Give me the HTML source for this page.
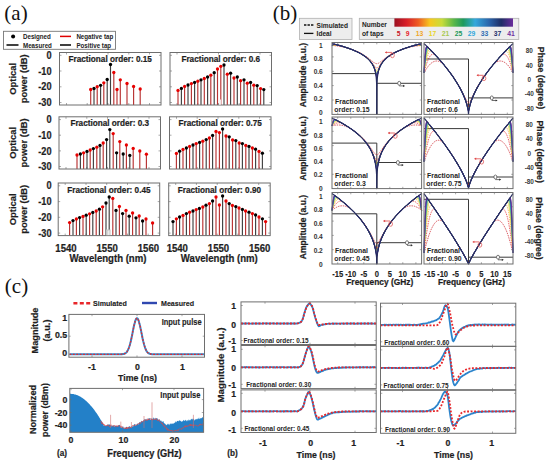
<!DOCTYPE html>
<html><head><meta charset="utf-8"><style>
html,body{margin:0;padding:0;background:#fff;width:550px;height:464px;overflow:hidden}
svg{display:block;font-family:"Liberation Sans",sans-serif}
</style></head><body>
<svg width="550" height="464" viewBox="0 0 550 464"><text x="16" y="19.9" font-size="21" text-anchor="middle" font-weight="normal" fill="#111" font-family="Liberation Serif">(a)</text>
<text x="285" y="20.4" font-size="21" text-anchor="middle" font-weight="normal" fill="#111" font-family="Liberation Serif">(b)</text>
<text x="16.5" y="292.6" font-size="21" text-anchor="middle" font-weight="normal" fill="#111" font-family="Liberation Serif">(c)</text>
<rect x="3.5" y="31.3" width="112" height="18" fill="none" stroke="#777" stroke-width="0.9"/>
<circle cx="13.1" cy="36.4" r="2" fill="#000"/>
<line x1="6.5" y1="45" x2="18.5" y2="45" stroke="#000" stroke-width="1.5"/>
<text x="23" y="38.7" font-size="6.2" text-anchor="start" font-weight="bold" fill="#222" font-family="Liberation Sans" transform="matrix(1 0 0 1.1 0 -3.7)">Designed</text>
<text x="23" y="47.4" font-size="6.2" text-anchor="start" font-weight="bold" fill="#222" font-family="Liberation Sans" transform="matrix(1 0 0 1.1 0 -4.5)">Measured</text>
<line x1="60" y1="36.4" x2="71" y2="36.4" stroke="#e00000" stroke-width="1.5"/>
<line x1="60" y1="45" x2="71" y2="45" stroke="#000" stroke-width="1.5"/>
<text x="76.4" y="38.7" font-size="6.2" text-anchor="start" font-weight="bold" fill="#222" font-family="Liberation Sans" transform="matrix(1 0 0 1.1 0 -3.7)">Negative tap</text>
<text x="76.4" y="47.4" font-size="6.2" text-anchor="start" font-weight="bold" fill="#222" font-family="Liberation Sans" transform="matrix(1 0 0 1.1 0 -4.5)">Positive tap</text>
<text x="51.6" y="58.6" font-size="9.2" text-anchor="end" font-weight="bold" fill="#1e1e1e" font-family="Liberation Sans" transform="matrix(1 0 0 1.1 0 -5.5)" stroke="#1e1e1e" stroke-width="0.2">0</text>
<text x="51.6" y="74.3" font-size="9.2" text-anchor="end" font-weight="bold" fill="#1e1e1e" font-family="Liberation Sans" transform="matrix(1 0 0 1.1 0 -7.1)" stroke="#1e1e1e" stroke-width="0.2">-10</text>
<text x="51.6" y="90.1" font-size="9.2" text-anchor="end" font-weight="bold" fill="#1e1e1e" font-family="Liberation Sans" transform="matrix(1 0 0 1.1 0 -8.7)" stroke="#1e1e1e" stroke-width="0.2">-20</text>
<text x="51.6" y="105.8" font-size="9.2" text-anchor="end" font-weight="bold" fill="#1e1e1e" font-family="Liberation Sans" transform="matrix(1 0 0 1.1 0 -10.3)" stroke="#1e1e1e" stroke-width="0.2">-30</text>
<text x="12.5" y="82.1" font-size="9.4" text-anchor="middle" font-weight="bold" fill="#1e1e1e" font-family="Liberation Sans" transform="rotate(-90 12.5 78.8)" stroke="#1e1e1e" stroke-width="0.2">Optical</text>
<text x="24" y="82.1" font-size="9.4" text-anchor="middle" font-weight="bold" fill="#1e1e1e" font-family="Liberation Sans" transform="rotate(-90 24 78.8)" stroke="#1e1e1e" stroke-width="0.2">power (dB)</text>
<line x1="66.5" y1="105" x2="66.5" y2="103" stroke="#6e6e6e" stroke-width="0.6"/>
<line x1="66.5" y1="52.5" x2="66.5" y2="54.5" stroke="#6e6e6e" stroke-width="0.6"/>
<line x1="87.2" y1="105" x2="87.2" y2="103" stroke="#6e6e6e" stroke-width="0.6"/>
<line x1="87.2" y1="52.5" x2="87.2" y2="54.5" stroke="#6e6e6e" stroke-width="0.6"/>
<line x1="108" y1="105" x2="108" y2="103" stroke="#6e6e6e" stroke-width="0.6"/>
<line x1="108" y1="52.5" x2="108" y2="54.5" stroke="#6e6e6e" stroke-width="0.6"/>
<line x1="128.8" y1="105" x2="128.8" y2="103" stroke="#6e6e6e" stroke-width="0.6"/>
<line x1="128.8" y1="52.5" x2="128.8" y2="54.5" stroke="#6e6e6e" stroke-width="0.6"/>
<line x1="149.5" y1="105" x2="149.5" y2="103" stroke="#6e6e6e" stroke-width="0.6"/>
<line x1="149.5" y1="52.5" x2="149.5" y2="54.5" stroke="#6e6e6e" stroke-width="0.6"/>
<line x1="59.5" y1="55.3" x2="61.5" y2="55.3" stroke="#6e6e6e" stroke-width="0.6"/>
<line x1="161" y1="55.3" x2="159" y2="55.3" stroke="#6e6e6e" stroke-width="0.6"/>
<line x1="59.5" y1="71" x2="61.5" y2="71" stroke="#6e6e6e" stroke-width="0.6"/>
<line x1="161" y1="71" x2="159" y2="71" stroke="#6e6e6e" stroke-width="0.6"/>
<line x1="59.5" y1="86.8" x2="61.5" y2="86.8" stroke="#6e6e6e" stroke-width="0.6"/>
<line x1="161" y1="86.8" x2="159" y2="86.8" stroke="#6e6e6e" stroke-width="0.6"/>
<line x1="59.5" y1="102.5" x2="61.5" y2="102.5" stroke="#6e6e6e" stroke-width="0.6"/>
<line x1="161" y1="102.5" x2="159" y2="102.5" stroke="#6e6e6e" stroke-width="0.6"/>
<line x1="90.7" y1="105" x2="90.7" y2="89.5" stroke="#b83232" stroke-width="1.15"/>
<line x1="94" y1="105" x2="94" y2="88.5" stroke="#404040" stroke-width="1.15"/>
<line x1="97.2" y1="105" x2="97.2" y2="86.7" stroke="#b83232" stroke-width="1.15"/>
<line x1="100.6" y1="105" x2="100.6" y2="85.3" stroke="#404040" stroke-width="1.15"/>
<line x1="103.8" y1="105" x2="103.8" y2="82.8" stroke="#b83232" stroke-width="1.15"/>
<line x1="107.2" y1="105" x2="107.2" y2="79.5" stroke="#404040" stroke-width="1.15"/>
<line x1="110.5" y1="105" x2="110.5" y2="64.5" stroke="#404040" stroke-width="1.15"/>
<line x1="113.8" y1="105" x2="113.8" y2="72.5" stroke="#b83232" stroke-width="1.15"/>
<line x1="117" y1="105" x2="117" y2="89.5" stroke="#b83232" stroke-width="1.15"/>
<line x1="120.3" y1="105" x2="120.3" y2="79.8" stroke="#b83232" stroke-width="1.15"/>
<line x1="127" y1="105" x2="127" y2="83.5" stroke="#b83232" stroke-width="1.15"/>
<line x1="133.6" y1="105" x2="133.6" y2="86.5" stroke="#b83232" stroke-width="1.15"/>
<line x1="140.2" y1="105" x2="140.2" y2="89" stroke="#b83232" stroke-width="1.15"/>
<circle cx="90.7" cy="89.5" r="1.65" fill="#e80000"/>
<circle cx="94" cy="88.5" r="1.65" fill="#000"/>
<circle cx="97.2" cy="86.7" r="1.65" fill="#e80000"/>
<circle cx="100.6" cy="85.3" r="1.65" fill="#000"/>
<circle cx="103.8" cy="82.8" r="1.65" fill="#e80000"/>
<circle cx="107.2" cy="79.5" r="1.65" fill="#000"/>
<circle cx="110.5" cy="64.5" r="1.65" fill="#000"/>
<circle cx="113.8" cy="72.5" r="1.65" fill="#e80000"/>
<circle cx="117" cy="89.5" r="1.65" fill="#e80000"/>
<circle cx="120.3" cy="79.8" r="1.65" fill="#e80000"/>
<circle cx="127" cy="83.5" r="1.65" fill="#e80000"/>
<circle cx="133.6" cy="86.5" r="1.65" fill="#e80000"/>
<circle cx="140.2" cy="89" r="1.65" fill="#e80000"/>
<rect x="59.5" y="52.5" width="101.5" height="52.5" fill="none" stroke="#6e6e6e" stroke-width="1"/>
<text x="110.2" y="61.7" font-size="8.2" text-anchor="middle" font-weight="bold" fill="#1e1e1e" font-family="Liberation Sans" transform="matrix(1 0 0 1.1 0 -5.9)" stroke="#1e1e1e" stroke-width="0.2">Fractional order: 0.15</text>
<line x1="177" y1="105" x2="177" y2="103" stroke="#6e6e6e" stroke-width="0.6"/>
<line x1="177" y1="52.5" x2="177" y2="54.5" stroke="#6e6e6e" stroke-width="0.6"/>
<line x1="197.8" y1="105" x2="197.8" y2="103" stroke="#6e6e6e" stroke-width="0.6"/>
<line x1="197.8" y1="52.5" x2="197.8" y2="54.5" stroke="#6e6e6e" stroke-width="0.6"/>
<line x1="218.5" y1="105" x2="218.5" y2="103" stroke="#6e6e6e" stroke-width="0.6"/>
<line x1="218.5" y1="52.5" x2="218.5" y2="54.5" stroke="#6e6e6e" stroke-width="0.6"/>
<line x1="239.2" y1="105" x2="239.2" y2="103" stroke="#6e6e6e" stroke-width="0.6"/>
<line x1="239.2" y1="52.5" x2="239.2" y2="54.5" stroke="#6e6e6e" stroke-width="0.6"/>
<line x1="260" y1="105" x2="260" y2="103" stroke="#6e6e6e" stroke-width="0.6"/>
<line x1="260" y1="52.5" x2="260" y2="54.5" stroke="#6e6e6e" stroke-width="0.6"/>
<line x1="170" y1="55.3" x2="172" y2="55.3" stroke="#6e6e6e" stroke-width="0.6"/>
<line x1="271.5" y1="55.3" x2="269.5" y2="55.3" stroke="#6e6e6e" stroke-width="0.6"/>
<line x1="170" y1="71" x2="172" y2="71" stroke="#6e6e6e" stroke-width="0.6"/>
<line x1="271.5" y1="71" x2="269.5" y2="71" stroke="#6e6e6e" stroke-width="0.6"/>
<line x1="170" y1="86.8" x2="172" y2="86.8" stroke="#6e6e6e" stroke-width="0.6"/>
<line x1="271.5" y1="86.8" x2="269.5" y2="86.8" stroke="#6e6e6e" stroke-width="0.6"/>
<line x1="170" y1="102.5" x2="172" y2="102.5" stroke="#6e6e6e" stroke-width="0.6"/>
<line x1="271.5" y1="102.5" x2="269.5" y2="102.5" stroke="#6e6e6e" stroke-width="0.6"/>
<line x1="178" y1="105" x2="178" y2="90.4" stroke="#b83232" stroke-width="1.15"/>
<line x1="181.4" y1="105" x2="181.4" y2="88.4" stroke="#404040" stroke-width="1.15"/>
<line x1="184.6" y1="105" x2="184.6" y2="86.4" stroke="#b83232" stroke-width="1.15"/>
<line x1="188" y1="105" x2="188" y2="85" stroke="#404040" stroke-width="1.15"/>
<line x1="191.4" y1="105" x2="191.4" y2="83.6" stroke="#b83232" stroke-width="1.15"/>
<line x1="194.6" y1="105" x2="194.6" y2="82.4" stroke="#404040" stroke-width="1.15"/>
<line x1="197.8" y1="105" x2="197.8" y2="81.2" stroke="#b83232" stroke-width="1.15"/>
<line x1="201" y1="105" x2="201" y2="79.8" stroke="#404040" stroke-width="1.15"/>
<line x1="204.3" y1="105" x2="204.3" y2="78.5" stroke="#b83232" stroke-width="1.15"/>
<line x1="207.6" y1="105" x2="207.6" y2="77" stroke="#404040" stroke-width="1.15"/>
<line x1="210.8" y1="105" x2="210.8" y2="75.2" stroke="#b83232" stroke-width="1.15"/>
<line x1="214.2" y1="105" x2="214.2" y2="72.7" stroke="#404040" stroke-width="1.15"/>
<line x1="217.5" y1="105" x2="217.5" y2="69" stroke="#b83232" stroke-width="1.15"/>
<line x1="220.8" y1="105" x2="220.8" y2="66.3" stroke="#b83232" stroke-width="1.15"/>
<line x1="224" y1="105" x2="224" y2="65" stroke="#404040" stroke-width="1.15"/>
<line x1="227.3" y1="105" x2="227.3" y2="74.2" stroke="#b83232" stroke-width="1.15"/>
<line x1="230.6" y1="105" x2="230.6" y2="73.2" stroke="#404040" stroke-width="1.15"/>
<line x1="234" y1="105" x2="234" y2="78" stroke="#b83232" stroke-width="1.15"/>
<line x1="237.3" y1="105" x2="237.3" y2="77" stroke="#404040" stroke-width="1.15"/>
<line x1="240.6" y1="105" x2="240.6" y2="80.7" stroke="#b83232" stroke-width="1.15"/>
<line x1="244" y1="105" x2="244" y2="79.8" stroke="#404040" stroke-width="1.15"/>
<line x1="247.3" y1="105" x2="247.3" y2="83.2" stroke="#b83232" stroke-width="1.15"/>
<line x1="250.6" y1="105" x2="250.6" y2="82.4" stroke="#404040" stroke-width="1.15"/>
<line x1="253.8" y1="105" x2="253.8" y2="85.2" stroke="#b83232" stroke-width="1.15"/>
<line x1="257.2" y1="105" x2="257.2" y2="85.6" stroke="#404040" stroke-width="1.15"/>
<line x1="260.6" y1="105" x2="260.6" y2="88.6" stroke="#b83232" stroke-width="1.15"/>
<line x1="263.8" y1="105" x2="263.8" y2="89.6" stroke="#404040" stroke-width="1.15"/>
<circle cx="178" cy="90.4" r="1.65" fill="#e80000"/>
<circle cx="181.4" cy="88.4" r="1.65" fill="#000"/>
<circle cx="184.6" cy="86.4" r="1.65" fill="#e80000"/>
<circle cx="188" cy="85" r="1.65" fill="#000"/>
<circle cx="191.4" cy="83.6" r="1.65" fill="#e80000"/>
<circle cx="194.6" cy="82.4" r="1.65" fill="#000"/>
<circle cx="197.8" cy="81.2" r="1.65" fill="#e80000"/>
<circle cx="201" cy="79.8" r="1.65" fill="#000"/>
<circle cx="204.3" cy="78.5" r="1.65" fill="#e80000"/>
<circle cx="207.6" cy="77" r="1.65" fill="#000"/>
<circle cx="210.8" cy="75.2" r="1.65" fill="#e80000"/>
<circle cx="214.2" cy="72.7" r="1.65" fill="#000"/>
<circle cx="217.5" cy="69" r="1.65" fill="#e80000"/>
<circle cx="220.8" cy="66.3" r="1.65" fill="#e80000"/>
<circle cx="224" cy="65" r="1.65" fill="#000"/>
<circle cx="227.3" cy="74.2" r="1.65" fill="#e80000"/>
<circle cx="230.6" cy="73.2" r="1.65" fill="#000"/>
<circle cx="234" cy="78" r="1.65" fill="#e80000"/>
<circle cx="237.3" cy="77" r="1.65" fill="#000"/>
<circle cx="240.6" cy="80.7" r="1.65" fill="#e80000"/>
<circle cx="244" cy="79.8" r="1.65" fill="#000"/>
<circle cx="247.3" cy="83.2" r="1.65" fill="#e80000"/>
<circle cx="250.6" cy="82.4" r="1.65" fill="#000"/>
<circle cx="253.8" cy="85.2" r="1.65" fill="#e80000"/>
<circle cx="257.2" cy="85.6" r="1.65" fill="#000"/>
<circle cx="260.6" cy="88.6" r="1.65" fill="#e80000"/>
<circle cx="263.8" cy="89.6" r="1.65" fill="#000"/>
<rect x="170" y="52.5" width="101.5" height="52.5" fill="none" stroke="#6e6e6e" stroke-width="1"/>
<text x="220.8" y="61.7" font-size="8.2" text-anchor="middle" font-weight="bold" fill="#1e1e1e" font-family="Liberation Sans" transform="matrix(1 0 0 1.1 0 -5.9)" stroke="#1e1e1e" stroke-width="0.2">Fractional order: 0.6</text>
<text x="51.6" y="122.9" font-size="9.2" text-anchor="end" font-weight="bold" fill="#1e1e1e" font-family="Liberation Sans" transform="matrix(1 0 0 1.1 0 -12)" stroke="#1e1e1e" stroke-width="0.2">0</text>
<text x="51.6" y="138.5" font-size="9.2" text-anchor="end" font-weight="bold" fill="#1e1e1e" font-family="Liberation Sans" transform="matrix(1 0 0 1.1 0 -13.5)" stroke="#1e1e1e" stroke-width="0.2">-10</text>
<text x="51.6" y="154.2" font-size="9.2" text-anchor="end" font-weight="bold" fill="#1e1e1e" font-family="Liberation Sans" transform="matrix(1 0 0 1.1 0 -15.1)" stroke="#1e1e1e" stroke-width="0.2">-20</text>
<text x="51.6" y="169.8" font-size="9.2" text-anchor="end" font-weight="bold" fill="#1e1e1e" font-family="Liberation Sans" transform="matrix(1 0 0 1.1 0 -16.7)" stroke="#1e1e1e" stroke-width="0.2">-30</text>
<text x="12.5" y="146.3" font-size="9.4" text-anchor="middle" font-weight="bold" fill="#1e1e1e" font-family="Liberation Sans" transform="rotate(-90 12.5 142.9)" stroke="#1e1e1e" stroke-width="0.2">Optical</text>
<text x="24" y="146.3" font-size="9.4" text-anchor="middle" font-weight="bold" fill="#1e1e1e" font-family="Liberation Sans" transform="rotate(-90 24 142.9)" stroke="#1e1e1e" stroke-width="0.2">power (dB)</text>
<line x1="66" y1="169" x2="66" y2="167" stroke="#6e6e6e" stroke-width="0.6"/>
<line x1="66" y1="116.8" x2="66" y2="118.8" stroke="#6e6e6e" stroke-width="0.6"/>
<line x1="86.8" y1="169" x2="86.8" y2="167" stroke="#6e6e6e" stroke-width="0.6"/>
<line x1="86.8" y1="116.8" x2="86.8" y2="118.8" stroke="#6e6e6e" stroke-width="0.6"/>
<line x1="107.5" y1="169" x2="107.5" y2="167" stroke="#6e6e6e" stroke-width="0.6"/>
<line x1="107.5" y1="116.8" x2="107.5" y2="118.8" stroke="#6e6e6e" stroke-width="0.6"/>
<line x1="128.2" y1="169" x2="128.2" y2="167" stroke="#6e6e6e" stroke-width="0.6"/>
<line x1="128.2" y1="116.8" x2="128.2" y2="118.8" stroke="#6e6e6e" stroke-width="0.6"/>
<line x1="149" y1="169" x2="149" y2="167" stroke="#6e6e6e" stroke-width="0.6"/>
<line x1="149" y1="116.8" x2="149" y2="118.8" stroke="#6e6e6e" stroke-width="0.6"/>
<line x1="59" y1="119.6" x2="61" y2="119.6" stroke="#6e6e6e" stroke-width="0.6"/>
<line x1="160.5" y1="119.6" x2="158.5" y2="119.6" stroke="#6e6e6e" stroke-width="0.6"/>
<line x1="59" y1="135.2" x2="61" y2="135.2" stroke="#6e6e6e" stroke-width="0.6"/>
<line x1="160.5" y1="135.2" x2="158.5" y2="135.2" stroke="#6e6e6e" stroke-width="0.6"/>
<line x1="59" y1="150.9" x2="61" y2="150.9" stroke="#6e6e6e" stroke-width="0.6"/>
<line x1="160.5" y1="150.9" x2="158.5" y2="150.9" stroke="#6e6e6e" stroke-width="0.6"/>
<line x1="59" y1="166.5" x2="61" y2="166.5" stroke="#6e6e6e" stroke-width="0.6"/>
<line x1="160.5" y1="166.5" x2="158.5" y2="166.5" stroke="#6e6e6e" stroke-width="0.6"/>
<line x1="77" y1="169" x2="77" y2="155" stroke="#b83232" stroke-width="1.15"/>
<line x1="80.4" y1="169" x2="80.4" y2="154" stroke="#404040" stroke-width="1.15"/>
<line x1="83.6" y1="169" x2="83.6" y2="152.8" stroke="#b83232" stroke-width="1.15"/>
<line x1="87" y1="169" x2="87" y2="151.4" stroke="#404040" stroke-width="1.15"/>
<line x1="90.2" y1="169" x2="90.2" y2="150" stroke="#b83232" stroke-width="1.15"/>
<line x1="93.4" y1="169" x2="93.4" y2="148.6" stroke="#404040" stroke-width="1.15"/>
<line x1="96.8" y1="169" x2="96.8" y2="147.2" stroke="#b83232" stroke-width="1.15"/>
<line x1="100" y1="169" x2="100" y2="145.4" stroke="#404040" stroke-width="1.15"/>
<line x1="103.2" y1="169" x2="103.2" y2="143" stroke="#b83232" stroke-width="1.15"/>
<line x1="106.6" y1="169" x2="106.6" y2="139.6" stroke="#404040" stroke-width="1.15"/>
<line x1="109.8" y1="169" x2="109.8" y2="129.6" stroke="#404040" stroke-width="1.15"/>
<line x1="113.2" y1="169" x2="113.2" y2="133.6" stroke="#b83232" stroke-width="1.15"/>
<line x1="116.6" y1="169" x2="116.6" y2="152.8" stroke="#404040" stroke-width="1.15"/>
<line x1="119.8" y1="169" x2="119.8" y2="141.6" stroke="#b83232" stroke-width="1.15"/>
<line x1="123.2" y1="169" x2="123.2" y2="154" stroke="#404040" stroke-width="1.15"/>
<line x1="126.4" y1="169" x2="126.4" y2="145" stroke="#b83232" stroke-width="1.15"/>
<line x1="129.8" y1="169" x2="129.8" y2="155.4" stroke="#404040" stroke-width="1.15"/>
<line x1="133.2" y1="169" x2="133.2" y2="148.4" stroke="#b83232" stroke-width="1.15"/>
<line x1="139.8" y1="169" x2="139.8" y2="151" stroke="#b83232" stroke-width="1.15"/>
<line x1="146.4" y1="169" x2="146.4" y2="154.2" stroke="#b83232" stroke-width="1.15"/>
<circle cx="77" cy="155" r="1.65" fill="#e80000"/>
<circle cx="80.4" cy="154" r="1.65" fill="#000"/>
<circle cx="83.6" cy="152.8" r="1.65" fill="#e80000"/>
<circle cx="87" cy="151.4" r="1.65" fill="#000"/>
<circle cx="90.2" cy="150" r="1.65" fill="#e80000"/>
<circle cx="93.4" cy="148.6" r="1.65" fill="#000"/>
<circle cx="96.8" cy="147.2" r="1.65" fill="#e80000"/>
<circle cx="100" cy="145.4" r="1.65" fill="#000"/>
<circle cx="103.2" cy="143" r="1.65" fill="#e80000"/>
<circle cx="106.6" cy="139.6" r="1.65" fill="#000"/>
<circle cx="109.8" cy="129.6" r="1.65" fill="#000"/>
<circle cx="113.2" cy="133.6" r="1.65" fill="#e80000"/>
<circle cx="116.6" cy="152.8" r="1.65" fill="#000"/>
<circle cx="119.8" cy="141.6" r="1.65" fill="#e80000"/>
<circle cx="123.2" cy="154" r="1.65" fill="#000"/>
<circle cx="126.4" cy="145" r="1.65" fill="#e80000"/>
<circle cx="129.8" cy="155.4" r="1.65" fill="#000"/>
<circle cx="133.2" cy="148.4" r="1.65" fill="#e80000"/>
<circle cx="139.8" cy="151" r="1.65" fill="#e80000"/>
<circle cx="146.4" cy="154.2" r="1.65" fill="#e80000"/>
<rect x="59" y="116.8" width="101.5" height="52.2" fill="none" stroke="#6e6e6e" stroke-width="1"/>
<text x="109.8" y="126" font-size="8.2" text-anchor="middle" font-weight="bold" fill="#1e1e1e" font-family="Liberation Sans" transform="matrix(1 0 0 1.1 0 -12.3)" stroke="#1e1e1e" stroke-width="0.2">Fractional order: 0.3</text>
<line x1="176.5" y1="169" x2="176.5" y2="167" stroke="#6e6e6e" stroke-width="0.6"/>
<line x1="176.5" y1="116.8" x2="176.5" y2="118.8" stroke="#6e6e6e" stroke-width="0.6"/>
<line x1="197.2" y1="169" x2="197.2" y2="167" stroke="#6e6e6e" stroke-width="0.6"/>
<line x1="197.2" y1="116.8" x2="197.2" y2="118.8" stroke="#6e6e6e" stroke-width="0.6"/>
<line x1="218" y1="169" x2="218" y2="167" stroke="#6e6e6e" stroke-width="0.6"/>
<line x1="218" y1="116.8" x2="218" y2="118.8" stroke="#6e6e6e" stroke-width="0.6"/>
<line x1="238.8" y1="169" x2="238.8" y2="167" stroke="#6e6e6e" stroke-width="0.6"/>
<line x1="238.8" y1="116.8" x2="238.8" y2="118.8" stroke="#6e6e6e" stroke-width="0.6"/>
<line x1="259.5" y1="169" x2="259.5" y2="167" stroke="#6e6e6e" stroke-width="0.6"/>
<line x1="259.5" y1="116.8" x2="259.5" y2="118.8" stroke="#6e6e6e" stroke-width="0.6"/>
<line x1="169.5" y1="119.6" x2="171.5" y2="119.6" stroke="#6e6e6e" stroke-width="0.6"/>
<line x1="271" y1="119.6" x2="269" y2="119.6" stroke="#6e6e6e" stroke-width="0.6"/>
<line x1="169.5" y1="135.2" x2="171.5" y2="135.2" stroke="#6e6e6e" stroke-width="0.6"/>
<line x1="271" y1="135.2" x2="269" y2="135.2" stroke="#6e6e6e" stroke-width="0.6"/>
<line x1="169.5" y1="150.9" x2="171.5" y2="150.9" stroke="#6e6e6e" stroke-width="0.6"/>
<line x1="271" y1="150.9" x2="269" y2="150.9" stroke="#6e6e6e" stroke-width="0.6"/>
<line x1="169.5" y1="166.5" x2="171.5" y2="166.5" stroke="#6e6e6e" stroke-width="0.6"/>
<line x1="271" y1="166.5" x2="269" y2="166.5" stroke="#6e6e6e" stroke-width="0.6"/>
<line x1="176.4" y1="169" x2="176.4" y2="153.4" stroke="#b83232" stroke-width="1.15"/>
<line x1="179.6" y1="169" x2="179.6" y2="151.2" stroke="#404040" stroke-width="1.15"/>
<line x1="183" y1="169" x2="183" y2="149.4" stroke="#b83232" stroke-width="1.15"/>
<line x1="186.4" y1="169" x2="186.4" y2="148" stroke="#404040" stroke-width="1.15"/>
<line x1="189.6" y1="169" x2="189.6" y2="146.4" stroke="#b83232" stroke-width="1.15"/>
<line x1="193" y1="169" x2="193" y2="145" stroke="#404040" stroke-width="1.15"/>
<line x1="196.2" y1="169" x2="196.2" y2="143.6" stroke="#b83232" stroke-width="1.15"/>
<line x1="199.6" y1="169" x2="199.6" y2="142.4" stroke="#404040" stroke-width="1.15"/>
<line x1="202.8" y1="169" x2="202.8" y2="141.2" stroke="#b83232" stroke-width="1.15"/>
<line x1="206.2" y1="169" x2="206.2" y2="139.6" stroke="#404040" stroke-width="1.15"/>
<line x1="209.4" y1="169" x2="209.4" y2="138" stroke="#b83232" stroke-width="1.15"/>
<line x1="212.6" y1="169" x2="212.6" y2="135.4" stroke="#404040" stroke-width="1.15"/>
<line x1="216" y1="169" x2="216" y2="131.4" stroke="#b83232" stroke-width="1.15"/>
<line x1="219.4" y1="169" x2="219.4" y2="132.6" stroke="#b83232" stroke-width="1.15"/>
<line x1="222.6" y1="169" x2="222.6" y2="129" stroke="#404040" stroke-width="1.15"/>
<line x1="226" y1="169" x2="226" y2="136" stroke="#b83232" stroke-width="1.15"/>
<line x1="229.2" y1="169" x2="229.2" y2="136.8" stroke="#404040" stroke-width="1.15"/>
<line x1="232.6" y1="169" x2="232.6" y2="140" stroke="#b83232" stroke-width="1.15"/>
<line x1="235.8" y1="169" x2="235.8" y2="140.6" stroke="#404040" stroke-width="1.15"/>
<line x1="239.2" y1="169" x2="239.2" y2="143" stroke="#b83232" stroke-width="1.15"/>
<line x1="242.4" y1="169" x2="242.4" y2="143.6" stroke="#404040" stroke-width="1.15"/>
<line x1="245.8" y1="169" x2="245.8" y2="145.4" stroke="#b83232" stroke-width="1.15"/>
<line x1="249" y1="169" x2="249" y2="146.4" stroke="#404040" stroke-width="1.15"/>
<line x1="252.4" y1="169" x2="252.4" y2="148" stroke="#b83232" stroke-width="1.15"/>
<line x1="255.6" y1="169" x2="255.6" y2="149.2" stroke="#404040" stroke-width="1.15"/>
<line x1="259" y1="169" x2="259" y2="151.4" stroke="#b83232" stroke-width="1.15"/>
<line x1="262.4" y1="169" x2="262.4" y2="153.2" stroke="#404040" stroke-width="1.15"/>
<circle cx="176.4" cy="153.4" r="1.65" fill="#e80000"/>
<circle cx="179.6" cy="151.2" r="1.65" fill="#000"/>
<circle cx="183" cy="149.4" r="1.65" fill="#e80000"/>
<circle cx="186.4" cy="148" r="1.65" fill="#000"/>
<circle cx="189.6" cy="146.4" r="1.65" fill="#e80000"/>
<circle cx="193" cy="145" r="1.65" fill="#000"/>
<circle cx="196.2" cy="143.6" r="1.65" fill="#e80000"/>
<circle cx="199.6" cy="142.4" r="1.65" fill="#000"/>
<circle cx="202.8" cy="141.2" r="1.65" fill="#e80000"/>
<circle cx="206.2" cy="139.6" r="1.65" fill="#000"/>
<circle cx="209.4" cy="138" r="1.65" fill="#e80000"/>
<circle cx="212.6" cy="135.4" r="1.65" fill="#000"/>
<circle cx="216" cy="131.4" r="1.65" fill="#e80000"/>
<circle cx="219.4" cy="132.6" r="1.65" fill="#e80000"/>
<circle cx="222.6" cy="129" r="1.65" fill="#000"/>
<circle cx="226" cy="136" r="1.65" fill="#e80000"/>
<circle cx="229.2" cy="136.8" r="1.65" fill="#000"/>
<circle cx="232.6" cy="140" r="1.65" fill="#e80000"/>
<circle cx="235.8" cy="140.6" r="1.65" fill="#000"/>
<circle cx="239.2" cy="143" r="1.65" fill="#e80000"/>
<circle cx="242.4" cy="143.6" r="1.65" fill="#000"/>
<circle cx="245.8" cy="145.4" r="1.65" fill="#e80000"/>
<circle cx="249" cy="146.4" r="1.65" fill="#000"/>
<circle cx="252.4" cy="148" r="1.65" fill="#e80000"/>
<circle cx="255.6" cy="149.2" r="1.65" fill="#000"/>
<circle cx="259" cy="151.4" r="1.65" fill="#e80000"/>
<circle cx="262.4" cy="153.2" r="1.65" fill="#000"/>
<rect x="169.5" y="116.8" width="101.5" height="52.2" fill="none" stroke="#6e6e6e" stroke-width="1"/>
<text x="220.2" y="126" font-size="8.2" text-anchor="middle" font-weight="bold" fill="#1e1e1e" font-family="Liberation Sans" transform="matrix(1 0 0 1.1 0 -12.3)" stroke="#1e1e1e" stroke-width="0.2">Fractional order: 0.75</text>
<text x="51.6" y="189.1" font-size="9.2" text-anchor="end" font-weight="bold" fill="#1e1e1e" font-family="Liberation Sans" transform="matrix(1 0 0 1.1 0 -18.6)" stroke="#1e1e1e" stroke-width="0.2">0</text>
<text x="51.6" y="204.9" font-size="9.2" text-anchor="end" font-weight="bold" fill="#1e1e1e" font-family="Liberation Sans" transform="matrix(1 0 0 1.1 0 -20.2)" stroke="#1e1e1e" stroke-width="0.2">-10</text>
<text x="51.6" y="220.6" font-size="9.2" text-anchor="end" font-weight="bold" fill="#1e1e1e" font-family="Liberation Sans" transform="matrix(1 0 0 1.1 0 -21.7)" stroke="#1e1e1e" stroke-width="0.2">-20</text>
<text x="51.6" y="236.4" font-size="9.2" text-anchor="end" font-weight="bold" fill="#1e1e1e" font-family="Liberation Sans" transform="matrix(1 0 0 1.1 0 -23.3)" stroke="#1e1e1e" stroke-width="0.2">-30</text>
<text x="12.5" y="212.7" font-size="9.4" text-anchor="middle" font-weight="bold" fill="#1e1e1e" font-family="Liberation Sans" transform="rotate(-90 12.5 209.3)" stroke="#1e1e1e" stroke-width="0.2">Optical</text>
<text x="24" y="212.7" font-size="9.4" text-anchor="middle" font-weight="bold" fill="#1e1e1e" font-family="Liberation Sans" transform="rotate(-90 24 209.3)" stroke="#1e1e1e" stroke-width="0.2">power (dB)</text>
<line x1="65.2" y1="235.6" x2="65.2" y2="233.6" stroke="#6e6e6e" stroke-width="0.6"/>
<line x1="65.2" y1="183" x2="65.2" y2="185" stroke="#6e6e6e" stroke-width="0.6"/>
<line x1="86" y1="235.6" x2="86" y2="233.6" stroke="#6e6e6e" stroke-width="0.6"/>
<line x1="86" y1="183" x2="86" y2="185" stroke="#6e6e6e" stroke-width="0.6"/>
<line x1="106.7" y1="235.6" x2="106.7" y2="233.6" stroke="#6e6e6e" stroke-width="0.6"/>
<line x1="106.7" y1="183" x2="106.7" y2="185" stroke="#6e6e6e" stroke-width="0.6"/>
<line x1="127.5" y1="235.6" x2="127.5" y2="233.6" stroke="#6e6e6e" stroke-width="0.6"/>
<line x1="127.5" y1="183" x2="127.5" y2="185" stroke="#6e6e6e" stroke-width="0.6"/>
<line x1="148.2" y1="235.6" x2="148.2" y2="233.6" stroke="#6e6e6e" stroke-width="0.6"/>
<line x1="148.2" y1="183" x2="148.2" y2="185" stroke="#6e6e6e" stroke-width="0.6"/>
<line x1="58.2" y1="185.8" x2="60.2" y2="185.8" stroke="#6e6e6e" stroke-width="0.6"/>
<line x1="159.7" y1="185.8" x2="157.7" y2="185.8" stroke="#6e6e6e" stroke-width="0.6"/>
<line x1="58.2" y1="201.6" x2="60.2" y2="201.6" stroke="#6e6e6e" stroke-width="0.6"/>
<line x1="159.7" y1="201.6" x2="157.7" y2="201.6" stroke="#6e6e6e" stroke-width="0.6"/>
<line x1="58.2" y1="217.3" x2="60.2" y2="217.3" stroke="#6e6e6e" stroke-width="0.6"/>
<line x1="159.7" y1="217.3" x2="157.7" y2="217.3" stroke="#6e6e6e" stroke-width="0.6"/>
<line x1="58.2" y1="233.1" x2="60.2" y2="233.1" stroke="#6e6e6e" stroke-width="0.6"/>
<line x1="159.7" y1="233.1" x2="157.7" y2="233.1" stroke="#6e6e6e" stroke-width="0.6"/>
<line x1="69.6" y1="235.6" x2="69.6" y2="222.6" stroke="#b83232" stroke-width="1.15"/>
<line x1="73" y1="235.6" x2="73" y2="220.6" stroke="#404040" stroke-width="1.15"/>
<line x1="76.4" y1="235.6" x2="76.4" y2="219" stroke="#b83232" stroke-width="1.15"/>
<line x1="79.6" y1="235.6" x2="79.6" y2="217.6" stroke="#404040" stroke-width="1.15"/>
<line x1="83" y1="235.6" x2="83" y2="216.4" stroke="#b83232" stroke-width="1.15"/>
<line x1="86.2" y1="235.6" x2="86.2" y2="215.2" stroke="#404040" stroke-width="1.15"/>
<line x1="89.6" y1="235.6" x2="89.6" y2="213.8" stroke="#b83232" stroke-width="1.15"/>
<line x1="92.8" y1="235.6" x2="92.8" y2="212.4" stroke="#404040" stroke-width="1.15"/>
<line x1="96.2" y1="235.6" x2="96.2" y2="211" stroke="#b83232" stroke-width="1.15"/>
<line x1="99.4" y1="235.6" x2="99.4" y2="209.2" stroke="#404040" stroke-width="1.15"/>
<line x1="102.6" y1="235.6" x2="102.6" y2="206.8" stroke="#b83232" stroke-width="1.15"/>
<line x1="106" y1="235.6" x2="106" y2="203" stroke="#404040" stroke-width="1.15"/>
<line x1="109.2" y1="235.6" x2="109.2" y2="197" stroke="#404040" stroke-width="1.15"/>
<line x1="112.8" y1="235.6" x2="112.8" y2="198.4" stroke="#b83232" stroke-width="1.15"/>
<line x1="116" y1="235.6" x2="116" y2="210.4" stroke="#404040" stroke-width="1.15"/>
<line x1="119.4" y1="235.6" x2="119.4" y2="206.4" stroke="#b83232" stroke-width="1.15"/>
<line x1="122.6" y1="235.6" x2="122.6" y2="213.6" stroke="#404040" stroke-width="1.15"/>
<line x1="126" y1="235.6" x2="126" y2="210.4" stroke="#b83232" stroke-width="1.15"/>
<line x1="129.2" y1="235.6" x2="129.2" y2="216.2" stroke="#404040" stroke-width="1.15"/>
<line x1="132.6" y1="235.6" x2="132.6" y2="213" stroke="#b83232" stroke-width="1.15"/>
<line x1="136" y1="235.6" x2="136" y2="217.8" stroke="#404040" stroke-width="1.15"/>
<line x1="139.2" y1="235.6" x2="139.2" y2="216" stroke="#b83232" stroke-width="1.15"/>
<line x1="142.6" y1="235.6" x2="142.6" y2="221" stroke="#404040" stroke-width="1.15"/>
<line x1="146" y1="235.6" x2="146" y2="219" stroke="#b83232" stroke-width="1.15"/>
<line x1="152.6" y1="235.6" x2="152.6" y2="223" stroke="#b83232" stroke-width="1.15"/>
<circle cx="69.6" cy="222.6" r="1.65" fill="#e80000"/>
<circle cx="73" cy="220.6" r="1.65" fill="#000"/>
<circle cx="76.4" cy="219" r="1.65" fill="#e80000"/>
<circle cx="79.6" cy="217.6" r="1.65" fill="#000"/>
<circle cx="83" cy="216.4" r="1.65" fill="#e80000"/>
<circle cx="86.2" cy="215.2" r="1.65" fill="#000"/>
<circle cx="89.6" cy="213.8" r="1.65" fill="#e80000"/>
<circle cx="92.8" cy="212.4" r="1.65" fill="#000"/>
<circle cx="96.2" cy="211" r="1.65" fill="#e80000"/>
<circle cx="99.4" cy="209.2" r="1.65" fill="#000"/>
<circle cx="102.6" cy="206.8" r="1.65" fill="#e80000"/>
<circle cx="106" cy="203" r="1.65" fill="#000"/>
<circle cx="109.2" cy="197" r="1.65" fill="#000"/>
<circle cx="112.8" cy="198.4" r="1.65" fill="#e80000"/>
<circle cx="116" cy="210.4" r="1.65" fill="#000"/>
<circle cx="119.4" cy="206.4" r="1.65" fill="#e80000"/>
<circle cx="122.6" cy="213.6" r="1.65" fill="#000"/>
<circle cx="126" cy="210.4" r="1.65" fill="#e80000"/>
<circle cx="129.2" cy="216.2" r="1.65" fill="#000"/>
<circle cx="132.6" cy="213" r="1.65" fill="#e80000"/>
<circle cx="136" cy="217.8" r="1.65" fill="#000"/>
<circle cx="139.2" cy="216" r="1.65" fill="#e80000"/>
<circle cx="142.6" cy="221" r="1.65" fill="#000"/>
<circle cx="146" cy="219" r="1.65" fill="#e80000"/>
<circle cx="152.6" cy="223" r="1.65" fill="#e80000"/>
<rect x="58.2" y="183" width="101.5" height="52.6" fill="none" stroke="#6e6e6e" stroke-width="1"/>
<text x="108.9" y="192.2" font-size="8.2" text-anchor="middle" font-weight="bold" fill="#1e1e1e" font-family="Liberation Sans" transform="matrix(1 0 0 1.1 0 -18.9)" stroke="#1e1e1e" stroke-width="0.2">Fractional order: 0.45</text>
<line x1="175.7" y1="235.6" x2="175.7" y2="233.6" stroke="#6e6e6e" stroke-width="0.6"/>
<line x1="175.7" y1="183" x2="175.7" y2="185" stroke="#6e6e6e" stroke-width="0.6"/>
<line x1="196.4" y1="235.6" x2="196.4" y2="233.6" stroke="#6e6e6e" stroke-width="0.6"/>
<line x1="196.4" y1="183" x2="196.4" y2="185" stroke="#6e6e6e" stroke-width="0.6"/>
<line x1="217.2" y1="235.6" x2="217.2" y2="233.6" stroke="#6e6e6e" stroke-width="0.6"/>
<line x1="217.2" y1="183" x2="217.2" y2="185" stroke="#6e6e6e" stroke-width="0.6"/>
<line x1="237.9" y1="235.6" x2="237.9" y2="233.6" stroke="#6e6e6e" stroke-width="0.6"/>
<line x1="237.9" y1="183" x2="237.9" y2="185" stroke="#6e6e6e" stroke-width="0.6"/>
<line x1="258.7" y1="235.6" x2="258.7" y2="233.6" stroke="#6e6e6e" stroke-width="0.6"/>
<line x1="258.7" y1="183" x2="258.7" y2="185" stroke="#6e6e6e" stroke-width="0.6"/>
<line x1="168.7" y1="185.8" x2="170.7" y2="185.8" stroke="#6e6e6e" stroke-width="0.6"/>
<line x1="270.2" y1="185.8" x2="268.2" y2="185.8" stroke="#6e6e6e" stroke-width="0.6"/>
<line x1="168.7" y1="201.6" x2="170.7" y2="201.6" stroke="#6e6e6e" stroke-width="0.6"/>
<line x1="270.2" y1="201.6" x2="268.2" y2="201.6" stroke="#6e6e6e" stroke-width="0.6"/>
<line x1="168.7" y1="217.3" x2="170.7" y2="217.3" stroke="#6e6e6e" stroke-width="0.6"/>
<line x1="270.2" y1="217.3" x2="268.2" y2="217.3" stroke="#6e6e6e" stroke-width="0.6"/>
<line x1="168.7" y1="233.1" x2="170.7" y2="233.1" stroke="#6e6e6e" stroke-width="0.6"/>
<line x1="270.2" y1="233.1" x2="268.2" y2="233.1" stroke="#6e6e6e" stroke-width="0.6"/>
<line x1="173" y1="235.6" x2="173" y2="221.6" stroke="#404040" stroke-width="1.15"/>
<line x1="176.4" y1="235.6" x2="176.4" y2="218.8" stroke="#b83232" stroke-width="1.15"/>
<line x1="179.6" y1="235.6" x2="179.6" y2="217" stroke="#404040" stroke-width="1.15"/>
<line x1="183" y1="235.6" x2="183" y2="215.4" stroke="#b83232" stroke-width="1.15"/>
<line x1="186.4" y1="235.6" x2="186.4" y2="213.6" stroke="#404040" stroke-width="1.15"/>
<line x1="189.6" y1="235.6" x2="189.6" y2="212.2" stroke="#b83232" stroke-width="1.15"/>
<line x1="193" y1="235.6" x2="193" y2="211" stroke="#404040" stroke-width="1.15"/>
<line x1="196.2" y1="235.6" x2="196.2" y2="209.6" stroke="#b83232" stroke-width="1.15"/>
<line x1="199.4" y1="235.6" x2="199.4" y2="208.4" stroke="#404040" stroke-width="1.15"/>
<line x1="202.8" y1="235.6" x2="202.8" y2="207" stroke="#b83232" stroke-width="1.15"/>
<line x1="206" y1="235.6" x2="206" y2="205.2" stroke="#404040" stroke-width="1.15"/>
<line x1="209.4" y1="235.6" x2="209.4" y2="203.6" stroke="#b83232" stroke-width="1.15"/>
<line x1="212.6" y1="235.6" x2="212.6" y2="201" stroke="#404040" stroke-width="1.15"/>
<line x1="216" y1="235.6" x2="216" y2="197" stroke="#b83232" stroke-width="1.15"/>
<line x1="219.4" y1="235.6" x2="219.4" y2="205" stroke="#b83232" stroke-width="1.15"/>
<line x1="222.6" y1="235.6" x2="222.6" y2="196" stroke="#404040" stroke-width="1.15"/>
<line x1="226" y1="235.6" x2="226" y2="201" stroke="#b83232" stroke-width="1.15"/>
<line x1="229.2" y1="235.6" x2="229.2" y2="203.6" stroke="#404040" stroke-width="1.15"/>
<line x1="232.4" y1="235.6" x2="232.4" y2="205.4" stroke="#b83232" stroke-width="1.15"/>
<line x1="235.8" y1="235.6" x2="235.8" y2="206.6" stroke="#404040" stroke-width="1.15"/>
<line x1="239" y1="235.6" x2="239" y2="208" stroke="#b83232" stroke-width="1.15"/>
<line x1="242.4" y1="235.6" x2="242.4" y2="209.4" stroke="#404040" stroke-width="1.15"/>
<line x1="245.6" y1="235.6" x2="245.6" y2="211" stroke="#b83232" stroke-width="1.15"/>
<line x1="249" y1="235.6" x2="249" y2="212.2" stroke="#404040" stroke-width="1.15"/>
<line x1="252.4" y1="235.6" x2="252.4" y2="213.6" stroke="#b83232" stroke-width="1.15"/>
<line x1="255.6" y1="235.6" x2="255.6" y2="215" stroke="#404040" stroke-width="1.15"/>
<line x1="259" y1="235.6" x2="259" y2="217" stroke="#b83232" stroke-width="1.15"/>
<line x1="262.4" y1="235.6" x2="262.4" y2="218.8" stroke="#404040" stroke-width="1.15"/>
<line x1="265.6" y1="235.6" x2="265.6" y2="221.6" stroke="#b83232" stroke-width="1.15"/>
<circle cx="173" cy="221.6" r="1.65" fill="#000"/>
<circle cx="176.4" cy="218.8" r="1.65" fill="#e80000"/>
<circle cx="179.6" cy="217" r="1.65" fill="#000"/>
<circle cx="183" cy="215.4" r="1.65" fill="#e80000"/>
<circle cx="186.4" cy="213.6" r="1.65" fill="#000"/>
<circle cx="189.6" cy="212.2" r="1.65" fill="#e80000"/>
<circle cx="193" cy="211" r="1.65" fill="#000"/>
<circle cx="196.2" cy="209.6" r="1.65" fill="#e80000"/>
<circle cx="199.4" cy="208.4" r="1.65" fill="#000"/>
<circle cx="202.8" cy="207" r="1.65" fill="#e80000"/>
<circle cx="206" cy="205.2" r="1.65" fill="#000"/>
<circle cx="209.4" cy="203.6" r="1.65" fill="#e80000"/>
<circle cx="212.6" cy="201" r="1.65" fill="#000"/>
<circle cx="216" cy="197" r="1.65" fill="#e80000"/>
<circle cx="219.4" cy="205" r="1.65" fill="#e80000"/>
<circle cx="222.6" cy="196" r="1.65" fill="#000"/>
<circle cx="226" cy="201" r="1.65" fill="#e80000"/>
<circle cx="229.2" cy="203.6" r="1.65" fill="#000"/>
<circle cx="232.4" cy="205.4" r="1.65" fill="#e80000"/>
<circle cx="235.8" cy="206.6" r="1.65" fill="#000"/>
<circle cx="239" cy="208" r="1.65" fill="#e80000"/>
<circle cx="242.4" cy="209.4" r="1.65" fill="#000"/>
<circle cx="245.6" cy="211" r="1.65" fill="#e80000"/>
<circle cx="249" cy="212.2" r="1.65" fill="#000"/>
<circle cx="252.4" cy="213.6" r="1.65" fill="#e80000"/>
<circle cx="255.6" cy="215" r="1.65" fill="#000"/>
<circle cx="259" cy="217" r="1.65" fill="#e80000"/>
<circle cx="262.4" cy="218.8" r="1.65" fill="#000"/>
<circle cx="265.6" cy="221.6" r="1.65" fill="#e80000"/>
<rect x="168.7" y="183" width="101.5" height="52.6" fill="none" stroke="#6e6e6e" stroke-width="1"/>
<text x="219.4" y="192.2" font-size="8.2" text-anchor="middle" font-weight="bold" fill="#1e1e1e" font-family="Liberation Sans" transform="matrix(1 0 0 1.1 0 -18.9)" stroke="#1e1e1e" stroke-width="0.2">Fractional order: 0.90</text>
<rect x="106" y="229.5" width="4.5" height="5.8" fill="#c4c4c4"/>
<rect x="107.5" y="230.5" width="2" height="4.5" fill="#ececec"/>
<rect x="219.3" y="99.5" width="1.6" height="5.3" fill="#f4f4f4"/>
<text x="66" y="251.2" font-size="9.6" text-anchor="middle" font-weight="bold" fill="#1e1e1e" font-family="Liberation Sans" transform="matrix(1 0 0 1.1 0 -24.8)" stroke="#1e1e1e" stroke-width="0.2">1540</text>
<text x="107.2" y="251.2" font-size="9.6" text-anchor="middle" font-weight="bold" fill="#1e1e1e" font-family="Liberation Sans" transform="matrix(1 0 0 1.1 0 -24.8)" stroke="#1e1e1e" stroke-width="0.2">1550</text>
<text x="148.4" y="251.2" font-size="9.6" text-anchor="middle" font-weight="bold" fill="#1e1e1e" font-family="Liberation Sans" transform="matrix(1 0 0 1.1 0 -24.8)" stroke="#1e1e1e" stroke-width="0.2">1560</text>
<text x="108" y="261.8" font-size="9.6" text-anchor="middle" font-weight="bold" fill="#1e1e1e" font-family="Liberation Sans" transform="matrix(1 0 0 1.1 0 -25.8)" stroke="#1e1e1e" stroke-width="0.2">Wavelength (nm)</text>
<text x="177.3" y="251.2" font-size="9.6" text-anchor="middle" font-weight="bold" fill="#1e1e1e" font-family="Liberation Sans" transform="matrix(1 0 0 1.1 0 -24.8)" stroke="#1e1e1e" stroke-width="0.2">1540</text>
<text x="218.5" y="251.2" font-size="9.6" text-anchor="middle" font-weight="bold" fill="#1e1e1e" font-family="Liberation Sans" transform="matrix(1 0 0 1.1 0 -24.8)" stroke="#1e1e1e" stroke-width="0.2">1550</text>
<text x="259.7" y="251.2" font-size="9.6" text-anchor="middle" font-weight="bold" fill="#1e1e1e" font-family="Liberation Sans" transform="matrix(1 0 0 1.1 0 -24.8)" stroke="#1e1e1e" stroke-width="0.2">1560</text>
<text x="219.3" y="261.8" font-size="9.6" text-anchor="middle" font-weight="bold" fill="#1e1e1e" font-family="Liberation Sans" transform="matrix(1 0 0 1.1 0 -25.8)" stroke="#1e1e1e" stroke-width="0.2">Wavelength (nm)</text>
<rect x="299.5" y="18.3" width="52.5" height="21.1" fill="#ededed" stroke="#b0b0b0" stroke-width="0.8"/>
<line x1="304" y1="25" x2="313.4" y2="25" stroke="#111" stroke-width="1.3" stroke-dasharray="2.4 1.1"/>
<line x1="304" y1="33.4" x2="313.4" y2="33.4" stroke="#111" stroke-width="1.3"/>
<text x="316.6" y="27.4" font-size="6.6" text-anchor="start" font-weight="bold" fill="#222" font-family="Liberation Sans" transform="matrix(1 0 0 1.1 0 -2.5)">Simulated</text>
<text x="316.6" y="35.8" font-size="6.6" text-anchor="start" font-weight="bold" fill="#222" font-family="Liberation Sans" transform="matrix(1 0 0 1.1 0 -3.3)">Ideal</text>
<rect x="359.3" y="18.3" width="159.5" height="21.1" fill="#ededed" stroke="#b0b0b0" stroke-width="0.8"/>
<text x="362" y="27.2" font-size="6.6" text-anchor="start" font-weight="bold" fill="#222" font-family="Liberation Sans" transform="matrix(1 0 0 1.1 0 -2.48)">Number</text>
<text x="362" y="35.6" font-size="6.6" text-anchor="start" font-weight="bold" fill="#222" font-family="Liberation Sans" transform="matrix(1 0 0 1.1 0 -3.3)">of taps</text>
<defs><linearGradient id="cb" x1="0" x2="1" y1="0" y2="0">
<stop offset="0" stop-color="#9a1020"/><stop offset="0.1" stop-color="#d81e28"/><stop offset="0.2" stop-color="#ee5a22"/>
<stop offset="0.3" stop-color="#f6c81e"/><stop offset="0.4" stop-color="#c8dc3a"/><stop offset="0.5" stop-color="#5cb848"/>
<stop offset="0.58" stop-color="#1e9a5c"/><stop offset="0.68" stop-color="#34a8dc"/><stop offset="0.8" stop-color="#2a64aa"/>
<stop offset="0.9" stop-color="#1e2e66"/><stop offset="1" stop-color="#6a2c9c"/></linearGradient></defs>
<rect x="394.4" y="18.4" width="118.6" height="8.3" fill="url(#cb)"/>
<text x="398.7" y="36" font-size="6.8" text-anchor="middle" font-weight="bold" fill="#c8141e" font-family="Liberation Sans" transform="matrix(1 0 0 1.1 0 -3.4)">5</text>
<text x="407.7" y="36" font-size="6.8" text-anchor="middle" font-weight="bold" fill="#e8242a" font-family="Liberation Sans" transform="matrix(1 0 0 1.1 0 -3.4)">9</text>
<text x="419.5" y="36" font-size="6.8" text-anchor="middle" font-weight="bold" fill="#f0a628" font-family="Liberation Sans" transform="matrix(1 0 0 1.1 0 -3.4)">13</text>
<text x="432.5" y="36" font-size="6.8" text-anchor="middle" font-weight="bold" fill="#e8d428" font-family="Liberation Sans" transform="matrix(1 0 0 1.1 0 -3.4)">17</text>
<text x="445.5" y="36" font-size="6.8" text-anchor="middle" font-weight="bold" fill="#a8c850" font-family="Liberation Sans" transform="matrix(1 0 0 1.1 0 -3.4)">21</text>
<text x="458.6" y="36" font-size="6.8" text-anchor="middle" font-weight="bold" fill="#22985a" font-family="Liberation Sans" transform="matrix(1 0 0 1.1 0 -3.4)">25</text>
<text x="471.6" y="36" font-size="6.8" text-anchor="middle" font-weight="bold" fill="#30a8dc" font-family="Liberation Sans" transform="matrix(1 0 0 1.1 0 -3.4)">29</text>
<text x="484.6" y="36" font-size="6.8" text-anchor="middle" font-weight="bold" fill="#2e6eb4" font-family="Liberation Sans" transform="matrix(1 0 0 1.1 0 -3.4)">33</text>
<text x="497.6" y="36" font-size="6.8" text-anchor="middle" font-weight="bold" fill="#22306a" font-family="Liberation Sans" transform="matrix(1 0 0 1.1 0 -3.4)">37</text>
<text x="511" y="36" font-size="6.8" text-anchor="middle" font-weight="bold" fill="#7030a0" font-family="Liberation Sans" transform="matrix(1 0 0 1.1 0 -3.4)">41</text>
<text x="322.8" y="47.4" font-size="6.6" text-anchor="end" font-weight="bold" fill="#333" font-family="Liberation Sans" transform="matrix(1 0 0 1.1 0 -4.5)">1</text>
<text x="322.8" y="60.8" font-size="6.6" text-anchor="end" font-weight="bold" fill="#333" font-family="Liberation Sans" transform="matrix(1 0 0 1.1 0 -5.8)">0.8</text>
<text x="322.8" y="74.2" font-size="6.6" text-anchor="end" font-weight="bold" fill="#333" font-family="Liberation Sans" transform="matrix(1 0 0 1.1 0 -7.2)">0.6</text>
<text x="322.8" y="87.6" font-size="6.6" text-anchor="end" font-weight="bold" fill="#333" font-family="Liberation Sans" transform="matrix(1 0 0 1.1 0 -8.5)">0.4</text>
<text x="322.8" y="101" font-size="6.6" text-anchor="end" font-weight="bold" fill="#333" font-family="Liberation Sans" transform="matrix(1 0 0 1.1 0 -9.9)">0.2</text>
<text x="322.8" y="114.4" font-size="6.6" text-anchor="end" font-weight="bold" fill="#333" font-family="Liberation Sans" transform="matrix(1 0 0 1.1 0 -11.2)">0</text>
<text x="303" y="78.1" font-size="8.5" text-anchor="middle" font-weight="bold" fill="#1e1e1e" font-family="Liberation Sans" transform="rotate(-90 303 75)" stroke="#1e1e1e" stroke-width="0.2">Amplitude (a.u.)</text>
<text x="529.3" y="53" font-size="6.4" text-anchor="middle" font-weight="bold" fill="#3a3a3a" font-family="Liberation Sans" transform="matrix(1 0 0 1.1 0 -5.1)">80</text>
<text x="529.3" y="67.4" font-size="6.4" text-anchor="middle" font-weight="bold" fill="#3a3a3a" font-family="Liberation Sans" transform="matrix(1 0 0 1.1 0 -6.5)">40</text>
<text x="529.3" y="81.7" font-size="6.4" text-anchor="middle" font-weight="bold" fill="#3a3a3a" font-family="Liberation Sans" transform="matrix(1 0 0 1.1 0 -7.9)">0</text>
<text x="529.3" y="96.1" font-size="6.4" text-anchor="middle" font-weight="bold" fill="#3a3a3a" font-family="Liberation Sans" transform="matrix(1 0 0 1.1 0 -9.4)">-40</text>
<text x="529.3" y="110.4" font-size="6.4" text-anchor="middle" font-weight="bold" fill="#3a3a3a" font-family="Liberation Sans" transform="matrix(1 0 0 1.1 0 -10.8)">-80</text>
<text x="541.2" y="81.1" font-size="8.7" text-anchor="middle" font-weight="bold" fill="#1e1e1e" font-family="Liberation Sans" transform="rotate(90 541.2 78)" stroke="#1e1e1e" stroke-width="0.2">Phase (degree)</text>
<line x1="337.7" y1="114.4" x2="337.7" y2="112.6" stroke="#6e6e6e" stroke-width="0.6"/>
<line x1="337.7" y1="42.5" x2="337.7" y2="44.3" stroke="#6e6e6e" stroke-width="0.6"/>
<line x1="350.8" y1="114.4" x2="350.8" y2="112.6" stroke="#6e6e6e" stroke-width="0.6"/>
<line x1="350.8" y1="42.5" x2="350.8" y2="44.3" stroke="#6e6e6e" stroke-width="0.6"/>
<line x1="363.8" y1="114.4" x2="363.8" y2="112.6" stroke="#6e6e6e" stroke-width="0.6"/>
<line x1="363.8" y1="42.5" x2="363.8" y2="44.3" stroke="#6e6e6e" stroke-width="0.6"/>
<line x1="376.8" y1="114.4" x2="376.8" y2="112.6" stroke="#6e6e6e" stroke-width="0.6"/>
<line x1="376.8" y1="42.5" x2="376.8" y2="44.3" stroke="#6e6e6e" stroke-width="0.6"/>
<line x1="389.8" y1="114.4" x2="389.8" y2="112.6" stroke="#6e6e6e" stroke-width="0.6"/>
<line x1="389.8" y1="42.5" x2="389.8" y2="44.3" stroke="#6e6e6e" stroke-width="0.6"/>
<line x1="402.8" y1="114.4" x2="402.8" y2="112.6" stroke="#6e6e6e" stroke-width="0.6"/>
<line x1="402.8" y1="42.5" x2="402.8" y2="44.3" stroke="#6e6e6e" stroke-width="0.6"/>
<line x1="415.9" y1="114.4" x2="415.9" y2="112.6" stroke="#6e6e6e" stroke-width="0.6"/>
<line x1="415.9" y1="42.5" x2="415.9" y2="44.3" stroke="#6e6e6e" stroke-width="0.6"/>
<line x1="332" y1="56.9" x2="333.8" y2="56.9" stroke="#6e6e6e" stroke-width="0.6"/>
<line x1="421.6" y1="56.9" x2="419.8" y2="56.9" stroke="#6e6e6e" stroke-width="0.6"/>
<line x1="332" y1="71.3" x2="333.8" y2="71.3" stroke="#6e6e6e" stroke-width="0.6"/>
<line x1="421.6" y1="71.3" x2="419.8" y2="71.3" stroke="#6e6e6e" stroke-width="0.6"/>
<line x1="332" y1="85.6" x2="333.8" y2="85.6" stroke="#6e6e6e" stroke-width="0.6"/>
<line x1="421.6" y1="85.6" x2="419.8" y2="85.6" stroke="#6e6e6e" stroke-width="0.6"/>
<line x1="332" y1="100" x2="333.8" y2="100" stroke="#6e6e6e" stroke-width="0.6"/>
<line x1="421.6" y1="100" x2="419.8" y2="100" stroke="#6e6e6e" stroke-width="0.6"/>
<polyline points="332,73.6 376.8,73.6 376.8,114.4" fill="none" stroke="#3a3a3a" stroke-width="1" stroke-linejoin="round"/>
<polyline points="376.8,114.4 376.8,83.3 421.6,83.3" fill="none" stroke="#3a3a3a" stroke-width="1" stroke-linejoin="round"/>
<polyline points="332,45.5 332.9,45.6 333.8,45.6 334.7,45.7 335.6,45.8 336.5,45.9 337.4,46 338.3,46.1 339.2,46.3 340.1,46.4 341,46.6 341.9,46.7 342.8,46.9 343.6,47.1 344.5,47.3 345.4,47.5 346.3,47.8 347.2,48 348.1,48.3 349,48.6 349.9,48.8 350.8,49.2 351.7,49.5 352.6,49.8 353.5,50.2 354.4,50.6 355.3,50.7 356.2,51.1 357.1,51.5 358,51.9 358.9,52.3 359.8,52.8 360.7,53.2 361.6,53.7 362.5,54.2 363.4,54.7 364.3,55.3 365.2,55.8 366,56.4 366.9,57 367.8,57.7 368.7,58.4 369.6,59.1 370.5,59.8 371.4,60.5 371.7,60.8 372,61 372.2,61.2 372.5,61.4 372.8,61.6 373,61.8 373.3,62.1 373.6,62.3 373.8,62.5 374.1,62.6 374.4,62.8 374.6,63 374.9,63.1 375.2,63.3 375.5,63.4 375.7,63.5 376,63.6 376.3,63.6 376.5,63.7 376.8,63.7 377.1,63.7 377.3,63.6 377.6,63.6 377.9,63.5 378.1,63.4 378.4,63.3 378.7,63.1 379,63 379.2,62.8 379.5,62.6 379.8,62.5 380,62.3 380.3,62.1 380.6,61.8 380.8,61.6 381.1,61.4 381.4,61.2 381.6,61 381.9,60.8 382.2,60.5 383.1,59.8 384,59.1 384.9,58.4 385.8,57.7 386.7,57 387.6,56.4 388.4,55.8 389.3,55.3 390.2,54.7 391.1,54.2 392,53.7 392.9,53.2 393.8,52.8 394.7,52.3 395.6,51.9 396.5,51.5 397.4,51.1 398.3,50.7 399.2,50.6 400.1,50.2 401,49.8 401.9,49.5 402.8,49.2 403.7,48.8 404.6,48.6 405.5,48.3 406.4,48 407.3,47.8 408.2,47.5 409.1,47.3 410,47.1 410.8,46.9 411.7,46.7 412.6,46.6 413.5,46.4 414.4,46.3 415.3,46.1 416.2,46 417.1,45.9 418,45.8 418.9,45.7 419.8,45.6 420.7,45.6 421.6,45.5" fill="none" stroke="#c8141e" stroke-width="0.7" stroke-linejoin="round" stroke-dasharray="1.5 0.9"/>
<polyline points="332,45.5 332.9,45.5 333.8,45.4 334.7,45.4 335.6,45.4 336.5,45.4 337.4,45.5 338.3,45.6 339.2,45.7 340.1,45.8 341,46 341.9,46.2 342.8,46.4 343.6,46.7 344.5,47 345.4,47.3 346.3,47.6 347.2,47.9 348.1,48.2 349,48.5 349.9,48.8 350.8,49.1 351.7,49.5 352.6,49.8 353.5,50.2 354.4,50.6 355.3,50.9 356.2,51.3 357.1,51.7 358,52.1 358.9,52.6 359.8,53 360.7,53.5 361.6,54 362.5,54.6 363.4,55.1 364.3,55.7 365.2,56.3 366,57 366.9,57.7 367.8,58.4 368.7,59.2 369.6,60.1 370.5,61 371.4,62 371.7,62.3 372,62.6 372.2,63 372.5,63.3 372.8,63.7 373,64 373.3,64.4 373.6,64.7 373.8,65.1 374.1,65.5 374.4,65.8 374.6,66.2 374.9,66.6 375.2,66.9 375.5,67.2 375.7,67.4 376,67.7 376.3,67.8 376.5,67.9 376.8,68 377.1,67.9 377.3,67.8 377.6,67.7 377.9,67.4 378.1,67.2 378.4,66.9 378.7,66.6 379,66.2 379.2,65.8 379.5,65.5 379.8,65.1 380,64.7 380.3,64.4 380.6,64 380.8,63.7 381.1,63.3 381.4,63 381.6,62.6 381.9,62.3 382.2,62 383.1,61 384,60.1 384.9,59.2 385.8,58.4 386.7,57.7 387.6,57 388.4,56.3 389.3,55.7 390.2,55.1 391.1,54.6 392,54 392.9,53.5 393.8,53 394.7,52.6 395.6,52.1 396.5,51.7 397.4,51.3 398.3,50.9 399.2,50.6 400.1,50.2 401,49.8 401.9,49.5 402.8,49.1 403.7,48.8 404.6,48.5 405.5,48.2 406.4,47.9 407.3,47.6 408.2,47.3 409.1,47 410,46.7 410.8,46.4 411.7,46.2 412.6,46 413.5,45.8 414.4,45.7 415.3,45.6 416.2,45.5 417.1,45.4 418,45.4 418.9,45.4 419.8,45.4 420.7,45.5 421.6,45.5" fill="none" stroke="#e8242a" stroke-width="0.7" stroke-linejoin="round" stroke-dasharray="1.5 0.9"/>
<polyline points="332,45.5 332.9,45.3 333.8,45.2 334.7,45.1 335.6,45.1 336.5,45.1 337.4,45.1 338.3,45.3 339.2,45.4 340.1,45.7 341,45.9 341.9,46.2 342.8,46.4 343.6,46.7 344.5,47 345.4,47.3 346.3,47.6 347.2,47.9 348.1,48.2 349,48.5 349.9,48.8 350.8,49.1 351.7,49.5 352.6,49.8 353.5,50.2 354.4,50.6 355.3,50.9 356.2,51.3 357.1,51.7 358,52.2 358.9,52.6 359.8,53.1 360.7,53.6 361.6,54.1 362.5,54.6 363.4,55.2 364.3,55.8 365.2,56.4 366,57.1 366.9,57.8 367.8,58.6 368.7,59.4 369.6,60.3 370.5,61.3 371.4,62.4 371.7,62.8 372,63.2 372.2,63.5 372.5,63.9 372.8,64.3 373,64.7 373.3,65.2 373.6,65.6 373.8,66.1 374.1,66.6 374.4,67.1 374.6,67.6 374.9,68.1 375.2,68.6 375.5,69 375.7,69.5 376,69.9 376.3,70.2 376.5,70.4 376.8,70.5 377.1,70.4 377.3,70.2 377.6,69.9 377.9,69.5 378.1,69 378.4,68.6 378.7,68.1 379,67.6 379.2,67.1 379.5,66.6 379.8,66.1 380,65.6 380.3,65.2 380.6,64.7 380.8,64.3 381.1,63.9 381.4,63.5 381.6,63.2 381.9,62.8 382.2,62.4 383.1,61.3 384,60.3 384.9,59.4 385.8,58.6 386.7,57.8 387.6,57.1 388.4,56.4 389.3,55.8 390.2,55.2 391.1,54.6 392,54.1 392.9,53.6 393.8,53.1 394.7,52.6 395.6,52.2 396.5,51.7 397.4,51.3 398.3,50.9 399.2,50.6 400.1,50.2 401,49.8 401.9,49.5 402.8,49.1 403.7,48.8 404.6,48.5 405.5,48.2 406.4,47.9 407.3,47.6 408.2,47.3 409.1,47 410,46.7 410.8,46.4 411.7,46.2 412.6,45.9 413.5,45.7 414.4,45.4 415.3,45.3 416.2,45.1 417.1,45.1 418,45.1 418.9,45.1 419.8,45.2 420.7,45.3 421.6,45.5" fill="none" stroke="#f0a628" stroke-width="0.7" stroke-linejoin="round" stroke-dasharray="1.5 0.9"/>
<polyline points="332,45.5 332.9,45.2 333.8,45 334.7,44.9 335.6,44.8 336.5,44.8 337.4,45 338.3,45.2 339.2,45.4 340.1,45.7 341,45.9 341.9,46.2 342.8,46.4 343.6,46.7 344.5,47 345.4,47.3 346.3,47.6 347.2,47.9 348.1,48.2 349,48.5 349.9,48.8 350.8,49.1 351.7,49.5 352.6,49.8 353.5,50.2 354.4,50.6 355.3,50.9 356.2,51.3 357.1,51.8 358,52.2 358.9,52.6 359.8,53.1 360.7,53.6 361.6,54.1 362.5,54.7 363.4,55.2 364.3,55.8 365.2,56.5 366,57.2 366.9,57.9 367.8,58.7 368.7,59.5 369.6,60.4 370.5,61.5 371.4,62.6 371.7,63 372,63.4 372.2,63.8 372.5,64.2 372.8,64.6 373,65.1 373.3,65.5 373.6,66 373.8,66.5 374.1,67.1 374.4,67.7 374.6,68.2 374.9,68.9 375.2,69.5 375.5,70.1 375.7,70.7 376,71.3 376.3,71.8 376.5,72.1 376.8,72.2 377.1,72.1 377.3,71.8 377.6,71.3 377.9,70.7 378.1,70.1 378.4,69.5 378.7,68.9 379,68.2 379.2,67.7 379.5,67.1 379.8,66.5 380,66 380.3,65.5 380.6,65.1 380.8,64.6 381.1,64.2 381.4,63.8 381.6,63.4 381.9,63 382.2,62.6 383.1,61.5 384,60.4 384.9,59.5 385.8,58.7 386.7,57.9 387.6,57.2 388.4,56.5 389.3,55.8 390.2,55.2 391.1,54.7 392,54.1 392.9,53.6 393.8,53.1 394.7,52.6 395.6,52.2 396.5,51.8 397.4,51.3 398.3,50.9 399.2,50.6 400.1,50.2 401,49.8 401.9,49.5 402.8,49.1 403.7,48.8 404.6,48.5 405.5,48.2 406.4,47.9 407.3,47.6 408.2,47.3 409.1,47 410,46.7 410.8,46.4 411.7,46.2 412.6,45.9 413.5,45.7 414.4,45.4 415.3,45.2 416.2,45 417.1,44.8 418,44.8 418.9,44.9 419.8,45 420.7,45.2 421.6,45.5" fill="none" stroke="#e8d428" stroke-width="0.7" stroke-linejoin="round"/>
<polyline points="332,45.5 332.9,45.1 333.8,44.8 334.7,44.7 335.6,44.6 336.5,44.7 337.4,44.9 338.3,45.2 339.2,45.4 340.1,45.7 341,45.9 341.9,46.2 342.8,46.4 343.6,46.7 344.5,47 345.4,47.3 346.3,47.6 347.2,47.9 348.1,48.2 349,48.5 349.9,48.8 350.8,49.1 351.7,49.5 352.6,49.8 353.5,50.2 354.4,50.6 355.3,50.9 356.2,51.4 357.1,51.8 358,52.2 358.9,52.7 359.8,53.1 360.7,53.6 361.6,54.1 362.5,54.7 363.4,55.2 364.3,55.9 365.2,56.5 366,57.2 366.9,57.9 367.8,58.7 368.7,59.6 369.6,60.5 370.5,61.5 371.4,62.7 371.7,63.1 372,63.5 372.2,63.9 372.5,64.3 372.8,64.8 373,65.2 373.3,65.7 373.6,66.2 373.8,66.8 374.1,67.4 374.4,68 374.6,68.6 374.9,69.3 375.2,70 375.5,70.8 375.7,71.5 376,72.3 376.3,72.9 376.5,73.3 376.8,73.5 377.1,73.3 377.3,72.9 377.6,72.3 377.9,71.5 378.1,70.8 378.4,70 378.7,69.3 379,68.6 379.2,68 379.5,67.4 379.8,66.8 380,66.2 380.3,65.7 380.6,65.2 380.8,64.8 381.1,64.3 381.4,63.9 381.6,63.5 381.9,63.1 382.2,62.7 383.1,61.5 384,60.5 384.9,59.6 385.8,58.7 386.7,57.9 387.6,57.2 388.4,56.5 389.3,55.9 390.2,55.2 391.1,54.7 392,54.1 392.9,53.6 393.8,53.1 394.7,52.7 395.6,52.2 396.5,51.8 397.4,51.4 398.3,50.9 399.2,50.6 400.1,50.2 401,49.8 401.9,49.5 402.8,49.1 403.7,48.8 404.6,48.5 405.5,48.2 406.4,47.9 407.3,47.6 408.2,47.3 409.1,47 410,46.7 410.8,46.4 411.7,46.2 412.6,45.9 413.5,45.7 414.4,45.4 415.3,45.2 416.2,44.9 417.1,44.7 418,44.6 418.9,44.7 419.8,44.8 420.7,45.1 421.6,45.5" fill="none" stroke="#a8c850" stroke-width="0.7" stroke-linejoin="round"/>
<polyline points="332,45.5 332.9,45 333.8,44.7 334.7,44.5 335.6,44.5 336.5,44.7 337.4,44.9 338.3,45.2 339.2,45.4 340.1,45.7 341,45.9 341.9,46.2 342.8,46.4 343.6,46.7 344.5,47 345.4,47.3 346.3,47.6 347.2,47.9 348.1,48.2 349,48.5 349.9,48.8 350.8,49.1 351.7,49.5 352.6,49.8 353.5,50.2 354.4,50.6 355.3,51 356.2,51.4 357.1,51.8 358,52.2 358.9,52.7 359.8,53.1 360.7,53.6 361.6,54.1 362.5,54.7 363.4,55.3 364.3,55.9 365.2,56.5 366,57.2 366.9,57.9 367.8,58.7 368.7,59.6 369.6,60.5 370.5,61.6 371.4,62.7 371.7,63.1 372,63.5 372.2,63.9 372.5,64.4 372.8,64.8 373,65.3 373.3,65.8 373.6,66.4 373.8,66.9 374.1,67.5 374.4,68.2 374.6,68.9 374.9,69.6 375.2,70.4 375.5,71.2 375.7,72.1 376,73 376.3,73.7 376.5,74.3 376.8,74.6 377.1,74.3 377.3,73.7 377.6,73 377.9,72.1 378.1,71.2 378.4,70.4 378.7,69.6 379,68.9 379.2,68.2 379.5,67.5 379.8,66.9 380,66.4 380.3,65.8 380.6,65.3 380.8,64.8 381.1,64.4 381.4,63.9 381.6,63.5 381.9,63.1 382.2,62.7 383.1,61.6 384,60.5 384.9,59.6 385.8,58.7 386.7,57.9 387.6,57.2 388.4,56.5 389.3,55.9 390.2,55.3 391.1,54.7 392,54.1 392.9,53.6 393.8,53.1 394.7,52.7 395.6,52.2 396.5,51.8 397.4,51.4 398.3,51 399.2,50.6 400.1,50.2 401,49.8 401.9,49.5 402.8,49.1 403.7,48.8 404.6,48.5 405.5,48.2 406.4,47.9 407.3,47.6 408.2,47.3 409.1,47 410,46.7 410.8,46.4 411.7,46.2 412.6,45.9 413.5,45.7 414.4,45.4 415.3,45.2 416.2,44.9 417.1,44.7 418,44.5 418.9,44.5 419.8,44.7 420.7,45 421.6,45.5" fill="none" stroke="#22985a" stroke-width="0.7" stroke-linejoin="round"/>
<polyline points="332,45.5 332.9,44.9 333.8,44.5 334.7,44.4 335.6,44.5 336.5,44.7 337.4,44.9 338.3,45.2 339.2,45.4 340.1,45.7 341,45.9 341.9,46.2 342.8,46.4 343.6,46.7 344.5,47 345.4,47.3 346.3,47.6 347.2,47.9 348.1,48.2 349,48.5 349.9,48.8 350.8,49.1 351.7,49.5 352.6,49.8 353.5,50.2 354.4,50.6 355.3,51 356.2,51.4 357.1,51.8 358,52.2 358.9,52.7 359.8,53.1 360.7,53.6 361.6,54.1 362.5,54.7 363.4,55.3 364.3,55.9 365.2,56.5 366,57.2 366.9,57.9 367.8,58.7 368.7,59.6 369.6,60.5 370.5,61.6 371.4,62.8 371.7,63.2 372,63.6 372.2,64 372.5,64.4 372.8,64.9 373,65.4 373.3,65.9 373.6,66.4 373.8,67 374.1,67.6 374.4,68.3 374.6,69 374.9,69.8 375.2,70.6 375.5,71.5 375.7,72.5 376,73.5 376.3,74.4 376.5,75.1 376.8,75.4 377.1,75.1 377.3,74.4 377.6,73.5 377.9,72.5 378.1,71.5 378.4,70.6 378.7,69.8 379,69 379.2,68.3 379.5,67.6 379.8,67 380,66.4 380.3,65.9 380.6,65.4 380.8,64.9 381.1,64.4 381.4,64 381.6,63.6 381.9,63.2 382.2,62.8 383.1,61.6 384,60.5 384.9,59.6 385.8,58.7 386.7,57.9 387.6,57.2 388.4,56.5 389.3,55.9 390.2,55.3 391.1,54.7 392,54.1 392.9,53.6 393.8,53.1 394.7,52.7 395.6,52.2 396.5,51.8 397.4,51.4 398.3,51 399.2,50.6 400.1,50.2 401,49.8 401.9,49.5 402.8,49.1 403.7,48.8 404.6,48.5 405.5,48.2 406.4,47.9 407.3,47.6 408.2,47.3 409.1,47 410,46.7 410.8,46.4 411.7,46.2 412.6,45.9 413.5,45.7 414.4,45.4 415.3,45.2 416.2,44.9 417.1,44.7 418,44.5 418.9,44.4 419.8,44.5 420.7,44.9 421.6,45.5" fill="none" stroke="#30a8dc" stroke-width="0.9" stroke-linejoin="round"/>
<polyline points="332,45.5 332.9,44.8 333.8,44.4 334.7,44.3 335.6,44.5 336.5,44.7 337.4,44.9 338.3,45.2 339.2,45.4 340.1,45.7 341,45.9 341.9,46.2 342.8,46.4 343.6,46.7 344.5,47 345.4,47.3 346.3,47.6 347.2,47.9 348.1,48.2 349,48.5 349.9,48.8 350.8,49.1 351.7,49.5 352.6,49.8 353.5,50.2 354.4,50.6 355.3,51 356.2,51.4 357.1,51.8 358,52.2 358.9,52.7 359.8,53.1 360.7,53.6 361.6,54.1 362.5,54.7 363.4,55.3 364.3,55.9 365.2,56.5 366,57.2 366.9,57.9 367.8,58.7 368.7,59.6 369.6,60.6 370.5,61.6 371.4,62.8 371.7,63.2 372,63.6 372.2,64 372.5,64.5 372.8,64.9 373,65.4 373.3,65.9 373.6,66.5 373.8,67.1 374.1,67.7 374.4,68.4 374.6,69.1 374.9,69.9 375.2,70.8 375.5,71.7 375.7,72.7 376,73.8 376.3,74.9 376.5,75.8 376.8,76.2 377.1,75.8 377.3,74.9 377.6,73.8 377.9,72.7 378.1,71.7 378.4,70.8 378.7,69.9 379,69.1 379.2,68.4 379.5,67.7 379.8,67.1 380,66.5 380.3,65.9 380.6,65.4 380.8,64.9 381.1,64.5 381.4,64 381.6,63.6 381.9,63.2 382.2,62.8 383.1,61.6 384,60.6 384.9,59.6 385.8,58.7 386.7,57.9 387.6,57.2 388.4,56.5 389.3,55.9 390.2,55.3 391.1,54.7 392,54.1 392.9,53.6 393.8,53.1 394.7,52.7 395.6,52.2 396.5,51.8 397.4,51.4 398.3,51 399.2,50.6 400.1,50.2 401,49.8 401.9,49.5 402.8,49.1 403.7,48.8 404.6,48.5 405.5,48.2 406.4,47.9 407.3,47.6 408.2,47.3 409.1,47 410,46.7 410.8,46.4 411.7,46.2 412.6,45.9 413.5,45.7 414.4,45.4 415.3,45.2 416.2,44.9 417.1,44.7 418,44.5 418.9,44.3 419.8,44.4 420.7,44.8 421.6,45.5" fill="none" stroke="#2e6eb4" stroke-width="0.9" stroke-linejoin="round"/>
<polyline points="332,45.5 332.9,44.7 333.8,44.3 334.7,44.2 335.6,44.5 336.5,44.7 337.4,44.9 338.3,45.2 339.2,45.4 340.1,45.7 341,45.9 341.9,46.2 342.8,46.4 343.6,46.7 344.5,47 345.4,47.3 346.3,47.6 347.2,47.9 348.1,48.2 349,48.5 349.9,48.8 350.8,49.1 351.7,49.5 352.6,49.8 353.5,50.2 354.4,50.6 355.3,51 356.2,51.4 357.1,51.8 358,52.2 358.9,52.7 359.8,53.1 360.7,53.6 361.6,54.2 362.5,54.7 363.4,55.3 364.3,55.9 365.2,56.5 366,57.2 366.9,57.9 367.8,58.7 368.7,59.6 369.6,60.6 370.5,61.6 371.4,62.8 371.7,63.2 372,63.6 372.2,64 372.5,64.5 372.8,65 373,65.4 373.3,66 373.6,66.5 373.8,67.1 374.1,67.8 374.4,68.4 374.6,69.2 374.9,70 375.2,70.9 375.5,71.9 375.7,73 376,74.1 376.3,75.4 376.5,76.4 376.8,76.8 377.1,76.4 377.3,75.4 377.6,74.1 377.9,73 378.1,71.9 378.4,70.9 378.7,70 379,69.2 379.2,68.4 379.5,67.8 379.8,67.1 380,66.5 380.3,66 380.6,65.4 380.8,65 381.1,64.5 381.4,64 381.6,63.6 381.9,63.2 382.2,62.8 383.1,61.6 384,60.6 384.9,59.6 385.8,58.7 386.7,57.9 387.6,57.2 388.4,56.5 389.3,55.9 390.2,55.3 391.1,54.7 392,54.2 392.9,53.6 393.8,53.1 394.7,52.7 395.6,52.2 396.5,51.8 397.4,51.4 398.3,51 399.2,50.6 400.1,50.2 401,49.8 401.9,49.5 402.8,49.1 403.7,48.8 404.6,48.5 405.5,48.2 406.4,47.9 407.3,47.6 408.2,47.3 409.1,47 410,46.7 410.8,46.4 411.7,46.2 412.6,45.9 413.5,45.7 414.4,45.4 415.3,45.2 416.2,44.9 417.1,44.7 418,44.5 418.9,44.2 419.8,44.3 420.7,44.7 421.6,45.5" fill="none" stroke="#22306a" stroke-width="0.9" stroke-linejoin="round"/>
<polyline points="332,45.5 332.9,44.6 333.8,44.2 334.7,44.2 335.6,44.5 336.5,44.7 337.4,44.9 338.3,45.2 339.2,45.4 340.1,45.7 341,45.9 341.9,46.2 342.8,46.4 343.6,46.7 344.5,47 345.4,47.3 346.3,47.6 347.2,47.9 348.1,48.2 349,48.5 349.9,48.8 350.8,49.1 351.7,49.5 352.6,49.8 353.5,50.2 354.4,50.6 355.3,51 356.2,51.4 357.1,51.8 358,52.2 358.9,52.7 359.8,53.1 360.7,53.6 361.6,54.2 362.5,54.7 363.4,55.3 364.3,55.9 365.2,56.5 366,57.2 366.9,58 367.8,58.8 368.7,59.6 369.6,60.6 370.5,61.6 371.4,62.8 371.7,63.2 372,63.6 372.2,64.1 372.5,64.5 372.8,65 373,65.5 373.3,66 373.6,66.6 373.8,67.2 374.1,67.8 374.4,68.5 374.6,69.2 374.9,70.1 375.2,71 375.5,72 375.7,73.1 376,74.4 376.3,75.7 376.5,76.9 376.8,77.4 377.1,76.9 377.3,75.7 377.6,74.4 377.9,73.1 378.1,72 378.4,71 378.7,70.1 379,69.2 379.2,68.5 379.5,67.8 379.8,67.2 380,66.6 380.3,66 380.6,65.5 380.8,65 381.1,64.5 381.4,64.1 381.6,63.6 381.9,63.2 382.2,62.8 383.1,61.6 384,60.6 384.9,59.6 385.8,58.8 386.7,58 387.6,57.2 388.4,56.5 389.3,55.9 390.2,55.3 391.1,54.7 392,54.2 392.9,53.6 393.8,53.1 394.7,52.7 395.6,52.2 396.5,51.8 397.4,51.4 398.3,51 399.2,50.6 400.1,50.2 401,49.8 401.9,49.5 402.8,49.1 403.7,48.8 404.6,48.5 405.5,48.2 406.4,47.9 407.3,47.6 408.2,47.3 409.1,47 410,46.7 410.8,46.4 411.7,46.2 412.6,45.9 413.5,45.7 414.4,45.4 415.3,45.2 416.2,44.9 417.1,44.7 418,44.5 418.9,44.2 419.8,44.2 420.7,44.6 421.6,45.5" fill="none" stroke="#7030a0" stroke-width="0.9" stroke-linejoin="round"/>
<polyline points="332,43.6 333.2,43.9 334.4,44.2 335.6,44.5 336.8,44.8 337.9,45.1 339.1,45.4 340.2,45.7 341.3,46 342.4,46.3 343.5,46.7 344.6,47 345.7,47.3 346.7,47.7 347.8,48 348.8,48.4 349.8,48.8 350.8,49.1 351.8,49.5 352.7,49.9 353.7,50.3 354.6,50.7 355.6,51.1 356.5,51.5 357.4,51.9 358.3,52.4 359.1,52.8 360,53.2 360.8,53.7 361.6,54.2 362.4,54.7 363.2,55.2 364,55.7 364.7,56.2 365.5,56.8 366.2,57.3 366.9,57.9 367.6,58.5 368.2,59.1 368.9,59.8 369.5,60.4 370.1,61.1 370.7,61.9 371.2,62.6 371.8,63.4 372.3,64.3 372.8,65.1 373.3,66.1 373.8,67.1 374.2,68.1 374.6,69.3 375,70.6 375.3,71.9 375.6,73.5 375.9,75.2 376.2,77.3 376.4,79.8 376.6,83 376.7,87.8 376.8,114.4 376.9,87.8 377,83 377.2,79.8 377.4,77.3 377.7,75.2 378,73.5 378.3,71.9 378.6,70.6 379,69.3 379.4,68.1 379.8,67.1 380.3,66.1 380.8,65.1 381.3,64.3 381.8,63.4 382.4,62.6 382.9,61.9 383.5,61.1 384.1,60.4 384.7,59.8 385.4,59.1 386,58.5 386.7,57.9 387.4,57.3 388.1,56.8 388.9,56.2 389.6,55.7 390.4,55.2 391.2,54.7 392,54.2 392.8,53.7 393.6,53.2 394.5,52.8 395.3,52.4 396.2,51.9 397.1,51.5 398,51.1 399,50.7 399.9,50.3 400.9,49.9 401.8,49.5 402.8,49.1 403.8,48.8 404.8,48.4 405.8,48 406.9,47.7 407.9,47.3 409,47 410.1,46.7 411.2,46.3 412.3,46 413.4,45.7 414.5,45.4 415.7,45.1 416.8,44.8 418,44.5 419.2,44.2 420.4,43.9 421.6,43.6" fill="none" stroke="#262c60" stroke-width="1.2" stroke-linejoin="round"/>
<rect x="332" y="42.5" width="89.6" height="71.9" fill="none" stroke="#6e6e6e" stroke-width="1"/>
<ellipse cx="392.4" cy="55.4" rx="1.9" ry="2.3" fill="none" stroke="#e04848" stroke-width="0.7"/>
<line x1="391.9" y1="52.4" x2="385.4" y2="52.4" stroke="#e04848" stroke-width="0.8"/>
<path d="M384.9 52.4 l2 -1.2 l0 2.4z" fill="#e04848"/>
<ellipse cx="399.2" cy="83.3" rx="1.5" ry="2.0" fill="#fff" stroke="#444" stroke-width="0.7"/>
<line x1="399.2" y1="85.9" x2="404.2" y2="85.9" stroke="#333" stroke-width="0.7"/>
<path d="M405 85.9 l-2 -1.1 l0 2.2z" fill="#333"/>
<text x="335" y="103.5" font-size="6.9" text-anchor="start" font-weight="bold" fill="#1e1e1e" font-family="Liberation Sans" transform="matrix(1 0 0 1.1 0 -10.1)">Fractional</text>
<text x="334.3" y="111.6" font-size="6.9" text-anchor="start" font-weight="bold" fill="#1e1e1e" font-family="Liberation Sans" transform="matrix(1 0 0 1.1 0 -10.9)">order: 0.15</text>
<line x1="429.7" y1="114.4" x2="429.7" y2="112.6" stroke="#6e6e6e" stroke-width="0.6"/>
<line x1="429.7" y1="42.5" x2="429.7" y2="44.3" stroke="#6e6e6e" stroke-width="0.6"/>
<line x1="442.6" y1="114.4" x2="442.6" y2="112.6" stroke="#6e6e6e" stroke-width="0.6"/>
<line x1="442.6" y1="42.5" x2="442.6" y2="44.3" stroke="#6e6e6e" stroke-width="0.6"/>
<line x1="455.6" y1="114.4" x2="455.6" y2="112.6" stroke="#6e6e6e" stroke-width="0.6"/>
<line x1="455.6" y1="42.5" x2="455.6" y2="44.3" stroke="#6e6e6e" stroke-width="0.6"/>
<line x1="468.5" y1="114.4" x2="468.5" y2="112.6" stroke="#6e6e6e" stroke-width="0.6"/>
<line x1="468.5" y1="42.5" x2="468.5" y2="44.3" stroke="#6e6e6e" stroke-width="0.6"/>
<line x1="481.4" y1="114.4" x2="481.4" y2="112.6" stroke="#6e6e6e" stroke-width="0.6"/>
<line x1="481.4" y1="42.5" x2="481.4" y2="44.3" stroke="#6e6e6e" stroke-width="0.6"/>
<line x1="494.4" y1="114.4" x2="494.4" y2="112.6" stroke="#6e6e6e" stroke-width="0.6"/>
<line x1="494.4" y1="42.5" x2="494.4" y2="44.3" stroke="#6e6e6e" stroke-width="0.6"/>
<line x1="507.3" y1="114.4" x2="507.3" y2="112.6" stroke="#6e6e6e" stroke-width="0.6"/>
<line x1="507.3" y1="42.5" x2="507.3" y2="44.3" stroke="#6e6e6e" stroke-width="0.6"/>
<line x1="424" y1="56.9" x2="425.8" y2="56.9" stroke="#6e6e6e" stroke-width="0.6"/>
<line x1="513" y1="56.9" x2="511.2" y2="56.9" stroke="#6e6e6e" stroke-width="0.6"/>
<line x1="424" y1="71.3" x2="425.8" y2="71.3" stroke="#6e6e6e" stroke-width="0.6"/>
<line x1="513" y1="71.3" x2="511.2" y2="71.3" stroke="#6e6e6e" stroke-width="0.6"/>
<line x1="424" y1="85.6" x2="425.8" y2="85.6" stroke="#6e6e6e" stroke-width="0.6"/>
<line x1="513" y1="85.6" x2="511.2" y2="85.6" stroke="#6e6e6e" stroke-width="0.6"/>
<line x1="424" y1="100" x2="425.8" y2="100" stroke="#6e6e6e" stroke-width="0.6"/>
<line x1="513" y1="100" x2="511.2" y2="100" stroke="#6e6e6e" stroke-width="0.6"/>
<polyline points="424,59 468.5,59 468.5,114.4" fill="none" stroke="#3a3a3a" stroke-width="1" stroke-linejoin="round"/>
<polyline points="468.5,114.4 468.5,97.9 513,97.9" fill="none" stroke="#3a3a3a" stroke-width="1" stroke-linejoin="round"/>
<polyline points="424,72.8 424.9,71.2 425.8,69.7 426.7,68.4 427.6,67.1 428.4,66 429.3,65 430.2,64.1 431.1,63.3 432,62.6 432.9,62.1 433.8,61.6 434.7,61.3 435.6,61.1 436.5,61 437.4,61 438.2,61.2 439.1,61.4 440,61.8 440.9,62.3 441.8,62.9 442.7,63.7 443.6,64.5 444.5,65.5 445.4,66.6 446.2,67.7 447.1,68.7 448,69.8 448.9,71 449.8,72.1 450.7,73.3 451.6,74.6 452.5,75.8 453.4,77.1 454.3,78.4 455.1,79.7 456,81.1 456.9,82.5 457.8,83.9 458.7,85.4 459.6,86.9 460.5,88.5 461.4,90.1 462.3,91.8 463.2,93.6 463.4,94.1 463.7,94.7 464,95.2 464.2,95.7 464.5,96.3 464.8,96.9 465,97.4 465.3,98 465.6,98.5 465.8,99.1 466.1,99.6 466.4,100.1 466.6,100.6 466.9,101.1 467.2,101.5 467.4,101.9 467.7,102.2 468,102.5 468.2,102.6 468.5,102.7 468.8,102.6 469,102.5 469.3,102.2 469.6,101.9 469.8,101.5 470.1,101.1 470.4,100.6 470.6,100.1 470.9,99.6 471.2,99.1 471.4,98.5 471.7,98 472,97.4 472.2,96.9 472.5,96.3 472.8,95.7 473,95.2 473.3,94.7 473.6,94.1 473.8,93.6 474.7,91.8 475.6,90.1 476.5,88.5 477.4,86.9 478.3,85.4 479.2,83.9 480.1,82.5 481,81.1 481.9,79.7 482.7,78.4 483.6,77.1 484.5,75.8 485.4,74.6 486.3,73.3 487.2,72.1 488.1,71 489,69.8 489.9,68.7 490.8,67.7 491.6,66.6 492.5,65.5 493.4,64.5 494.3,63.7 495.2,62.9 496.1,62.3 497,61.8 497.9,61.4 498.8,61.2 499.6,61 500.5,61 501.4,61.1 502.3,61.3 503.2,61.6 504.1,62.1 505,62.6 505.9,63.3 506.8,64.1 507.7,65 508.6,66 509.4,67.1 510.3,68.4 511.2,69.7 512.1,71.2 513,72.8" fill="none" stroke="#c8141e" stroke-width="0.7" stroke-linejoin="round" stroke-dasharray="1.5 0.9"/>
<polyline points="424,72.8 424.9,69.3 425.8,66.2 426.7,63.5 427.6,61.1 428.4,59 429.3,57.3 430.2,56 431.1,55 432,54.3 432.9,54.1 433.8,54.1 434.7,54.5 435.6,55.3 436.5,56.2 437.4,57.2 438.2,58.2 439.1,59.2 440,60.2 440.9,61.2 441.8,62.3 442.7,63.3 443.6,64.4 444.5,65.5 445.4,66.6 446.2,67.7 447.1,68.8 448,69.9 448.9,71.1 449.8,72.3 450.7,73.5 451.6,74.7 452.5,76 453.4,77.3 454.3,78.6 455.1,79.9 456,81.3 456.9,82.7 457.8,84.2 458.7,85.7 459.6,87.3 460.5,88.9 461.4,90.6 462.3,92.4 463.2,94.2 463.4,94.8 463.7,95.4 464,96 464.2,96.6 464.5,97.2 464.8,97.9 465,98.5 465.3,99.2 465.6,99.8 465.8,100.5 466.1,101.2 466.4,101.9 466.6,102.6 466.9,103.3 467.2,104 467.4,104.6 467.7,105.2 468,105.7 468.2,106 468.5,106.2 468.8,106 469,105.7 469.3,105.2 469.6,104.6 469.8,104 470.1,103.3 470.4,102.6 470.6,101.9 470.9,101.2 471.2,100.5 471.4,99.8 471.7,99.2 472,98.5 472.2,97.9 472.5,97.2 472.8,96.6 473,96 473.3,95.4 473.6,94.8 473.8,94.2 474.7,92.4 475.6,90.6 476.5,88.9 477.4,87.3 478.3,85.7 479.2,84.2 480.1,82.7 481,81.3 481.9,79.9 482.7,78.6 483.6,77.3 484.5,76 485.4,74.7 486.3,73.5 487.2,72.3 488.1,71.1 489,69.9 489.9,68.8 490.8,67.7 491.6,66.6 492.5,65.5 493.4,64.4 494.3,63.3 495.2,62.3 496.1,61.2 497,60.2 497.9,59.2 498.8,58.2 499.6,57.2 500.5,56.2 501.4,55.3 502.3,54.5 503.2,54.1 504.1,54.1 505,54.3 505.9,55 506.8,56 507.7,57.3 508.6,59 509.4,61.1 510.3,63.5 511.2,66.2 512.1,69.3 513,72.8" fill="none" stroke="#e8242a" stroke-width="0.7" stroke-linejoin="round" stroke-dasharray="1.5 0.9"/>
<polyline points="424,72.8 424.9,67.5 425.8,63 426.7,59.2 427.6,56.1 428.4,53.7 429.3,52.1 430.2,51.2 431.1,51 432,51.5 432.9,52.5 433.8,53.4 434.7,54.3 435.6,55.3 436.5,56.2 437.4,57.2 438.2,58.2 439.1,59.2 440,60.2 440.9,61.2 441.8,62.3 442.7,63.3 443.6,64.4 444.5,65.5 445.4,66.6 446.2,67.7 447.1,68.8 448,69.9 448.9,71.1 449.8,72.3 450.7,73.5 451.6,74.7 452.5,76 453.4,77.3 454.3,78.6 455.1,80 456,81.4 456.9,82.8 457.8,84.3 458.7,85.8 459.6,87.4 460.5,89 461.4,90.7 462.3,92.5 463.2,94.4 463.4,95 463.7,95.6 464,96.2 464.2,96.8 464.5,97.5 464.8,98.1 465,98.8 465.3,99.5 465.6,100.2 465.8,100.9 466.1,101.7 466.4,102.4 466.6,103.2 466.9,104 467.2,104.8 467.4,105.6 467.7,106.4 468,107.1 468.2,107.6 468.5,107.8 468.8,107.6 469,107.1 469.3,106.4 469.6,105.6 469.8,104.8 470.1,104 470.4,103.2 470.6,102.4 470.9,101.7 471.2,100.9 471.4,100.2 471.7,99.5 472,98.8 472.2,98.1 472.5,97.5 472.8,96.8 473,96.2 473.3,95.6 473.6,95 473.8,94.4 474.7,92.5 475.6,90.7 476.5,89 477.4,87.4 478.3,85.8 479.2,84.3 480.1,82.8 481,81.4 481.9,80 482.7,78.6 483.6,77.3 484.5,76 485.4,74.7 486.3,73.5 487.2,72.3 488.1,71.1 489,69.9 489.9,68.8 490.8,67.7 491.6,66.6 492.5,65.5 493.4,64.4 494.3,63.3 495.2,62.3 496.1,61.2 497,60.2 497.9,59.2 498.8,58.2 499.6,57.2 500.5,56.2 501.4,55.3 502.3,54.3 503.2,53.4 504.1,52.5 505,51.5 505.9,51 506.8,51.2 507.7,52.1 508.6,53.7 509.4,56.1 510.3,59.2 511.2,63 512.1,67.5 513,72.8" fill="none" stroke="#f0a628" stroke-width="0.7" stroke-linejoin="round" stroke-dasharray="1.5 0.9"/>
<polyline points="424,72.8 424.9,65.8 425.8,60 426.7,55.5 427.6,52.2 428.4,50.2 429.3,49.3 430.2,49.7 431.1,50.6 432,51.5 432.9,52.5 433.8,53.4 434.7,54.3 435.6,55.3 436.5,56.2 437.4,57.2 438.2,58.2 439.1,59.2 440,60.2 440.9,61.2 441.8,62.3 442.7,63.3 443.6,64.4 444.5,65.5 445.4,66.6 446.2,67.7 447.1,68.8 448,69.9 448.9,71.1 449.8,72.3 450.7,73.5 451.6,74.8 452.5,76 453.4,77.3 454.3,78.6 455.1,80 456,81.4 456.9,82.8 457.8,84.3 458.7,85.8 459.6,87.4 460.5,89 461.4,90.8 462.3,92.6 463.2,94.5 463.4,95.1 463.7,95.7 464,96.3 464.2,96.9 464.5,97.6 464.8,98.2 465,98.9 465.3,99.6 465.6,100.3 465.8,101.1 466.1,101.8 466.4,102.6 466.6,103.5 466.9,104.3 467.2,105.2 467.4,106.1 467.7,107 468,107.8 468.2,108.5 468.5,108.8 468.8,108.5 469,107.8 469.3,107 469.6,106.1 469.8,105.2 470.1,104.3 470.4,103.5 470.6,102.6 470.9,101.8 471.2,101.1 471.4,100.3 471.7,99.6 472,98.9 472.2,98.2 472.5,97.6 472.8,96.9 473,96.3 473.3,95.7 473.6,95.1 473.8,94.5 474.7,92.6 475.6,90.8 476.5,89 477.4,87.4 478.3,85.8 479.2,84.3 480.1,82.8 481,81.4 481.9,80 482.7,78.6 483.6,77.3 484.5,76 485.4,74.8 486.3,73.5 487.2,72.3 488.1,71.1 489,69.9 489.9,68.8 490.8,67.7 491.6,66.6 492.5,65.5 493.4,64.4 494.3,63.3 495.2,62.3 496.1,61.2 497,60.2 497.9,59.2 498.8,58.2 499.6,57.2 500.5,56.2 501.4,55.3 502.3,54.3 503.2,53.4 504.1,52.5 505,51.5 505.9,50.6 506.8,49.7 507.7,49.3 508.6,50.2 509.4,52.2 510.3,55.5 511.2,60 512.1,65.8 513,72.8" fill="none" stroke="#e8d428" stroke-width="0.7" stroke-linejoin="round"/>
<polyline points="424,72.8 424.9,64.1 425.8,57.3 426.7,52.4 427.6,49.4 428.4,48.2 429.3,48.8 430.2,49.7 431.1,50.6 432,51.5 432.9,52.5 433.8,53.4 434.7,54.3 435.6,55.3 436.5,56.2 437.4,57.2 438.2,58.2 439.1,59.2 440,60.2 440.9,61.2 441.8,62.3 442.7,63.3 443.6,64.4 444.5,65.5 445.4,66.6 446.2,67.7 447.1,68.8 448,69.9 448.9,71.1 449.8,72.3 450.7,73.5 451.6,74.8 452.5,76 453.4,77.3 454.3,78.6 455.1,80 456,81.4 456.9,82.8 457.8,84.3 458.7,85.8 459.6,87.4 460.5,89.1 461.4,90.8 462.3,92.6 463.2,94.5 463.4,95.1 463.7,95.7 464,96.3 464.2,97 464.5,97.6 464.8,98.3 465,99 465.3,99.7 465.6,100.4 465.8,101.2 466.1,101.9 466.4,102.7 466.6,103.6 466.9,104.5 467.2,105.4 467.4,106.3 467.7,107.3 468,108.3 468.2,109.1 468.5,109.4 468.8,109.1 469,108.3 469.3,107.3 469.6,106.3 469.8,105.4 470.1,104.5 470.4,103.6 470.6,102.7 470.9,101.9 471.2,101.2 471.4,100.4 471.7,99.7 472,99 472.2,98.3 472.5,97.6 472.8,97 473,96.3 473.3,95.7 473.6,95.1 473.8,94.5 474.7,92.6 475.6,90.8 476.5,89.1 477.4,87.4 478.3,85.8 479.2,84.3 480.1,82.8 481,81.4 481.9,80 482.7,78.6 483.6,77.3 484.5,76 485.4,74.8 486.3,73.5 487.2,72.3 488.1,71.1 489,69.9 489.9,68.8 490.8,67.7 491.6,66.6 492.5,65.5 493.4,64.4 494.3,63.3 495.2,62.3 496.1,61.2 497,60.2 497.9,59.2 498.8,58.2 499.6,57.2 500.5,56.2 501.4,55.3 502.3,54.3 503.2,53.4 504.1,52.5 505,51.5 505.9,50.6 506.8,49.7 507.7,48.8 508.6,48.2 509.4,49.4 510.3,52.4 511.2,57.3 512.1,64.1 513,72.8" fill="none" stroke="#a8c850" stroke-width="0.7" stroke-linejoin="round"/>
<polyline points="424,72.8 424.9,62.5 425.8,54.9 426.7,50 427.6,47.7 428.4,47.9 429.3,48.8 430.2,49.7 431.1,50.6 432,51.5 432.9,52.5 433.8,53.4 434.7,54.3 435.6,55.3 436.5,56.2 437.4,57.2 438.2,58.2 439.1,59.2 440,60.2 440.9,61.2 441.8,62.3 442.7,63.3 443.6,64.4 444.5,65.5 445.4,66.6 446.2,67.7 447.1,68.8 448,69.9 448.9,71.1 449.8,72.3 450.7,73.5 451.6,74.8 452.5,76 453.4,77.3 454.3,78.6 455.1,80 456,81.4 456.9,82.8 457.8,84.3 458.7,85.8 459.6,87.4 460.5,89.1 461.4,90.8 462.3,92.6 463.2,94.5 463.4,95.1 463.7,95.7 464,96.3 464.2,97 464.5,97.6 464.8,98.3 465,99 465.3,99.7 465.6,100.4 465.8,101.2 466.1,102 466.4,102.8 466.6,103.7 466.9,104.5 467.2,105.5 467.4,106.5 467.7,107.5 468,108.6 468.2,109.5 468.5,109.9 468.8,109.5 469,108.6 469.3,107.5 469.6,106.5 469.8,105.5 470.1,104.5 470.4,103.7 470.6,102.8 470.9,102 471.2,101.2 471.4,100.4 471.7,99.7 472,99 472.2,98.3 472.5,97.6 472.8,97 473,96.3 473.3,95.7 473.6,95.1 473.8,94.5 474.7,92.6 475.6,90.8 476.5,89.1 477.4,87.4 478.3,85.8 479.2,84.3 480.1,82.8 481,81.4 481.9,80 482.7,78.6 483.6,77.3 484.5,76 485.4,74.8 486.3,73.5 487.2,72.3 488.1,71.1 489,69.9 489.9,68.8 490.8,67.7 491.6,66.6 492.5,65.5 493.4,64.4 494.3,63.3 495.2,62.3 496.1,61.2 497,60.2 497.9,59.2 498.8,58.2 499.6,57.2 500.5,56.2 501.4,55.3 502.3,54.3 503.2,53.4 504.1,52.5 505,51.5 505.9,50.6 506.8,49.7 507.7,48.8 508.6,47.9 509.4,47.7 510.3,50 511.2,54.9 512.1,62.5 513,72.8" fill="none" stroke="#22985a" stroke-width="0.7" stroke-linejoin="round"/>
<polyline points="424,72.8 424.9,61 425.8,52.8 426.7,48.1 427.6,47 428.4,47.9 429.3,48.8 430.2,49.7 431.1,50.6 432,51.5 432.9,52.5 433.8,53.4 434.7,54.3 435.6,55.3 436.5,56.2 437.4,57.2 438.2,58.2 439.1,59.2 440,60.2 440.9,61.2 441.8,62.3 442.7,63.3 443.6,64.4 444.5,65.5 445.4,66.6 446.2,67.7 447.1,68.8 448,70 448.9,71.1 449.8,72.3 450.7,73.5 451.6,74.8 452.5,76 453.4,77.3 454.3,78.6 455.1,80 456,81.4 456.9,82.8 457.8,84.3 458.7,85.8 459.6,87.4 460.5,89.1 461.4,90.8 462.3,92.6 463.2,94.5 463.4,95.1 463.7,95.7 464,96.4 464.2,97 464.5,97.7 464.8,98.3 465,99 465.3,99.7 465.6,100.5 465.8,101.2 466.1,102 466.4,102.8 466.6,103.7 466.9,104.6 467.2,105.6 467.4,106.6 467.7,107.6 468,108.8 468.2,109.8 468.5,110.3 468.8,109.8 469,108.8 469.3,107.6 469.6,106.6 469.8,105.6 470.1,104.6 470.4,103.7 470.6,102.8 470.9,102 471.2,101.2 471.4,100.5 471.7,99.7 472,99 472.2,98.3 472.5,97.7 472.8,97 473,96.4 473.3,95.7 473.6,95.1 473.8,94.5 474.7,92.6 475.6,90.8 476.5,89.1 477.4,87.4 478.3,85.8 479.2,84.3 480.1,82.8 481,81.4 481.9,80 482.7,78.6 483.6,77.3 484.5,76 485.4,74.8 486.3,73.5 487.2,72.3 488.1,71.1 489,70 489.9,68.8 490.8,67.7 491.6,66.6 492.5,65.5 493.4,64.4 494.3,63.3 495.2,62.3 496.1,61.2 497,60.2 497.9,59.2 498.8,58.2 499.6,57.2 500.5,56.2 501.4,55.3 502.3,54.3 503.2,53.4 504.1,52.5 505,51.5 505.9,50.6 506.8,49.7 507.7,48.8 508.6,47.9 509.4,47 510.3,48.1 511.2,52.8 512.1,61 513,72.8" fill="none" stroke="#30a8dc" stroke-width="0.9" stroke-linejoin="round"/>
<polyline points="424,72.8 424.9,59.5 425.8,50.9 426.7,46.9 427.6,47 428.4,47.9 429.3,48.8 430.2,49.7 431.1,50.6 432,51.5 432.9,52.5 433.8,53.4 434.7,54.3 435.6,55.3 436.5,56.2 437.4,57.2 438.2,58.2 439.1,59.2 440,60.2 440.9,61.2 441.8,62.3 442.7,63.3 443.6,64.4 444.5,65.5 445.4,66.6 446.2,67.7 447.1,68.8 448,70 448.9,71.1 449.8,72.3 450.7,73.5 451.6,74.8 452.5,76 453.4,77.3 454.3,78.6 455.1,80 456,81.4 456.9,82.8 457.8,84.3 458.7,85.8 459.6,87.4 460.5,89.1 461.4,90.8 462.3,92.6 463.2,94.5 463.4,95.1 463.7,95.7 464,96.4 464.2,97 464.5,97.7 464.8,98.3 465,99 465.3,99.7 465.6,100.5 465.8,101.2 466.1,102 466.4,102.9 466.6,103.7 466.9,104.6 467.2,105.6 467.4,106.6 467.7,107.7 468,108.9 468.2,110 468.5,110.6 468.8,110 469,108.9 469.3,107.7 469.6,106.6 469.8,105.6 470.1,104.6 470.4,103.7 470.6,102.9 470.9,102 471.2,101.2 471.4,100.5 471.7,99.7 472,99 472.2,98.3 472.5,97.7 472.8,97 473,96.4 473.3,95.7 473.6,95.1 473.8,94.5 474.7,92.6 475.6,90.8 476.5,89.1 477.4,87.4 478.3,85.8 479.2,84.3 480.1,82.8 481,81.4 481.9,80 482.7,78.6 483.6,77.3 484.5,76 485.4,74.8 486.3,73.5 487.2,72.3 488.1,71.1 489,70 489.9,68.8 490.8,67.7 491.6,66.6 492.5,65.5 493.4,64.4 494.3,63.3 495.2,62.3 496.1,61.2 497,60.2 497.9,59.2 498.8,58.2 499.6,57.2 500.5,56.2 501.4,55.3 502.3,54.3 503.2,53.4 504.1,52.5 505,51.5 505.9,50.6 506.8,49.7 507.7,48.8 508.6,47.9 509.4,47 510.3,46.9 511.2,50.9 512.1,59.5 513,72.8" fill="none" stroke="#2e6eb4" stroke-width="0.9" stroke-linejoin="round"/>
<polyline points="424,72.8 424.9,58.1 425.8,49.3 426.7,46.2 427.6,47 428.4,47.9 429.3,48.8 430.2,49.7 431.1,50.6 432,51.5 432.9,52.5 433.8,53.4 434.7,54.3 435.6,55.3 436.5,56.2 437.4,57.2 438.2,58.2 439.1,59.2 440,60.2 440.9,61.2 441.8,62.3 442.7,63.3 443.6,64.4 444.5,65.5 445.4,66.6 446.2,67.7 447.1,68.8 448,70 448.9,71.1 449.8,72.3 450.7,73.5 451.6,74.8 452.5,76 453.4,77.3 454.3,78.6 455.1,80 456,81.4 456.9,82.8 457.8,84.3 458.7,85.8 459.6,87.4 460.5,89.1 461.4,90.8 462.3,92.6 463.2,94.5 463.4,95.1 463.7,95.7 464,96.4 464.2,97 464.5,97.7 464.8,98.3 465,99 465.3,99.8 465.6,100.5 465.8,101.3 466.1,102.1 466.4,102.9 466.6,103.7 466.9,104.7 467.2,105.6 467.4,106.7 467.7,107.8 468,109 468.2,110.2 468.5,110.9 468.8,110.2 469,109 469.3,107.8 469.6,106.7 469.8,105.6 470.1,104.7 470.4,103.7 470.6,102.9 470.9,102.1 471.2,101.3 471.4,100.5 471.7,99.8 472,99 472.2,98.3 472.5,97.7 472.8,97 473,96.4 473.3,95.7 473.6,95.1 473.8,94.5 474.7,92.6 475.6,90.8 476.5,89.1 477.4,87.4 478.3,85.8 479.2,84.3 480.1,82.8 481,81.4 481.9,80 482.7,78.6 483.6,77.3 484.5,76 485.4,74.8 486.3,73.5 487.2,72.3 488.1,71.1 489,70 489.9,68.8 490.8,67.7 491.6,66.6 492.5,65.5 493.4,64.4 494.3,63.3 495.2,62.3 496.1,61.2 497,60.2 497.9,59.2 498.8,58.2 499.6,57.2 500.5,56.2 501.4,55.3 502.3,54.3 503.2,53.4 504.1,52.5 505,51.5 505.9,50.6 506.8,49.7 507.7,48.8 508.6,47.9 509.4,47 510.3,46.2 511.2,49.3 512.1,58.1 513,72.8" fill="none" stroke="#22306a" stroke-width="0.9" stroke-linejoin="round"/>
<polyline points="424,72.8 424.9,56.8 425.8,48 426.7,46.2 427.6,47 428.4,47.9 429.3,48.8 430.2,49.7 431.1,50.6 432,51.5 432.9,52.5 433.8,53.4 434.7,54.3 435.6,55.3 436.5,56.2 437.4,57.2 438.2,58.2 439.1,59.2 440,60.2 440.9,61.2 441.8,62.3 442.7,63.3 443.6,64.4 444.5,65.5 445.4,66.6 446.2,67.7 447.1,68.8 448,70 448.9,71.1 449.8,72.3 450.7,73.5 451.6,74.8 452.5,76 453.4,77.3 454.3,78.6 455.1,80 456,81.4 456.9,82.8 457.8,84.3 458.7,85.8 459.6,87.4 460.5,89.1 461.4,90.8 462.3,92.6 463.2,94.5 463.4,95.1 463.7,95.8 464,96.4 464.2,97 464.5,97.7 464.8,98.4 465,99 465.3,99.8 465.6,100.5 465.8,101.3 466.1,102.1 466.4,102.9 466.6,103.8 466.9,104.7 467.2,105.7 467.4,106.7 467.7,107.8 468,109.1 468.2,110.3 468.5,111.1 468.8,110.3 469,109.1 469.3,107.8 469.6,106.7 469.8,105.7 470.1,104.7 470.4,103.8 470.6,102.9 470.9,102.1 471.2,101.3 471.4,100.5 471.7,99.8 472,99 472.2,98.4 472.5,97.7 472.8,97 473,96.4 473.3,95.8 473.6,95.1 473.8,94.5 474.7,92.6 475.6,90.8 476.5,89.1 477.4,87.4 478.3,85.8 479.2,84.3 480.1,82.8 481,81.4 481.9,80 482.7,78.6 483.6,77.3 484.5,76 485.4,74.8 486.3,73.5 487.2,72.3 488.1,71.1 489,70 489.9,68.8 490.8,67.7 491.6,66.6 492.5,65.5 493.4,64.4 494.3,63.3 495.2,62.3 496.1,61.2 497,60.2 497.9,59.2 498.8,58.2 499.6,57.2 500.5,56.2 501.4,55.3 502.3,54.3 503.2,53.4 504.1,52.5 505,51.5 505.9,50.6 506.8,49.7 507.7,48.8 508.6,47.9 509.4,47 510.3,46.2 511.2,48 512.1,56.8 513,72.8" fill="none" stroke="#7030a0" stroke-width="0.9" stroke-linejoin="round"/>
<polyline points="424,43.6 425.2,44.7 426.4,45.9 427.6,47 428.7,48.2 429.9,49.4 431,50.5 432.1,51.7 433.3,52.8 434.4,54 435.4,55.1 436.5,56.3 437.6,57.5 438.6,58.6 439.7,59.8 440.7,61 441.7,62.1 442.7,63.3 443.6,64.5 444.6,65.6 445.6,66.8 446.5,68 447.4,69.1 448.3,70.3 449.2,71.5 450.1,72.7 450.9,73.9 451.8,75 452.6,76.2 453.4,77.4 454.2,78.6 455,79.8 455.8,81 456.5,82.2 457.2,83.3 457.9,84.5 458.6,85.7 459.3,86.9 460,88.1 460.6,89.3 461.2,90.5 461.8,91.7 462.4,93 463,94.2 463.5,95.4 464,96.6 464.5,97.8 465,99 465.5,100.3 465.9,101.5 466.3,102.8 466.7,104 467,105.2 467.4,106.5 467.6,107.8 467.9,109.1 468.1,110.3 468.3,111.7 468.4,113 468.5,114.4 468.6,113 468.7,111.7 468.9,110.3 469.1,109.1 469.4,107.8 469.6,106.5 470,105.2 470.3,104 470.7,102.8 471.1,101.5 471.5,100.3 472,99 472.5,97.8 473,96.6 473.5,95.4 474,94.2 474.6,93 475.2,91.7 475.8,90.5 476.4,89.3 477,88.1 477.7,86.9 478.4,85.7 479.1,84.5 479.8,83.3 480.5,82.2 481.2,81 482,79.8 482.8,78.6 483.6,77.4 484.4,76.2 485.2,75 486.1,73.9 486.9,72.7 487.8,71.5 488.7,70.3 489.6,69.1 490.5,68 491.4,66.8 492.4,65.6 493.4,64.5 494.3,63.3 495.3,62.1 496.3,61 497.3,59.8 498.4,58.6 499.4,57.5 500.5,56.3 501.6,55.1 502.6,54 503.7,52.8 504.9,51.7 506,50.5 507.1,49.4 508.3,48.2 509.4,47 510.6,45.9 511.8,44.7 513,43.6" fill="none" stroke="#262c60" stroke-width="1.2" stroke-linejoin="round"/>
<rect x="424" y="42.5" width="89" height="71.9" fill="none" stroke="#6e6e6e" stroke-width="1"/>
<ellipse cx="484" cy="78.3" rx="1.9" ry="2.3" fill="none" stroke="#e04848" stroke-width="0.7"/>
<line x1="483.5" y1="75.3" x2="477" y2="75.3" stroke="#e04848" stroke-width="0.8"/>
<path d="M476.5 75.3 l2 -1.2 l0 2.4z" fill="#e04848"/>
<ellipse cx="491.8" cy="97.9" rx="1.5" ry="2.0" fill="#fff" stroke="#444" stroke-width="0.7"/>
<line x1="491.8" y1="100.5" x2="496.8" y2="100.5" stroke="#333" stroke-width="0.7"/>
<path d="M497.6 100.5 l-2 -1.1 l0 2.2z" fill="#333"/>
<text x="427" y="103.5" font-size="6.9" text-anchor="start" font-weight="bold" fill="#1e1e1e" font-family="Liberation Sans" transform="matrix(1 0 0 1.1 0 -10.1)">Fractional</text>
<text x="426.3" y="111.6" font-size="6.9" text-anchor="start" font-weight="bold" fill="#1e1e1e" font-family="Liberation Sans" transform="matrix(1 0 0 1.1 0 -10.9)">order: 0.6</text>
<text x="322.8" y="124" font-size="6.6" text-anchor="end" font-weight="bold" fill="#333" font-family="Liberation Sans" transform="matrix(1 0 0 1.1 0 -12.2)">1</text>
<text x="322.8" y="137.3" font-size="6.6" text-anchor="end" font-weight="bold" fill="#333" font-family="Liberation Sans" transform="matrix(1 0 0 1.1 0 -13.5)">0.8</text>
<text x="322.8" y="150.5" font-size="6.6" text-anchor="end" font-weight="bold" fill="#333" font-family="Liberation Sans" transform="matrix(1 0 0 1.1 0 -14.8)">0.6</text>
<text x="322.8" y="163.8" font-size="6.6" text-anchor="end" font-weight="bold" fill="#333" font-family="Liberation Sans" transform="matrix(1 0 0 1.1 0 -16.1)">0.4</text>
<text x="322.8" y="177.1" font-size="6.6" text-anchor="end" font-weight="bold" fill="#333" font-family="Liberation Sans" transform="matrix(1 0 0 1.1 0 -17.5)">0.2</text>
<text x="322.8" y="190.4" font-size="6.6" text-anchor="end" font-weight="bold" fill="#333" font-family="Liberation Sans" transform="matrix(1 0 0 1.1 0 -18.8)">0</text>
<text x="303" y="151.4" font-size="8.5" text-anchor="middle" font-weight="bold" fill="#1e1e1e" font-family="Liberation Sans" transform="rotate(-90 303 148.3)" stroke="#1e1e1e" stroke-width="0.2">Amplitude (a.u.)</text>
<text x="529.3" y="126.9" font-size="6.4" text-anchor="middle" font-weight="bold" fill="#3a3a3a" font-family="Liberation Sans" transform="matrix(1 0 0 1.1 0 -12.5)">80</text>
<text x="529.3" y="141.2" font-size="6.4" text-anchor="middle" font-weight="bold" fill="#3a3a3a" font-family="Liberation Sans" transform="matrix(1 0 0 1.1 0 -13.9)">40</text>
<text x="529.3" y="155.6" font-size="6.4" text-anchor="middle" font-weight="bold" fill="#3a3a3a" font-family="Liberation Sans" transform="matrix(1 0 0 1.1 0 -15.3)">0</text>
<text x="529.3" y="169.9" font-size="6.4" text-anchor="middle" font-weight="bold" fill="#3a3a3a" font-family="Liberation Sans" transform="matrix(1 0 0 1.1 0 -16.8)">-40</text>
<text x="529.3" y="184.2" font-size="6.4" text-anchor="middle" font-weight="bold" fill="#3a3a3a" font-family="Liberation Sans" transform="matrix(1 0 0 1.1 0 -18.2)">-80</text>
<text x="540.5" y="154.8" font-size="8.7" text-anchor="middle" font-weight="bold" fill="#1e1e1e" font-family="Liberation Sans" transform="rotate(90 540.5 151.7)" stroke="#1e1e1e" stroke-width="0.2">Phase (degree)</text>
<line x1="337.7" y1="188.6" x2="337.7" y2="186.8" stroke="#6e6e6e" stroke-width="0.6"/>
<line x1="337.7" y1="117" x2="337.7" y2="118.8" stroke="#6e6e6e" stroke-width="0.6"/>
<line x1="350.8" y1="188.6" x2="350.8" y2="186.8" stroke="#6e6e6e" stroke-width="0.6"/>
<line x1="350.8" y1="117" x2="350.8" y2="118.8" stroke="#6e6e6e" stroke-width="0.6"/>
<line x1="363.8" y1="188.6" x2="363.8" y2="186.8" stroke="#6e6e6e" stroke-width="0.6"/>
<line x1="363.8" y1="117" x2="363.8" y2="118.8" stroke="#6e6e6e" stroke-width="0.6"/>
<line x1="376.8" y1="188.6" x2="376.8" y2="186.8" stroke="#6e6e6e" stroke-width="0.6"/>
<line x1="376.8" y1="117" x2="376.8" y2="118.8" stroke="#6e6e6e" stroke-width="0.6"/>
<line x1="389.8" y1="188.6" x2="389.8" y2="186.8" stroke="#6e6e6e" stroke-width="0.6"/>
<line x1="389.8" y1="117" x2="389.8" y2="118.8" stroke="#6e6e6e" stroke-width="0.6"/>
<line x1="402.8" y1="188.6" x2="402.8" y2="186.8" stroke="#6e6e6e" stroke-width="0.6"/>
<line x1="402.8" y1="117" x2="402.8" y2="118.8" stroke="#6e6e6e" stroke-width="0.6"/>
<line x1="415.9" y1="188.6" x2="415.9" y2="186.8" stroke="#6e6e6e" stroke-width="0.6"/>
<line x1="415.9" y1="117" x2="415.9" y2="118.8" stroke="#6e6e6e" stroke-width="0.6"/>
<line x1="332" y1="131.3" x2="333.8" y2="131.3" stroke="#6e6e6e" stroke-width="0.6"/>
<line x1="421.6" y1="131.3" x2="419.8" y2="131.3" stroke="#6e6e6e" stroke-width="0.6"/>
<line x1="332" y1="145.6" x2="333.8" y2="145.6" stroke="#6e6e6e" stroke-width="0.6"/>
<line x1="421.6" y1="145.6" x2="419.8" y2="145.6" stroke="#6e6e6e" stroke-width="0.6"/>
<line x1="332" y1="160" x2="333.8" y2="160" stroke="#6e6e6e" stroke-width="0.6"/>
<line x1="421.6" y1="160" x2="419.8" y2="160" stroke="#6e6e6e" stroke-width="0.6"/>
<line x1="332" y1="174.3" x2="333.8" y2="174.3" stroke="#6e6e6e" stroke-width="0.6"/>
<line x1="421.6" y1="174.3" x2="419.8" y2="174.3" stroke="#6e6e6e" stroke-width="0.6"/>
<polyline points="332,143.1 376.8,143.1 376.8,188.6" fill="none" stroke="#3a3a3a" stroke-width="1" stroke-linejoin="round"/>
<polyline points="376.8,188.6 376.8,162.5 421.6,162.5" fill="none" stroke="#3a3a3a" stroke-width="1" stroke-linejoin="round"/>
<polyline points="332,125.8 332.9,125.5 333.8,125.4 334.7,125.2 335.6,125.1 336.5,125 337.4,125 338.3,125 339.2,125 340.1,125.1 341,125.2 341.9,125.3 342.8,125.5 343.6,125.7 344.5,125.9 345.4,126.2 346.3,126.6 347.2,126.9 348.1,127.3 349,127.8 349.9,128.3 350.8,128.8 351.7,129.4 352.6,130 353.5,130.6 354.4,131.3 355.3,131.7 356.2,132.4 357.1,133.2 358,133.9 358.9,134.7 359.8,135.4 360.7,136.3 361.6,137.1 362.5,138 363.4,138.9 364.3,139.8 365.2,140.8 366,141.8 366.9,142.9 367.8,144 368.7,145.1 369.6,146.3 370.5,147.6 371.4,148.9 371.7,149.3 372,149.7 372.2,150.1 372.5,150.5 372.8,150.9 373,151.2 373.3,151.6 373.6,152 373.8,152.4 374.1,152.7 374.4,153.1 374.6,153.4 374.9,153.7 375.2,154 375.5,154.2 375.7,154.4 376,154.6 376.3,154.7 376.5,154.8 376.8,154.8 377.1,154.8 377.3,154.7 377.6,154.6 377.9,154.4 378.1,154.2 378.4,154 378.7,153.7 379,153.4 379.2,153.1 379.5,152.7 379.8,152.4 380,152 380.3,151.6 380.6,151.2 380.8,150.9 381.1,150.5 381.4,150.1 381.6,149.7 381.9,149.3 382.2,148.9 383.1,147.6 384,146.3 384.9,145.1 385.8,144 386.7,142.9 387.6,141.8 388.4,140.8 389.3,139.8 390.2,138.9 391.1,138 392,137.1 392.9,136.3 393.8,135.4 394.7,134.7 395.6,133.9 396.5,133.2 397.4,132.4 398.3,131.7 399.2,131.3 400.1,130.6 401,130 401.9,129.4 402.8,128.8 403.7,128.3 404.6,127.8 405.5,127.3 406.4,126.9 407.3,126.6 408.2,126.2 409.1,125.9 410,125.7 410.8,125.5 411.7,125.3 412.6,125.2 413.5,125.1 414.4,125 415.3,125 416.2,125 417.1,125 418,125.1 418.9,125.2 419.8,125.4 420.7,125.5 421.6,125.8" fill="none" stroke="#c8141e" stroke-width="0.7" stroke-linejoin="round" stroke-dasharray="1.5 0.9"/>
<polyline points="332,125.8 332.9,125.1 333.8,124.4 334.7,123.9 335.6,123.5 336.5,123.2 337.4,123 338.3,122.8 339.2,122.8 340.1,122.9 341,123.1 341.9,123.3 342.8,123.7 343.6,124.2 344.5,124.7 345.4,125.2 346.3,125.8 347.2,126.3 348.1,126.9 349,127.5 349.9,128.1 350.8,128.7 351.7,129.3 352.6,130 353.5,130.6 354.4,131.3 355.3,131.9 356.2,132.6 357.1,133.4 358,134.1 358.9,134.9 359.8,135.7 360.7,136.6 361.6,137.4 362.5,138.3 363.4,139.3 364.3,140.3 365.2,141.3 366,142.4 366.9,143.5 367.8,144.7 368.7,146 369.6,147.4 370.5,148.8 371.4,150.4 371.7,150.9 372,151.4 372.2,152 372.5,152.5 372.8,153.1 373,153.6 373.3,154.2 373.6,154.8 373.8,155.4 374.1,156 374.4,156.6 374.6,157.2 374.9,157.7 375.2,158.3 375.5,158.8 375.7,159.3 376,159.7 376.3,160 376.5,160.2 376.8,160.3 377.1,160.2 377.3,160 377.6,159.7 377.9,159.3 378.1,158.8 378.4,158.3 378.7,157.7 379,157.2 379.2,156.6 379.5,156 379.8,155.4 380,154.8 380.3,154.2 380.6,153.6 380.8,153.1 381.1,152.5 381.4,152 381.6,151.4 381.9,150.9 382.2,150.4 383.1,148.8 384,147.4 384.9,146 385.8,144.7 386.7,143.5 387.6,142.4 388.4,141.3 389.3,140.3 390.2,139.3 391.1,138.3 392,137.4 392.9,136.6 393.8,135.7 394.7,134.9 395.6,134.1 396.5,133.4 397.4,132.6 398.3,131.9 399.2,131.3 400.1,130.6 401,130 401.9,129.3 402.8,128.7 403.7,128.1 404.6,127.5 405.5,126.9 406.4,126.3 407.3,125.8 408.2,125.2 409.1,124.7 410,124.2 410.8,123.7 411.7,123.3 412.6,123.1 413.5,122.9 414.4,122.8 415.3,122.8 416.2,123 417.1,123.2 418,123.5 418.9,123.9 419.8,124.4 420.7,125.1 421.6,125.8" fill="none" stroke="#e8242a" stroke-width="0.7" stroke-linejoin="round" stroke-dasharray="1.5 0.9"/>
<polyline points="332,125.8 332.9,124.6 333.8,123.6 334.7,122.8 335.6,122.2 336.5,121.8 337.4,121.6 338.3,121.6 339.2,121.8 340.1,122.2 341,122.6 341.9,123.1 342.8,123.6 343.6,124.2 344.5,124.7 345.4,125.2 346.3,125.8 347.2,126.3 348.1,126.9 349,127.5 349.9,128.1 350.8,128.7 351.7,129.3 352.6,130 353.5,130.6 354.4,131.3 355.3,132 356.2,132.7 357.1,133.4 358,134.2 358.9,135 359.8,135.8 360.7,136.6 361.6,137.5 362.5,138.4 363.4,139.4 364.3,140.4 365.2,141.4 366,142.5 366.9,143.7 367.8,144.9 368.7,146.2 369.6,147.6 370.5,149.2 371.4,150.9 371.7,151.4 372,151.9 372.2,152.5 372.5,153.1 372.8,153.7 373,154.3 373.3,155 373.6,155.6 373.8,156.3 374.1,157 374.4,157.8 374.6,158.5 374.9,159.3 375.2,160.1 375.5,160.8 375.7,161.6 376,162.2 376.3,162.8 376.5,163.1 376.8,163.2 377.1,163.1 377.3,162.8 377.6,162.2 377.9,161.6 378.1,160.8 378.4,160.1 378.7,159.3 379,158.5 379.2,157.8 379.5,157 379.8,156.3 380,155.6 380.3,155 380.6,154.3 380.8,153.7 381.1,153.1 381.4,152.5 381.6,151.9 381.9,151.4 382.2,150.9 383.1,149.2 384,147.6 384.9,146.2 385.8,144.9 386.7,143.7 387.6,142.5 388.4,141.4 389.3,140.4 390.2,139.4 391.1,138.4 392,137.5 392.9,136.6 393.8,135.8 394.7,135 395.6,134.2 396.5,133.4 397.4,132.7 398.3,132 399.2,131.3 400.1,130.6 401,130 401.9,129.3 402.8,128.7 403.7,128.1 404.6,127.5 405.5,126.9 406.4,126.3 407.3,125.8 408.2,125.2 409.1,124.7 410,124.2 410.8,123.6 411.7,123.1 412.6,122.6 413.5,122.2 414.4,121.8 415.3,121.6 416.2,121.6 417.1,121.8 418,122.2 418.9,122.8 419.8,123.6 420.7,124.6 421.6,125.8" fill="none" stroke="#f0a628" stroke-width="0.7" stroke-linejoin="round" stroke-dasharray="1.5 0.9"/>
<polyline points="332,125.8 332.9,124.1 333.8,122.8 334.7,121.8 335.6,121.2 336.5,120.9 337.4,120.9 338.3,121.2 339.2,121.7 340.1,122.2 341,122.6 341.9,123.1 342.8,123.6 343.6,124.2 344.5,124.7 345.4,125.2 346.3,125.8 347.2,126.3 348.1,126.9 349,127.5 349.9,128.1 350.8,128.7 351.7,129.3 352.6,130 353.5,130.6 354.4,131.3 355.3,132 356.2,132.7 357.1,133.4 358,134.2 358.9,135 359.8,135.8 360.7,136.7 361.6,137.5 362.5,138.4 363.4,139.4 364.3,140.4 365.2,141.5 366,142.6 366.9,143.7 367.8,145 368.7,146.3 369.6,147.7 370.5,149.3 371.4,151 371.7,151.6 372,152.1 372.2,152.7 372.5,153.3 372.8,154 373,154.6 373.3,155.3 373.6,156 373.8,156.7 374.1,157.5 374.4,158.3 374.6,159.2 374.9,160.1 375.2,161 375.5,161.9 375.7,162.8 376,163.7 376.3,164.5 376.5,165 376.8,165.2 377.1,165 377.3,164.5 377.6,163.7 377.9,162.8 378.1,161.9 378.4,161 378.7,160.1 379,159.2 379.2,158.3 379.5,157.5 379.8,156.7 380,156 380.3,155.3 380.6,154.6 380.8,154 381.1,153.3 381.4,152.7 381.6,152.1 381.9,151.6 382.2,151 383.1,149.3 384,147.7 384.9,146.3 385.8,145 386.7,143.7 387.6,142.6 388.4,141.5 389.3,140.4 390.2,139.4 391.1,138.4 392,137.5 392.9,136.7 393.8,135.8 394.7,135 395.6,134.2 396.5,133.4 397.4,132.7 398.3,132 399.2,131.3 400.1,130.6 401,130 401.9,129.3 402.8,128.7 403.7,128.1 404.6,127.5 405.5,126.9 406.4,126.3 407.3,125.8 408.2,125.2 409.1,124.7 410,124.2 410.8,123.6 411.7,123.1 412.6,122.6 413.5,122.2 414.4,121.7 415.3,121.2 416.2,120.9 417.1,120.9 418,121.2 418.9,121.8 419.8,122.8 420.7,124.1 421.6,125.8" fill="none" stroke="#e8d428" stroke-width="0.7" stroke-linejoin="round"/>
<polyline points="332,125.8 332.9,123.7 333.8,122.1 334.7,121 335.6,120.4 336.5,120.4 337.4,120.7 338.3,121.2 339.2,121.7 340.1,122.2 341,122.6 341.9,123.1 342.8,123.6 343.6,124.2 344.5,124.7 345.4,125.2 346.3,125.8 347.2,126.3 348.1,126.9 349,127.5 349.9,128.1 350.8,128.7 351.7,129.3 352.6,130 353.5,130.6 354.4,131.3 355.3,132 356.2,132.7 357.1,133.5 358,134.2 358.9,135 359.8,135.8 360.7,136.7 361.6,137.5 362.5,138.5 363.4,139.4 364.3,140.4 365.2,141.5 366,142.6 366.9,143.8 367.8,145 368.7,146.4 369.6,147.8 370.5,149.4 371.4,151.1 371.7,151.7 372,152.2 372.2,152.8 372.5,153.4 372.8,154.1 373,154.8 373.3,155.5 373.6,156.2 373.8,157 374.1,157.8 374.4,158.6 374.6,159.5 374.9,160.5 375.2,161.5 375.5,162.5 375.7,163.6 376,164.7 376.3,165.6 376.5,166.4 376.8,166.6 377.1,166.4 377.3,165.6 377.6,164.7 377.9,163.6 378.1,162.5 378.4,161.5 378.7,160.5 379,159.5 379.2,158.6 379.5,157.8 379.8,157 380,156.2 380.3,155.5 380.6,154.8 380.8,154.1 381.1,153.4 381.4,152.8 381.6,152.2 381.9,151.7 382.2,151.1 383.1,149.4 384,147.8 384.9,146.4 385.8,145 386.7,143.8 387.6,142.6 388.4,141.5 389.3,140.4 390.2,139.4 391.1,138.5 392,137.5 392.9,136.7 393.8,135.8 394.7,135 395.6,134.2 396.5,133.5 397.4,132.7 398.3,132 399.2,131.3 400.1,130.6 401,130 401.9,129.3 402.8,128.7 403.7,128.1 404.6,127.5 405.5,126.9 406.4,126.3 407.3,125.8 408.2,125.2 409.1,124.7 410,124.2 410.8,123.6 411.7,123.1 412.6,122.6 413.5,122.2 414.4,121.7 415.3,121.2 416.2,120.7 417.1,120.4 418,120.4 418.9,121 419.8,122.1 420.7,123.7 421.6,125.8" fill="none" stroke="#a8c850" stroke-width="0.7" stroke-linejoin="round"/>
<polyline points="332,125.8 332.9,123.3 333.8,121.5 334.7,120.4 335.6,120 336.5,120.3 337.4,120.7 338.3,121.2 339.2,121.7 340.1,122.2 341,122.6 341.9,123.1 342.8,123.6 343.6,124.2 344.5,124.7 345.4,125.2 346.3,125.8 347.2,126.3 348.1,126.9 349,127.5 349.9,128.1 350.8,128.7 351.7,129.3 352.6,130 353.5,130.6 354.4,131.3 355.3,132 356.2,132.7 357.1,133.5 358,134.2 358.9,135 359.8,135.8 360.7,136.7 361.6,137.6 362.5,138.5 363.4,139.4 364.3,140.4 365.2,141.5 366,142.6 366.9,143.8 367.8,145 368.7,146.4 369.6,147.8 370.5,149.4 371.4,151.2 371.7,151.7 372,152.3 372.2,152.9 372.5,153.5 372.8,154.2 373,154.8 373.3,155.6 373.6,156.3 373.8,157.1 374.1,157.9 374.4,158.8 374.6,159.7 374.9,160.7 375.2,161.8 375.5,162.9 375.7,164.1 376,165.3 376.3,166.5 376.5,167.4 376.8,167.8 377.1,167.4 377.3,166.5 377.6,165.3 377.9,164.1 378.1,162.9 378.4,161.8 378.7,160.7 379,159.7 379.2,158.8 379.5,157.9 379.8,157.1 380,156.3 380.3,155.6 380.6,154.8 380.8,154.2 381.1,153.5 381.4,152.9 381.6,152.3 381.9,151.7 382.2,151.2 383.1,149.4 384,147.8 384.9,146.4 385.8,145 386.7,143.8 387.6,142.6 388.4,141.5 389.3,140.4 390.2,139.4 391.1,138.5 392,137.6 392.9,136.7 393.8,135.8 394.7,135 395.6,134.2 396.5,133.5 397.4,132.7 398.3,132 399.2,131.3 400.1,130.6 401,130 401.9,129.3 402.8,128.7 403.7,128.1 404.6,127.5 405.5,126.9 406.4,126.3 407.3,125.8 408.2,125.2 409.1,124.7 410,124.2 410.8,123.6 411.7,123.1 412.6,122.6 413.5,122.2 414.4,121.7 415.3,121.2 416.2,120.7 417.1,120.3 418,120 418.9,120.4 419.8,121.5 420.7,123.3 421.6,125.8" fill="none" stroke="#22985a" stroke-width="0.7" stroke-linejoin="round"/>
<polyline points="332,125.8 332.9,122.9 333.8,120.9 334.7,119.9 335.6,119.8 336.5,120.3 337.4,120.7 338.3,121.2 339.2,121.7 340.1,122.2 341,122.6 341.9,123.1 342.8,123.6 343.6,124.2 344.5,124.7 345.4,125.2 346.3,125.8 347.2,126.3 348.1,126.9 349,127.5 349.9,128.1 350.8,128.7 351.7,129.3 352.6,130 353.5,130.6 354.4,131.3 355.3,132 356.2,132.7 357.1,133.5 358,134.2 358.9,135 359.8,135.8 360.7,136.7 361.6,137.6 362.5,138.5 363.4,139.4 364.3,140.4 365.2,141.5 366,142.6 366.9,143.8 367.8,145 368.7,146.4 369.6,147.8 370.5,149.4 371.4,151.2 371.7,151.7 372,152.3 372.2,152.9 372.5,153.6 372.8,154.2 373,154.9 373.3,155.6 373.6,156.4 373.8,157.2 374.1,158 374.4,158.9 374.6,159.8 374.9,160.9 375.2,162 375.5,163.1 375.7,164.4 376,165.8 376.3,167.1 376.5,168.2 376.8,168.7 377.1,168.2 377.3,167.1 377.6,165.8 377.9,164.4 378.1,163.1 378.4,162 378.7,160.9 379,159.8 379.2,158.9 379.5,158 379.8,157.2 380,156.4 380.3,155.6 380.6,154.9 380.8,154.2 381.1,153.6 381.4,152.9 381.6,152.3 381.9,151.7 382.2,151.2 383.1,149.4 384,147.8 384.9,146.4 385.8,145 386.7,143.8 387.6,142.6 388.4,141.5 389.3,140.4 390.2,139.4 391.1,138.5 392,137.6 392.9,136.7 393.8,135.8 394.7,135 395.6,134.2 396.5,133.5 397.4,132.7 398.3,132 399.2,131.3 400.1,130.6 401,130 401.9,129.3 402.8,128.7 403.7,128.1 404.6,127.5 405.5,126.9 406.4,126.3 407.3,125.8 408.2,125.2 409.1,124.7 410,124.2 410.8,123.6 411.7,123.1 412.6,122.6 413.5,122.2 414.4,121.7 415.3,121.2 416.2,120.7 417.1,120.3 418,119.8 418.9,119.9 419.8,120.9 420.7,122.9 421.6,125.8" fill="none" stroke="#30a8dc" stroke-width="0.9" stroke-linejoin="round"/>
<polyline points="332,125.8 332.9,122.5 333.8,120.4 334.7,119.6 335.6,119.8 336.5,120.3 337.4,120.7 338.3,121.2 339.2,121.7 340.1,122.2 341,122.6 341.9,123.1 342.8,123.6 343.6,124.2 344.5,124.7 345.4,125.2 346.3,125.8 347.2,126.3 348.1,126.9 349,127.5 349.9,128.1 350.8,128.7 351.7,129.3 352.6,130 353.5,130.6 354.4,131.3 355.3,132 356.2,132.7 357.1,133.5 358,134.2 358.9,135 359.8,135.8 360.7,136.7 361.6,137.6 362.5,138.5 363.4,139.4 364.3,140.4 365.2,141.5 366,142.6 366.9,143.8 367.8,145.1 368.7,146.4 369.6,147.9 370.5,149.4 371.4,151.2 371.7,151.8 372,152.3 372.2,153 372.5,153.6 372.8,154.2 373,154.9 373.3,155.7 373.6,156.4 373.8,157.2 374.1,158.1 374.4,159 374.6,159.9 374.9,161 375.2,162.1 375.5,163.3 375.7,164.7 376,166.1 376.3,167.6 376.5,168.9 376.8,169.4 377.1,168.9 377.3,167.6 377.6,166.1 377.9,164.7 378.1,163.3 378.4,162.1 378.7,161 379,159.9 379.2,159 379.5,158.1 379.8,157.2 380,156.4 380.3,155.7 380.6,154.9 380.8,154.2 381.1,153.6 381.4,153 381.6,152.3 381.9,151.8 382.2,151.2 383.1,149.4 384,147.9 384.9,146.4 385.8,145.1 386.7,143.8 387.6,142.6 388.4,141.5 389.3,140.4 390.2,139.4 391.1,138.5 392,137.6 392.9,136.7 393.8,135.8 394.7,135 395.6,134.2 396.5,133.5 397.4,132.7 398.3,132 399.2,131.3 400.1,130.6 401,130 401.9,129.3 402.8,128.7 403.7,128.1 404.6,127.5 405.5,126.9 406.4,126.3 407.3,125.8 408.2,125.2 409.1,124.7 410,124.2 410.8,123.6 411.7,123.1 412.6,122.6 413.5,122.2 414.4,121.7 415.3,121.2 416.2,120.7 417.1,120.3 418,119.8 418.9,119.6 419.8,120.4 420.7,122.5 421.6,125.8" fill="none" stroke="#2e6eb4" stroke-width="0.9" stroke-linejoin="round"/>
<polyline points="332,125.8 332.9,122.1 333.8,120 334.7,119.4 335.6,119.8 336.5,120.3 337.4,120.7 338.3,121.2 339.2,121.7 340.1,122.2 341,122.6 341.9,123.1 342.8,123.6 343.6,124.2 344.5,124.7 345.4,125.2 346.3,125.8 347.2,126.3 348.1,126.9 349,127.5 349.9,128.1 350.8,128.7 351.7,129.3 352.6,130 353.5,130.6 354.4,131.3 355.3,132 356.2,132.7 357.1,133.5 358,134.2 358.9,135 359.8,135.8 360.7,136.7 361.6,137.6 362.5,138.5 363.4,139.4 364.3,140.4 365.2,141.5 366,142.6 366.9,143.8 367.8,145.1 368.7,146.4 369.6,147.9 370.5,149.5 371.4,151.2 371.7,151.8 372,152.4 372.2,153 372.5,153.6 372.8,154.3 373,155 373.3,155.7 373.6,156.4 373.8,157.3 374.1,158.1 374.4,159 374.6,160 374.9,161 375.2,162.2 375.5,163.4 375.7,164.8 376,166.3 376.3,167.9 376.5,169.4 376.8,170.1 377.1,169.4 377.3,167.9 377.6,166.3 377.9,164.8 378.1,163.4 378.4,162.2 378.7,161 379,160 379.2,159 379.5,158.1 379.8,157.3 380,156.4 380.3,155.7 380.6,155 380.8,154.3 381.1,153.6 381.4,153 381.6,152.4 381.9,151.8 382.2,151.2 383.1,149.5 384,147.9 384.9,146.4 385.8,145.1 386.7,143.8 387.6,142.6 388.4,141.5 389.3,140.4 390.2,139.4 391.1,138.5 392,137.6 392.9,136.7 393.8,135.8 394.7,135 395.6,134.2 396.5,133.5 397.4,132.7 398.3,132 399.2,131.3 400.1,130.6 401,130 401.9,129.3 402.8,128.7 403.7,128.1 404.6,127.5 405.5,126.9 406.4,126.3 407.3,125.8 408.2,125.2 409.1,124.7 410,124.2 410.8,123.6 411.7,123.1 412.6,122.6 413.5,122.2 414.4,121.7 415.3,121.2 416.2,120.7 417.1,120.3 418,119.8 418.9,119.4 419.8,120 420.7,122.1 421.6,125.8" fill="none" stroke="#22306a" stroke-width="0.9" stroke-linejoin="round"/>
<polyline points="332,125.8 332.9,121.8 333.8,119.6 334.7,119.4 335.6,119.8 336.5,120.3 337.4,120.7 338.3,121.2 339.2,121.7 340.1,122.2 341,122.6 341.9,123.1 342.8,123.6 343.6,124.2 344.5,124.7 345.4,125.2 346.3,125.8 347.2,126.3 348.1,126.9 349,127.5 349.9,128.1 350.8,128.7 351.7,129.3 352.6,130 353.5,130.6 354.4,131.3 355.3,132 356.2,132.7 357.1,133.5 358,134.2 358.9,135 359.8,135.8 360.7,136.7 361.6,137.6 362.5,138.5 363.4,139.4 364.3,140.5 365.2,141.5 366,142.6 366.9,143.8 367.8,145.1 368.7,146.4 369.6,147.9 370.5,149.5 371.4,151.2 371.7,151.8 372,152.4 372.2,153 372.5,153.6 372.8,154.3 373,155 373.3,155.7 373.6,156.5 373.8,157.3 374.1,158.1 374.4,159.1 374.6,160 374.9,161.1 375.2,162.3 375.5,163.5 375.7,165 376,166.5 376.3,168.2 376.5,169.9 376.8,170.6 377.1,169.9 377.3,168.2 377.6,166.5 377.9,165 378.1,163.5 378.4,162.3 378.7,161.1 379,160 379.2,159.1 379.5,158.1 379.8,157.3 380,156.5 380.3,155.7 380.6,155 380.8,154.3 381.1,153.6 381.4,153 381.6,152.4 381.9,151.8 382.2,151.2 383.1,149.5 384,147.9 384.9,146.4 385.8,145.1 386.7,143.8 387.6,142.6 388.4,141.5 389.3,140.5 390.2,139.4 391.1,138.5 392,137.6 392.9,136.7 393.8,135.8 394.7,135 395.6,134.2 396.5,133.5 397.4,132.7 398.3,132 399.2,131.3 400.1,130.6 401,130 401.9,129.3 402.8,128.7 403.7,128.1 404.6,127.5 405.5,126.9 406.4,126.3 407.3,125.8 408.2,125.2 409.1,124.7 410,124.2 410.8,123.6 411.7,123.1 412.6,122.6 413.5,122.2 414.4,121.7 415.3,121.2 416.2,120.7 417.1,120.3 418,119.8 418.9,119.4 419.8,119.6 420.7,121.8 421.6,125.8" fill="none" stroke="#7030a0" stroke-width="0.9" stroke-linejoin="round"/>
<polyline points="332,118.1 333.2,118.7 334.4,119.2 335.6,119.8 336.8,120.4 337.9,121 339.1,121.6 340.2,122.2 341.3,122.8 342.4,123.5 343.5,124.1 344.6,124.7 345.7,125.4 346.7,126 347.8,126.7 348.8,127.3 349.8,128 350.8,128.7 351.8,129.4 352.7,130.1 353.7,130.8 354.6,131.5 355.6,132.2 356.5,133 357.4,133.7 358.3,134.5 359.1,135.2 360,136 360.8,136.8 361.6,137.6 362.4,138.4 363.2,139.3 364,140.1 364.7,141 365.5,141.9 366.2,142.8 366.9,143.7 367.6,144.7 368.2,145.6 368.9,146.6 369.5,147.7 370.1,148.7 370.7,149.8 371.2,150.9 371.8,152.1 372.3,153.2 372.8,154.5 373.3,155.8 373.8,157.1 374.2,158.5 374.6,160 375,161.6 375.3,163.2 375.6,165.1 375.9,167 376.2,169.2 376.4,171.7 376.6,174.7 376.7,178.6 376.8,188.6 376.9,178.6 377,174.7 377.2,171.7 377.4,169.2 377.7,167 378,165.1 378.3,163.2 378.6,161.6 379,160 379.4,158.5 379.8,157.1 380.3,155.8 380.8,154.5 381.3,153.2 381.8,152.1 382.4,150.9 382.9,149.8 383.5,148.7 384.1,147.7 384.7,146.6 385.4,145.6 386,144.7 386.7,143.7 387.4,142.8 388.1,141.9 388.9,141 389.6,140.1 390.4,139.3 391.2,138.4 392,137.6 392.8,136.8 393.6,136 394.5,135.2 395.3,134.5 396.2,133.7 397.1,133 398,132.2 399,131.5 399.9,130.8 400.9,130.1 401.8,129.4 402.8,128.7 403.8,128 404.8,127.3 405.8,126.7 406.9,126 407.9,125.4 409,124.7 410.1,124.1 411.2,123.5 412.3,122.8 413.4,122.2 414.5,121.6 415.7,121 416.8,120.4 418,119.8 419.2,119.2 420.4,118.7 421.6,118.1" fill="none" stroke="#262c60" stroke-width="1.2" stroke-linejoin="round"/>
<rect x="332" y="117" width="89.6" height="71.6" fill="none" stroke="#6e6e6e" stroke-width="1"/>
<ellipse cx="395.3" cy="136" rx="1.9" ry="2.3" fill="none" stroke="#e04848" stroke-width="0.7"/>
<line x1="394.8" y1="133" x2="388.3" y2="133" stroke="#e04848" stroke-width="0.8"/>
<path d="M387.8 133 l2 -1.2 l0 2.4z" fill="#e04848"/>
<ellipse cx="397.9" cy="162.5" rx="1.5" ry="2.0" fill="#fff" stroke="#444" stroke-width="0.7"/>
<line x1="397.9" y1="165.1" x2="402.9" y2="165.1" stroke="#333" stroke-width="0.7"/>
<path d="M403.7 165.1 l-2 -1.1 l0 2.2z" fill="#333"/>
<text x="335" y="177.7" font-size="6.9" text-anchor="start" font-weight="bold" fill="#1e1e1e" font-family="Liberation Sans" transform="matrix(1 0 0 1.1 0 -17.5)">Fractional</text>
<text x="334.3" y="185.8" font-size="6.9" text-anchor="start" font-weight="bold" fill="#1e1e1e" font-family="Liberation Sans" transform="matrix(1 0 0 1.1 0 -18.3)">order: 0.3</text>
<line x1="429.7" y1="188.6" x2="429.7" y2="186.8" stroke="#6e6e6e" stroke-width="0.6"/>
<line x1="429.7" y1="117" x2="429.7" y2="118.8" stroke="#6e6e6e" stroke-width="0.6"/>
<line x1="442.6" y1="188.6" x2="442.6" y2="186.8" stroke="#6e6e6e" stroke-width="0.6"/>
<line x1="442.6" y1="117" x2="442.6" y2="118.8" stroke="#6e6e6e" stroke-width="0.6"/>
<line x1="455.6" y1="188.6" x2="455.6" y2="186.8" stroke="#6e6e6e" stroke-width="0.6"/>
<line x1="455.6" y1="117" x2="455.6" y2="118.8" stroke="#6e6e6e" stroke-width="0.6"/>
<line x1="468.5" y1="188.6" x2="468.5" y2="186.8" stroke="#6e6e6e" stroke-width="0.6"/>
<line x1="468.5" y1="117" x2="468.5" y2="118.8" stroke="#6e6e6e" stroke-width="0.6"/>
<line x1="481.4" y1="188.6" x2="481.4" y2="186.8" stroke="#6e6e6e" stroke-width="0.6"/>
<line x1="481.4" y1="117" x2="481.4" y2="118.8" stroke="#6e6e6e" stroke-width="0.6"/>
<line x1="494.4" y1="188.6" x2="494.4" y2="186.8" stroke="#6e6e6e" stroke-width="0.6"/>
<line x1="494.4" y1="117" x2="494.4" y2="118.8" stroke="#6e6e6e" stroke-width="0.6"/>
<line x1="507.3" y1="188.6" x2="507.3" y2="186.8" stroke="#6e6e6e" stroke-width="0.6"/>
<line x1="507.3" y1="117" x2="507.3" y2="118.8" stroke="#6e6e6e" stroke-width="0.6"/>
<line x1="424" y1="131.3" x2="425.8" y2="131.3" stroke="#6e6e6e" stroke-width="0.6"/>
<line x1="513" y1="131.3" x2="511.2" y2="131.3" stroke="#6e6e6e" stroke-width="0.6"/>
<line x1="424" y1="145.6" x2="425.8" y2="145.6" stroke="#6e6e6e" stroke-width="0.6"/>
<line x1="513" y1="145.6" x2="511.2" y2="145.6" stroke="#6e6e6e" stroke-width="0.6"/>
<line x1="424" y1="160" x2="425.8" y2="160" stroke="#6e6e6e" stroke-width="0.6"/>
<line x1="513" y1="160" x2="511.2" y2="160" stroke="#6e6e6e" stroke-width="0.6"/>
<line x1="424" y1="174.3" x2="425.8" y2="174.3" stroke="#6e6e6e" stroke-width="0.6"/>
<line x1="513" y1="174.3" x2="511.2" y2="174.3" stroke="#6e6e6e" stroke-width="0.6"/>
<polyline points="424,128.6 468.5,128.6 468.5,188.6" fill="none" stroke="#3a3a3a" stroke-width="1" stroke-linejoin="round"/>
<polyline points="468.5,188.6 468.5,177 513,177" fill="none" stroke="#3a3a3a" stroke-width="1" stroke-linejoin="round"/>
<polyline points="424,161.6 424.9,159 425.8,156.6 426.7,154.4 427.6,152.3 428.4,150.4 429.3,148.7 430.2,147.1 431.1,145.7 432,144.4 432.9,143.3 433.8,142.4 434.7,141.6 435.6,141 436.5,140.6 437.4,140.3 438.2,140.2 439.1,140.3 440,140.5 440.9,140.9 441.8,141.5 442.7,142.2 443.6,143.1 444.5,144.2 445.4,145.4 446.2,146.7 447.1,147.9 448,149.2 448.9,150.4 449.8,151.7 450.7,153.1 451.6,154.4 452.5,155.7 453.4,157.1 454.3,158.5 455.1,159.9 456,161.4 456.9,162.8 457.8,164.3 458.7,165.8 459.6,167.4 460.5,168.9 461.4,170.6 462.3,172.2 463.2,173.9 463.4,174.5 463.7,175 464,175.5 464.2,176.1 464.5,176.6 464.8,177.2 465,177.7 465.3,178.3 465.6,178.8 465.8,179.4 466.1,180 466.4,180.5 466.6,181.1 466.9,181.6 467.2,182.2 467.4,182.7 467.7,183.1 468,183.5 468.2,183.7 468.5,183.8 468.8,183.7 469,183.5 469.3,183.1 469.6,182.7 469.8,182.2 470.1,181.6 470.4,181.1 470.6,180.5 470.9,180 471.2,179.4 471.4,178.8 471.7,178.3 472,177.7 472.2,177.2 472.5,176.6 472.8,176.1 473,175.5 473.3,175 473.6,174.5 473.8,173.9 474.7,172.2 475.6,170.6 476.5,168.9 477.4,167.4 478.3,165.8 479.2,164.3 480.1,162.8 481,161.4 481.9,159.9 482.7,158.5 483.6,157.1 484.5,155.7 485.4,154.4 486.3,153.1 487.2,151.7 488.1,150.4 489,149.2 489.9,147.9 490.8,146.7 491.6,145.4 492.5,144.2 493.4,143.1 494.3,142.2 495.2,141.5 496.1,140.9 497,140.5 497.9,140.3 498.8,140.2 499.6,140.3 500.5,140.6 501.4,141 502.3,141.6 503.2,142.4 504.1,143.3 505,144.4 505.9,145.7 506.8,147.1 507.7,148.7 508.6,150.4 509.4,152.3 510.3,154.4 511.2,156.6 512.1,159 513,161.6" fill="none" stroke="#c8141e" stroke-width="0.7" stroke-linejoin="round" stroke-dasharray="1.5 0.9"/>
<polyline points="424,161.6 424.9,156.3 425.8,151.4 426.7,147.1 427.6,143.3 428.4,140 429.3,137.2 430.2,135 431.1,133.2 432,132 432.9,131.3 433.8,131.1 434.7,131.5 435.6,132.3 436.5,133.5 437.4,134.6 438.2,135.8 439.1,137 440,138.1 440.9,139.3 441.8,140.5 442.7,141.7 443.6,142.9 444.5,144.2 445.4,145.4 446.2,146.7 447.1,147.9 448,149.2 448.9,150.5 449.8,151.8 450.7,153.1 451.6,154.4 452.5,155.8 453.4,157.2 454.3,158.6 455.1,160 456,161.4 456.9,162.9 457.8,164.4 458.7,165.9 459.6,167.5 460.5,169.1 461.4,170.7 462.3,172.4 463.2,174.1 463.4,174.7 463.7,175.2 464,175.8 464.2,176.3 464.5,176.9 464.8,177.5 465,178 465.3,178.6 465.6,179.2 465.8,179.8 466.1,180.5 466.4,181.1 466.6,181.7 466.9,182.4 467.2,183 467.4,183.7 467.7,184.3 468,184.9 468.2,185.3 468.5,185.5 468.8,185.3 469,184.9 469.3,184.3 469.6,183.7 469.8,183 470.1,182.4 470.4,181.7 470.6,181.1 470.9,180.5 471.2,179.8 471.4,179.2 471.7,178.6 472,178 472.2,177.5 472.5,176.9 472.8,176.3 473,175.8 473.3,175.2 473.6,174.7 473.8,174.1 474.7,172.4 475.6,170.7 476.5,169.1 477.4,167.5 478.3,165.9 479.2,164.4 480.1,162.9 481,161.4 481.9,160 482.7,158.6 483.6,157.2 484.5,155.8 485.4,154.4 486.3,153.1 487.2,151.8 488.1,150.5 489,149.2 489.9,147.9 490.8,146.7 491.6,145.4 492.5,144.2 493.4,142.9 494.3,141.7 495.2,140.5 496.1,139.3 497,138.1 497.9,137 498.8,135.8 499.6,134.6 500.5,133.5 501.4,132.3 502.3,131.5 503.2,131.1 504.1,131.3 505,132 505.9,133.2 506.8,135 507.7,137.2 508.6,140 509.4,143.3 510.3,147.1 511.2,151.4 512.1,156.3 513,161.6" fill="none" stroke="#e8242a" stroke-width="0.7" stroke-linejoin="round" stroke-dasharray="1.5 0.9"/>
<polyline points="424,161.6 424.9,153.6 425.8,146.6 426.7,140.7 427.6,135.9 428.4,132.1 429.3,129.4 430.2,127.8 431.1,127.3 432,127.8 432.9,128.9 433.8,130.1 434.7,131.2 435.6,132.3 436.5,133.5 437.4,134.6 438.2,135.8 439.1,137 440,138.1 440.9,139.3 441.8,140.5 442.7,141.7 443.6,142.9 444.5,144.2 445.4,145.4 446.2,146.7 447.1,147.9 448,149.2 448.9,150.5 449.8,151.8 450.7,153.1 451.6,154.5 452.5,155.8 453.4,157.2 454.3,158.6 455.1,160 456,161.4 456.9,162.9 457.8,164.4 458.7,165.9 459.6,167.5 460.5,169.1 461.4,170.7 462.3,172.4 463.2,174.2 463.4,174.7 463.7,175.3 464,175.8 464.2,176.4 464.5,176.9 464.8,177.5 465,178.1 465.3,178.7 465.6,179.3 465.8,179.9 466.1,180.6 466.4,181.2 466.6,181.9 466.9,182.6 467.2,183.3 467.4,184 467.7,184.7 468,185.4 468.2,186 468.5,186.2 468.8,186 469,185.4 469.3,184.7 469.6,184 469.8,183.3 470.1,182.6 470.4,181.9 470.6,181.2 470.9,180.6 471.2,179.9 471.4,179.3 471.7,178.7 472,178.1 472.2,177.5 472.5,176.9 472.8,176.4 473,175.8 473.3,175.3 473.6,174.7 473.8,174.2 474.7,172.4 475.6,170.7 476.5,169.1 477.4,167.5 478.3,165.9 479.2,164.4 480.1,162.9 481,161.4 481.9,160 482.7,158.6 483.6,157.2 484.5,155.8 485.4,154.5 486.3,153.1 487.2,151.8 488.1,150.5 489,149.2 489.9,147.9 490.8,146.7 491.6,145.4 492.5,144.2 493.4,142.9 494.3,141.7 495.2,140.5 496.1,139.3 497,138.1 497.9,137 498.8,135.8 499.6,134.6 500.5,133.5 501.4,132.3 502.3,131.2 503.2,130.1 504.1,128.9 505,127.8 505.9,127.3 506.8,127.8 507.7,129.4 508.6,132.1 509.4,135.9 510.3,140.7 511.2,146.6 512.1,153.6 513,161.6" fill="none" stroke="#f0a628" stroke-width="0.7" stroke-linejoin="round" stroke-dasharray="1.5 0.9"/>
<polyline points="424,161.6 424.9,151 425.8,142.2 426.7,135.2 427.6,130.1 428.4,126.8 429.3,125.3 430.2,125.6 431.1,126.7 432,127.8 432.9,128.9 433.8,130.1 434.7,131.2 435.6,132.3 436.5,133.5 437.4,134.6 438.2,135.8 439.1,137 440,138.1 440.9,139.3 441.8,140.5 442.7,141.7 443.6,142.9 444.5,144.2 445.4,145.4 446.2,146.7 447.1,147.9 448,149.2 448.9,150.5 449.8,151.8 450.7,153.1 451.6,154.5 452.5,155.8 453.4,157.2 454.3,158.6 455.1,160 456,161.4 456.9,162.9 457.8,164.4 458.7,165.9 459.6,167.5 460.5,169.1 461.4,170.7 462.3,172.4 463.2,174.2 463.4,174.7 463.7,175.3 464,175.8 464.2,176.4 464.5,177 464.8,177.6 465,178.1 465.3,178.7 465.6,179.4 465.8,180 466.1,180.6 466.4,181.3 466.6,182 466.9,182.7 467.2,183.4 467.4,184.1 467.7,184.9 468,185.6 468.2,186.3 468.5,186.7 468.8,186.3 469,185.6 469.3,184.9 469.6,184.1 469.8,183.4 470.1,182.7 470.4,182 470.6,181.3 470.9,180.6 471.2,180 471.4,179.4 471.7,178.7 472,178.1 472.2,177.6 472.5,177 472.8,176.4 473,175.8 473.3,175.3 473.6,174.7 473.8,174.2 474.7,172.4 475.6,170.7 476.5,169.1 477.4,167.5 478.3,165.9 479.2,164.4 480.1,162.9 481,161.4 481.9,160 482.7,158.6 483.6,157.2 484.5,155.8 485.4,154.5 486.3,153.1 487.2,151.8 488.1,150.5 489,149.2 489.9,147.9 490.8,146.7 491.6,145.4 492.5,144.2 493.4,142.9 494.3,141.7 495.2,140.5 496.1,139.3 497,138.1 497.9,137 498.8,135.8 499.6,134.6 500.5,133.5 501.4,132.3 502.3,131.2 503.2,130.1 504.1,128.9 505,127.8 505.9,126.7 506.8,125.6 507.7,125.3 508.6,126.8 509.4,130.1 510.3,135.2 511.2,142.2 512.1,151 513,161.6" fill="none" stroke="#e8d428" stroke-width="0.7" stroke-linejoin="round"/>
<polyline points="424,161.6 424.9,148.5 425.8,138.2 426.7,130.6 427.6,125.9 428.4,123.9 429.3,124.5 430.2,125.6 431.1,126.7 432,127.8 432.9,128.9 433.8,130.1 434.7,131.2 435.6,132.3 436.5,133.5 437.4,134.6 438.2,135.8 439.1,137 440,138.1 440.9,139.3 441.8,140.5 442.7,141.7 443.6,142.9 444.5,144.2 445.4,145.4 446.2,146.7 447.1,147.9 448,149.2 448.9,150.5 449.8,151.8 450.7,153.1 451.6,154.5 452.5,155.8 453.4,157.2 454.3,158.6 455.1,160 456,161.4 456.9,162.9 457.8,164.4 458.7,165.9 459.6,167.5 460.5,169.1 461.4,170.7 462.3,172.4 463.2,174.2 463.4,174.7 463.7,175.3 464,175.9 464.2,176.4 464.5,177 464.8,177.6 465,178.2 465.3,178.8 465.6,179.4 465.8,180 466.1,180.7 466.4,181.3 466.6,182 466.9,182.7 467.2,183.4 467.4,184.2 467.7,185 468,185.8 468.2,186.5 468.5,187 468.8,186.5 469,185.8 469.3,185 469.6,184.2 469.8,183.4 470.1,182.7 470.4,182 470.6,181.3 470.9,180.7 471.2,180 471.4,179.4 471.7,178.8 472,178.2 472.2,177.6 472.5,177 472.8,176.4 473,175.9 473.3,175.3 473.6,174.7 473.8,174.2 474.7,172.4 475.6,170.7 476.5,169.1 477.4,167.5 478.3,165.9 479.2,164.4 480.1,162.9 481,161.4 481.9,160 482.7,158.6 483.6,157.2 484.5,155.8 485.4,154.5 486.3,153.1 487.2,151.8 488.1,150.5 489,149.2 489.9,147.9 490.8,146.7 491.6,145.4 492.5,144.2 493.4,142.9 494.3,141.7 495.2,140.5 496.1,139.3 497,138.1 497.9,137 498.8,135.8 499.6,134.6 500.5,133.5 501.4,132.3 502.3,131.2 503.2,130.1 504.1,128.9 505,127.8 505.9,126.7 506.8,125.6 507.7,124.5 508.6,123.9 509.4,125.9 510.3,130.6 511.2,138.2 512.1,148.5 513,161.6" fill="none" stroke="#a8c850" stroke-width="0.7" stroke-linejoin="round"/>
<polyline points="424,161.6 424.9,146.1 425.8,134.6 426.7,127 427.6,123.3 428.4,123.4 429.3,124.5 430.2,125.6 431.1,126.7 432,127.8 432.9,128.9 433.8,130.1 434.7,131.2 435.6,132.3 436.5,133.5 437.4,134.6 438.2,135.8 439.1,137 440,138.1 440.9,139.3 441.8,140.5 442.7,141.7 443.6,142.9 444.5,144.2 445.4,145.4 446.2,146.7 447.1,147.9 448,149.2 448.9,150.5 449.8,151.8 450.7,153.1 451.6,154.5 452.5,155.8 453.4,157.2 454.3,158.6 455.1,160 456,161.4 456.9,162.9 457.8,164.4 458.7,165.9 459.6,167.5 460.5,169.1 461.4,170.7 462.3,172.4 463.2,174.2 463.4,174.8 463.7,175.3 464,175.9 464.2,176.4 464.5,177 464.8,177.6 465,178.2 465.3,178.8 465.6,179.4 465.8,180 466.1,180.7 466.4,181.3 466.6,182 466.9,182.7 467.2,183.5 467.4,184.2 467.7,185 468,185.8 468.2,186.7 468.5,187.2 468.8,186.7 469,185.8 469.3,185 469.6,184.2 469.8,183.5 470.1,182.7 470.4,182 470.6,181.3 470.9,180.7 471.2,180 471.4,179.4 471.7,178.8 472,178.2 472.2,177.6 472.5,177 472.8,176.4 473,175.9 473.3,175.3 473.6,174.8 473.8,174.2 474.7,172.4 475.6,170.7 476.5,169.1 477.4,167.5 478.3,165.9 479.2,164.4 480.1,162.9 481,161.4 481.9,160 482.7,158.6 483.6,157.2 484.5,155.8 485.4,154.5 486.3,153.1 487.2,151.8 488.1,150.5 489,149.2 489.9,147.9 490.8,146.7 491.6,145.4 492.5,144.2 493.4,142.9 494.3,141.7 495.2,140.5 496.1,139.3 497,138.1 497.9,137 498.8,135.8 499.6,134.6 500.5,133.5 501.4,132.3 502.3,131.2 503.2,130.1 504.1,128.9 505,127.8 505.9,126.7 506.8,125.6 507.7,124.5 508.6,123.4 509.4,123.3 510.3,127 511.2,134.6 512.1,146.1 513,161.6" fill="none" stroke="#22985a" stroke-width="0.7" stroke-linejoin="round"/>
<polyline points="424,161.6 424.9,143.8 425.8,131.4 426.7,124.2 427.6,122.4 428.4,123.4 429.3,124.5 430.2,125.6 431.1,126.7 432,127.8 432.9,128.9 433.8,130.1 434.7,131.2 435.6,132.3 436.5,133.5 437.4,134.6 438.2,135.8 439.1,137 440,138.1 440.9,139.3 441.8,140.5 442.7,141.7 443.6,142.9 444.5,144.2 445.4,145.4 446.2,146.7 447.1,147.9 448,149.2 448.9,150.5 449.8,151.8 450.7,153.1 451.6,154.5 452.5,155.8 453.4,157.2 454.3,158.6 455.1,160 456,161.5 456.9,162.9 457.8,164.4 458.7,165.9 459.6,167.5 460.5,169.1 461.4,170.8 462.3,172.5 463.2,174.2 463.4,174.8 463.7,175.3 464,175.9 464.2,176.4 464.5,177 464.8,177.6 465,178.2 465.3,178.8 465.6,179.4 465.8,180 466.1,180.7 466.4,181.3 466.6,182 466.9,182.7 467.2,183.5 467.4,184.2 467.7,185 468,185.9 468.2,186.8 468.5,187.3 468.8,186.8 469,185.9 469.3,185 469.6,184.2 469.8,183.5 470.1,182.7 470.4,182 470.6,181.3 470.9,180.7 471.2,180 471.4,179.4 471.7,178.8 472,178.2 472.2,177.6 472.5,177 472.8,176.4 473,175.9 473.3,175.3 473.6,174.8 473.8,174.2 474.7,172.5 475.6,170.8 476.5,169.1 477.4,167.5 478.3,165.9 479.2,164.4 480.1,162.9 481,161.5 481.9,160 482.7,158.6 483.6,157.2 484.5,155.8 485.4,154.5 486.3,153.1 487.2,151.8 488.1,150.5 489,149.2 489.9,147.9 490.8,146.7 491.6,145.4 492.5,144.2 493.4,142.9 494.3,141.7 495.2,140.5 496.1,139.3 497,138.1 497.9,137 498.8,135.8 499.6,134.6 500.5,133.5 501.4,132.3 502.3,131.2 503.2,130.1 504.1,128.9 505,127.8 505.9,126.7 506.8,125.6 507.7,124.5 508.6,123.4 509.4,122.4 510.3,124.2 511.2,131.4 512.1,143.8 513,161.6" fill="none" stroke="#30a8dc" stroke-width="0.9" stroke-linejoin="round"/>
<polyline points="424,161.6 424.9,141.7 425.8,128.6 426.7,122.4 427.6,122.3 428.4,123.4 429.3,124.5 430.2,125.6 431.1,126.7 432,127.8 432.9,128.9 433.8,130.1 434.7,131.2 435.6,132.3 436.5,133.5 437.4,134.6 438.2,135.8 439.1,137 440,138.1 440.9,139.3 441.8,140.5 442.7,141.7 443.6,142.9 444.5,144.2 445.4,145.4 446.2,146.7 447.1,147.9 448,149.2 448.9,150.5 449.8,151.8 450.7,153.1 451.6,154.5 452.5,155.8 453.4,157.2 454.3,158.6 455.1,160 456,161.5 456.9,162.9 457.8,164.4 458.7,165.9 459.6,167.5 460.5,169.1 461.4,170.8 462.3,172.5 463.2,174.2 463.4,174.8 463.7,175.3 464,175.9 464.2,176.4 464.5,177 464.8,177.6 465,178.2 465.3,178.8 465.6,179.4 465.8,180 466.1,180.7 466.4,181.3 466.6,182 466.9,182.7 467.2,183.5 467.4,184.2 467.7,185.1 468,185.9 468.2,186.8 468.5,187.4 468.8,186.8 469,185.9 469.3,185.1 469.6,184.2 469.8,183.5 470.1,182.7 470.4,182 470.6,181.3 470.9,180.7 471.2,180 471.4,179.4 471.7,178.8 472,178.2 472.2,177.6 472.5,177 472.8,176.4 473,175.9 473.3,175.3 473.6,174.8 473.8,174.2 474.7,172.5 475.6,170.8 476.5,169.1 477.4,167.5 478.3,165.9 479.2,164.4 480.1,162.9 481,161.5 481.9,160 482.7,158.6 483.6,157.2 484.5,155.8 485.4,154.5 486.3,153.1 487.2,151.8 488.1,150.5 489,149.2 489.9,147.9 490.8,146.7 491.6,145.4 492.5,144.2 493.4,142.9 494.3,141.7 495.2,140.5 496.1,139.3 497,138.1 497.9,137 498.8,135.8 499.6,134.6 500.5,133.5 501.4,132.3 502.3,131.2 503.2,130.1 504.1,128.9 505,127.8 505.9,126.7 506.8,125.6 507.7,124.5 508.6,123.4 509.4,122.3 510.3,122.4 511.2,128.6 512.1,141.7 513,161.6" fill="none" stroke="#2e6eb4" stroke-width="0.9" stroke-linejoin="round"/>
<polyline points="424,161.6 424.9,139.6 425.8,126.2 426.7,121.4 427.6,122.3 428.4,123.4 429.3,124.5 430.2,125.6 431.1,126.7 432,127.8 432.9,128.9 433.8,130.1 434.7,131.2 435.6,132.3 436.5,133.5 437.4,134.6 438.2,135.8 439.1,137 440,138.1 440.9,139.3 441.8,140.5 442.7,141.7 443.6,142.9 444.5,144.2 445.4,145.4 446.2,146.7 447.1,147.9 448,149.2 448.9,150.5 449.8,151.8 450.7,153.1 451.6,154.5 452.5,155.8 453.4,157.2 454.3,158.6 455.1,160 456,161.5 456.9,162.9 457.8,164.4 458.7,165.9 459.6,167.5 460.5,169.1 461.4,170.8 462.3,172.5 463.2,174.2 463.4,174.8 463.7,175.3 464,175.9 464.2,176.4 464.5,177 464.8,177.6 465,178.2 465.3,178.8 465.6,179.4 465.8,180 466.1,180.7 466.4,181.4 466.6,182 466.9,182.7 467.2,183.5 467.4,184.3 467.7,185.1 468,186 468.2,186.9 468.5,187.5 468.8,186.9 469,186 469.3,185.1 469.6,184.3 469.8,183.5 470.1,182.7 470.4,182 470.6,181.4 470.9,180.7 471.2,180 471.4,179.4 471.7,178.8 472,178.2 472.2,177.6 472.5,177 472.8,176.4 473,175.9 473.3,175.3 473.6,174.8 473.8,174.2 474.7,172.5 475.6,170.8 476.5,169.1 477.4,167.5 478.3,165.9 479.2,164.4 480.1,162.9 481,161.5 481.9,160 482.7,158.6 483.6,157.2 484.5,155.8 485.4,154.5 486.3,153.1 487.2,151.8 488.1,150.5 489,149.2 489.9,147.9 490.8,146.7 491.6,145.4 492.5,144.2 493.4,142.9 494.3,141.7 495.2,140.5 496.1,139.3 497,138.1 497.9,137 498.8,135.8 499.6,134.6 500.5,133.5 501.4,132.3 502.3,131.2 503.2,130.1 504.1,128.9 505,127.8 505.9,126.7 506.8,125.6 507.7,124.5 508.6,123.4 509.4,122.3 510.3,121.4 511.2,126.2 512.1,139.6 513,161.6" fill="none" stroke="#22306a" stroke-width="0.9" stroke-linejoin="round"/>
<polyline points="424,161.6 424.9,137.6 425.8,124.2 426.7,121.3 427.6,122.3 428.4,123.4 429.3,124.5 430.2,125.6 431.1,126.7 432,127.8 432.9,128.9 433.8,130.1 434.7,131.2 435.6,132.3 436.5,133.5 437.4,134.6 438.2,135.8 439.1,137 440,138.1 440.9,139.3 441.8,140.5 442.7,141.7 443.6,142.9 444.5,144.2 445.4,145.4 446.2,146.7 447.1,147.9 448,149.2 448.9,150.5 449.8,151.8 450.7,153.1 451.6,154.5 452.5,155.8 453.4,157.2 454.3,158.6 455.1,160 456,161.5 456.9,162.9 457.8,164.4 458.7,165.9 459.6,167.5 460.5,169.1 461.4,170.8 462.3,172.5 463.2,174.2 463.4,174.8 463.7,175.3 464,175.9 464.2,176.4 464.5,177 464.8,177.6 465,178.2 465.3,178.8 465.6,179.4 465.8,180 466.1,180.7 466.4,181.4 466.6,182 466.9,182.8 467.2,183.5 467.4,184.3 467.7,185.1 468,186 468.2,186.9 468.5,187.6 468.8,186.9 469,186 469.3,185.1 469.6,184.3 469.8,183.5 470.1,182.8 470.4,182 470.6,181.4 470.9,180.7 471.2,180 471.4,179.4 471.7,178.8 472,178.2 472.2,177.6 472.5,177 472.8,176.4 473,175.9 473.3,175.3 473.6,174.8 473.8,174.2 474.7,172.5 475.6,170.8 476.5,169.1 477.4,167.5 478.3,165.9 479.2,164.4 480.1,162.9 481,161.5 481.9,160 482.7,158.6 483.6,157.2 484.5,155.8 485.4,154.5 486.3,153.1 487.2,151.8 488.1,150.5 489,149.2 489.9,147.9 490.8,146.7 491.6,145.4 492.5,144.2 493.4,142.9 494.3,141.7 495.2,140.5 496.1,139.3 497,138.1 497.9,137 498.8,135.8 499.6,134.6 500.5,133.5 501.4,132.3 502.3,131.2 503.2,130.1 504.1,128.9 505,127.8 505.9,126.7 506.8,125.6 507.7,124.5 508.6,123.4 509.4,122.3 510.3,121.3 511.2,124.2 512.1,137.6 513,161.6" fill="none" stroke="#7030a0" stroke-width="0.9" stroke-linejoin="round"/>
<polyline points="424,118.1 425.2,119.5 426.4,120.9 427.6,122.4 428.7,123.8 429.9,125.2 431,126.6 432.1,128 433.3,129.4 434.4,130.8 435.4,132.2 436.5,133.5 437.6,134.9 438.6,136.3 439.7,137.6 440.7,139 441.7,140.4 442.7,141.7 443.6,143 444.6,144.4 445.6,145.7 446.5,147 447.4,148.3 448.3,149.6 449.2,150.9 450.1,152.2 450.9,153.5 451.8,154.8 452.6,156 453.4,157.3 454.2,158.5 455,159.8 455.8,161 456.5,162.2 457.2,163.4 457.9,164.6 458.6,165.8 459.3,167 460,168.2 460.6,169.3 461.2,170.5 461.8,171.6 462.4,172.8 463,173.9 463.5,175 464,176 464.5,177.1 465,178.2 465.5,179.2 465.9,180.2 466.3,181.2 466.7,182.2 467,183.1 467.4,184.1 467.6,185 467.9,185.8 468.1,186.6 468.3,187.4 468.4,188.1 468.5,188.6 468.6,188.1 468.7,187.4 468.9,186.6 469.1,185.8 469.4,185 469.6,184.1 470,183.1 470.3,182.2 470.7,181.2 471.1,180.2 471.5,179.2 472,178.2 472.5,177.1 473,176 473.5,175 474,173.9 474.6,172.8 475.2,171.6 475.8,170.5 476.4,169.3 477,168.2 477.7,167 478.4,165.8 479.1,164.6 479.8,163.4 480.5,162.2 481.2,161 482,159.8 482.8,158.5 483.6,157.3 484.4,156 485.2,154.8 486.1,153.5 486.9,152.2 487.8,150.9 488.7,149.6 489.6,148.3 490.5,147 491.4,145.7 492.4,144.4 493.4,143 494.3,141.7 495.3,140.4 496.3,139 497.3,137.6 498.4,136.3 499.4,134.9 500.5,133.5 501.6,132.2 502.6,130.8 503.7,129.4 504.9,128 506,126.6 507.1,125.2 508.3,123.8 509.4,122.4 510.6,120.9 511.8,119.5 513,118.1" fill="none" stroke="#262c60" stroke-width="1.2" stroke-linejoin="round"/>
<rect x="424" y="117" width="89" height="71.6" fill="none" stroke="#6e6e6e" stroke-width="1"/>
<ellipse cx="481.7" cy="161.8" rx="1.9" ry="2.3" fill="none" stroke="#e04848" stroke-width="0.7"/>
<line x1="481.2" y1="158.8" x2="474.7" y2="158.8" stroke="#e04848" stroke-width="0.8"/>
<path d="M474.2 158.8 l2 -1.2 l0 2.4z" fill="#e04848"/>
<ellipse cx="495.4" cy="177" rx="1.5" ry="2.0" fill="#fff" stroke="#444" stroke-width="0.7"/>
<line x1="495.4" y1="179.6" x2="500.4" y2="179.6" stroke="#333" stroke-width="0.7"/>
<path d="M501.2 179.6 l-2 -1.1 l0 2.2z" fill="#333"/>
<text x="427" y="177.7" font-size="6.9" text-anchor="start" font-weight="bold" fill="#1e1e1e" font-family="Liberation Sans" transform="matrix(1 0 0 1.1 0 -17.5)">Fractional</text>
<text x="426.3" y="185.8" font-size="6.9" text-anchor="start" font-weight="bold" fill="#1e1e1e" font-family="Liberation Sans" transform="matrix(1 0 0 1.1 0 -18.3)">order: 0.75</text>
<text x="322.8" y="198.4" font-size="6.6" text-anchor="end" font-weight="bold" fill="#333" font-family="Liberation Sans" transform="matrix(1 0 0 1.1 0 -19.6)">1</text>
<text x="322.8" y="212" font-size="6.6" text-anchor="end" font-weight="bold" fill="#333" font-family="Liberation Sans" transform="matrix(1 0 0 1.1 0 -21)">0.8</text>
<text x="322.8" y="225.6" font-size="6.6" text-anchor="end" font-weight="bold" fill="#333" font-family="Liberation Sans" transform="matrix(1 0 0 1.1 0 -22.3)">0.6</text>
<text x="322.8" y="239.2" font-size="6.6" text-anchor="end" font-weight="bold" fill="#333" font-family="Liberation Sans" transform="matrix(1 0 0 1.1 0 -23.7)">0.4</text>
<text x="322.8" y="252.8" font-size="6.6" text-anchor="end" font-weight="bold" fill="#333" font-family="Liberation Sans" transform="matrix(1 0 0 1.1 0 -25)">0.2</text>
<text x="322.8" y="266.4" font-size="6.6" text-anchor="end" font-weight="bold" fill="#333" font-family="Liberation Sans" transform="matrix(1 0 0 1.1 0 -26.4)">0</text>
<text x="303" y="230.1" font-size="8.5" text-anchor="middle" font-weight="bold" fill="#1e1e1e" font-family="Liberation Sans" transform="rotate(-90 303 227)" stroke="#1e1e1e" stroke-width="0.2">Amplitude (a.u.)</text>
<text x="529.3" y="202" font-size="6.4" text-anchor="middle" font-weight="bold" fill="#3a3a3a" font-family="Liberation Sans" transform="matrix(1 0 0 1.1 0 -20)">80</text>
<text x="529.3" y="216" font-size="6.4" text-anchor="middle" font-weight="bold" fill="#3a3a3a" font-family="Liberation Sans" transform="matrix(1 0 0 1.1 0 -21.4)">40</text>
<text x="529.3" y="230" font-size="6.4" text-anchor="middle" font-weight="bold" fill="#3a3a3a" font-family="Liberation Sans" transform="matrix(1 0 0 1.1 0 -22.8)">0</text>
<text x="529.3" y="244" font-size="6.4" text-anchor="middle" font-weight="bold" fill="#3a3a3a" font-family="Liberation Sans" transform="matrix(1 0 0 1.1 0 -24.2)">-40</text>
<text x="529.3" y="258" font-size="6.4" text-anchor="middle" font-weight="bold" fill="#3a3a3a" font-family="Liberation Sans" transform="matrix(1 0 0 1.1 0 -25.6)">-80</text>
<text x="539.5" y="231.6" font-size="8.7" text-anchor="middle" font-weight="bold" fill="#1e1e1e" font-family="Liberation Sans" transform="rotate(90 539.5 228.5)" stroke="#1e1e1e" stroke-width="0.2">Phase (degree)</text>
<line x1="337.7" y1="264" x2="337.7" y2="262.2" stroke="#6e6e6e" stroke-width="0.6"/>
<line x1="337.7" y1="192.5" x2="337.7" y2="194.3" stroke="#6e6e6e" stroke-width="0.6"/>
<line x1="350.8" y1="264" x2="350.8" y2="262.2" stroke="#6e6e6e" stroke-width="0.6"/>
<line x1="350.8" y1="192.5" x2="350.8" y2="194.3" stroke="#6e6e6e" stroke-width="0.6"/>
<line x1="363.8" y1="264" x2="363.8" y2="262.2" stroke="#6e6e6e" stroke-width="0.6"/>
<line x1="363.8" y1="192.5" x2="363.8" y2="194.3" stroke="#6e6e6e" stroke-width="0.6"/>
<line x1="376.8" y1="264" x2="376.8" y2="262.2" stroke="#6e6e6e" stroke-width="0.6"/>
<line x1="376.8" y1="192.5" x2="376.8" y2="194.3" stroke="#6e6e6e" stroke-width="0.6"/>
<line x1="389.8" y1="264" x2="389.8" y2="262.2" stroke="#6e6e6e" stroke-width="0.6"/>
<line x1="389.8" y1="192.5" x2="389.8" y2="194.3" stroke="#6e6e6e" stroke-width="0.6"/>
<line x1="402.8" y1="264" x2="402.8" y2="262.2" stroke="#6e6e6e" stroke-width="0.6"/>
<line x1="402.8" y1="192.5" x2="402.8" y2="194.3" stroke="#6e6e6e" stroke-width="0.6"/>
<line x1="415.9" y1="264" x2="415.9" y2="262.2" stroke="#6e6e6e" stroke-width="0.6"/>
<line x1="415.9" y1="192.5" x2="415.9" y2="194.3" stroke="#6e6e6e" stroke-width="0.6"/>
<line x1="332" y1="206.8" x2="333.8" y2="206.8" stroke="#6e6e6e" stroke-width="0.6"/>
<line x1="421.6" y1="206.8" x2="419.8" y2="206.8" stroke="#6e6e6e" stroke-width="0.6"/>
<line x1="332" y1="221.1" x2="333.8" y2="221.1" stroke="#6e6e6e" stroke-width="0.6"/>
<line x1="421.6" y1="221.1" x2="419.8" y2="221.1" stroke="#6e6e6e" stroke-width="0.6"/>
<line x1="332" y1="235.4" x2="333.8" y2="235.4" stroke="#6e6e6e" stroke-width="0.6"/>
<line x1="421.6" y1="235.4" x2="419.8" y2="235.4" stroke="#6e6e6e" stroke-width="0.6"/>
<line x1="332" y1="249.7" x2="333.8" y2="249.7" stroke="#6e6e6e" stroke-width="0.6"/>
<line x1="421.6" y1="249.7" x2="419.8" y2="249.7" stroke="#6e6e6e" stroke-width="0.6"/>
<polyline points="332,213.8 376.8,213.8 376.8,264" fill="none" stroke="#3a3a3a" stroke-width="1" stroke-linejoin="round"/>
<polyline points="376.8,264 376.8,242.7 421.6,242.7" fill="none" stroke="#3a3a3a" stroke-width="1" stroke-linejoin="round"/>
<polyline points="332,210.4 332.9,209.7 333.8,209 334.7,208.3 335.6,207.8 336.5,207.3 337.4,206.9 338.3,206.5 339.2,206.2 340.1,206 341,205.9 341.9,205.8 342.8,205.8 343.6,205.9 344.5,206 345.4,206.2 346.3,206.5 347.2,206.9 348.1,207.3 349,207.8 349.9,208.4 350.8,209.1 351.7,209.8 352.6,210.6 353.5,211.5 354.4,212.4 355.3,213.2 356.2,214.1 357.1,215.1 358,216.1 358.9,217.1 359.8,218.1 360.7,219.2 361.6,220.3 362.5,221.5 363.4,222.6 364.3,223.8 365.2,225.1 366,226.4 366.9,227.7 367.8,229.1 368.7,230.6 369.6,232.1 370.5,233.7 371.4,235.3 371.7,235.8 372,236.3 372.2,236.8 372.5,237.4 372.8,237.9 373,238.4 373.3,238.9 373.6,239.4 373.8,239.9 374.1,240.4 374.4,240.9 374.6,241.4 374.9,241.8 375.2,242.3 375.5,242.6 375.7,242.9 376,243.2 376.3,243.4 376.5,243.5 376.8,243.6 377.1,243.5 377.3,243.4 377.6,243.2 377.9,242.9 378.1,242.6 378.4,242.3 378.7,241.8 379,241.4 379.2,240.9 379.5,240.4 379.8,239.9 380,239.4 380.3,238.9 380.6,238.4 380.8,237.9 381.1,237.4 381.4,236.8 381.6,236.3 381.9,235.8 382.2,235.3 383.1,233.7 384,232.1 384.9,230.6 385.8,229.1 386.7,227.7 387.6,226.4 388.4,225.1 389.3,223.8 390.2,222.6 391.1,221.5 392,220.3 392.9,219.2 393.8,218.1 394.7,217.1 395.6,216.1 396.5,215.1 397.4,214.1 398.3,213.2 399.2,212.4 400.1,211.5 401,210.6 401.9,209.8 402.8,209.1 403.7,208.4 404.6,207.8 405.5,207.3 406.4,206.9 407.3,206.5 408.2,206.2 409.1,206 410,205.9 410.8,205.8 411.7,205.8 412.6,205.9 413.5,206 414.4,206.2 415.3,206.5 416.2,206.9 417.1,207.3 418,207.8 418.9,208.3 419.8,209 420.7,209.7 421.6,210.4" fill="none" stroke="#c8141e" stroke-width="0.7" stroke-linejoin="round" stroke-dasharray="1.5 0.9"/>
<polyline points="332,210.4 332.9,208.6 333.8,207 334.7,205.5 335.6,204.3 336.5,203.3 337.4,202.4 338.3,201.8 339.2,201.4 340.1,201.2 341,201.2 341.9,201.4 342.8,201.9 343.6,202.5 344.5,203.3 345.4,204 346.3,204.8 347.2,205.6 348.1,206.4 349,207.2 349.9,208 350.8,208.9 351.7,209.7 352.6,210.6 353.5,211.5 354.4,212.4 355.3,213.3 356.2,214.3 357.1,215.3 358,216.3 358.9,217.3 359.8,218.3 360.7,219.4 361.6,220.6 362.5,221.7 363.4,222.9 364.3,224.1 365.2,225.4 366,226.8 366.9,228.2 367.8,229.6 368.7,231.2 369.6,232.8 370.5,234.5 371.4,236.4 371.7,236.9 372,237.5 372.2,238.1 372.5,238.7 372.8,239.4 373,240 373.3,240.7 373.6,241.4 373.8,242 374.1,242.8 374.4,243.5 374.6,244.2 374.9,244.9 375.2,245.6 375.5,246.3 375.7,246.9 376,247.5 376.3,247.9 376.5,248.2 376.8,248.3 377.1,248.2 377.3,247.9 377.6,247.5 377.9,246.9 378.1,246.3 378.4,245.6 378.7,244.9 379,244.2 379.2,243.5 379.5,242.8 379.8,242 380,241.4 380.3,240.7 380.6,240 380.8,239.4 381.1,238.7 381.4,238.1 381.6,237.5 381.9,236.9 382.2,236.4 383.1,234.5 384,232.8 384.9,231.2 385.8,229.6 386.7,228.2 387.6,226.8 388.4,225.4 389.3,224.1 390.2,222.9 391.1,221.7 392,220.6 392.9,219.4 393.8,218.3 394.7,217.3 395.6,216.3 396.5,215.3 397.4,214.3 398.3,213.3 399.2,212.4 400.1,211.5 401,210.6 401.9,209.7 402.8,208.9 403.7,208 404.6,207.2 405.5,206.4 406.4,205.6 407.3,204.8 408.2,204 409.1,203.3 410,202.5 410.8,201.9 411.7,201.4 412.6,201.2 413.5,201.2 414.4,201.4 415.3,201.8 416.2,202.4 417.1,203.3 418,204.3 418.9,205.5 419.8,207 420.7,208.6 421.6,210.4" fill="none" stroke="#e8242a" stroke-width="0.7" stroke-linejoin="round" stroke-dasharray="1.5 0.9"/>
<polyline points="332,210.4 332.9,207.6 333.8,205.1 334.7,203 335.6,201.4 336.5,200.2 337.4,199.4 338.3,199.1 339.2,199.1 340.1,199.6 341,200.3 341.9,201 342.8,201.8 343.6,202.5 344.5,203.3 345.4,204 346.3,204.8 347.2,205.6 348.1,206.4 349,207.2 349.9,208 350.8,208.9 351.7,209.7 352.6,210.6 353.5,211.5 354.4,212.4 355.3,213.4 356.2,214.3 357.1,215.3 358,216.3 358.9,217.3 359.8,218.4 360.7,219.5 361.6,220.6 362.5,221.8 363.4,223 364.3,224.2 365.2,225.5 366,226.9 366.9,228.3 367.8,229.7 368.7,231.3 369.6,233 370.5,234.7 371.4,236.6 371.7,237.2 372,237.8 372.2,238.5 372.5,239.1 372.8,239.8 373,240.5 373.3,241.2 373.6,241.9 373.8,242.7 374.1,243.4 374.4,244.2 374.6,245.1 374.9,245.9 375.2,246.8 375.5,247.7 375.7,248.5 376,249.4 376.3,250 376.5,250.5 376.8,250.7 377.1,250.5 377.3,250 377.6,249.4 377.9,248.5 378.1,247.7 378.4,246.8 378.7,245.9 379,245.1 379.2,244.2 379.5,243.4 379.8,242.7 380,241.9 380.3,241.2 380.6,240.5 380.8,239.8 381.1,239.1 381.4,238.5 381.6,237.8 381.9,237.2 382.2,236.6 383.1,234.7 384,233 384.9,231.3 385.8,229.7 386.7,228.3 387.6,226.9 388.4,225.5 389.3,224.2 390.2,223 391.1,221.8 392,220.6 392.9,219.5 393.8,218.4 394.7,217.3 395.6,216.3 396.5,215.3 397.4,214.3 398.3,213.4 399.2,212.4 400.1,211.5 401,210.6 401.9,209.7 402.8,208.9 403.7,208 404.6,207.2 405.5,206.4 406.4,205.6 407.3,204.8 408.2,204 409.1,203.3 410,202.5 410.8,201.8 411.7,201 412.6,200.3 413.5,199.6 414.4,199.1 415.3,199.1 416.2,199.4 417.1,200.2 418,201.4 418.9,203 419.8,205.1 420.7,207.6 421.6,210.4" fill="none" stroke="#f0a628" stroke-width="0.7" stroke-linejoin="round" stroke-dasharray="1.5 0.9"/>
<polyline points="332,210.4 332.9,206.6 333.8,203.4 334.7,200.9 335.6,199.2 336.5,198.1 337.4,197.8 338.3,198.2 339.2,198.9 340.1,199.6 341,200.3 341.9,201 342.8,201.8 343.6,202.5 344.5,203.3 345.4,204 346.3,204.8 347.2,205.6 348.1,206.4 349,207.2 349.9,208 350.8,208.9 351.7,209.7 352.6,210.6 353.5,211.5 354.4,212.4 355.3,213.4 356.2,214.3 357.1,215.3 358,216.3 358.9,217.3 359.8,218.4 360.7,219.5 361.6,220.6 362.5,221.8 363.4,223 364.3,224.2 365.2,225.5 366,226.9 366.9,228.3 367.8,229.8 368.7,231.4 369.6,233 370.5,234.8 371.4,236.7 371.7,237.3 372,238 372.2,238.6 372.5,239.3 372.8,239.9 373,240.6 373.3,241.4 373.6,242.1 373.8,242.9 374.1,243.7 374.4,244.6 374.6,245.5 374.9,246.4 375.2,247.3 375.5,248.3 375.7,249.4 376,250.4 376.3,251.3 376.5,252 376.8,252.2 377.1,252 377.3,251.3 377.6,250.4 377.9,249.4 378.1,248.3 378.4,247.3 378.7,246.4 379,245.5 379.2,244.6 379.5,243.7 379.8,242.9 380,242.1 380.3,241.4 380.6,240.6 380.8,239.9 381.1,239.3 381.4,238.6 381.6,238 381.9,237.3 382.2,236.7 383.1,234.8 384,233 384.9,231.4 385.8,229.8 386.7,228.3 387.6,226.9 388.4,225.5 389.3,224.2 390.2,223 391.1,221.8 392,220.6 392.9,219.5 393.8,218.4 394.7,217.3 395.6,216.3 396.5,215.3 397.4,214.3 398.3,213.4 399.2,212.4 400.1,211.5 401,210.6 401.9,209.7 402.8,208.9 403.7,208 404.6,207.2 405.5,206.4 406.4,205.6 407.3,204.8 408.2,204 409.1,203.3 410,202.5 410.8,201.8 411.7,201 412.6,200.3 413.5,199.6 414.4,198.9 415.3,198.2 416.2,197.8 417.1,198.1 418,199.2 418.9,200.9 419.8,203.4 420.7,206.6 421.6,210.4" fill="none" stroke="#e8d428" stroke-width="0.7" stroke-linejoin="round"/>
<polyline points="332,210.4 332.9,205.6 333.8,201.8 334.7,199.1 335.6,197.5 336.5,197 337.4,197.5 338.3,198.2 339.2,198.9 340.1,199.6 341,200.3 341.9,201 342.8,201.8 343.6,202.5 344.5,203.3 345.4,204 346.3,204.8 347.2,205.6 348.1,206.4 349,207.2 349.9,208 350.8,208.9 351.7,209.7 352.6,210.6 353.5,211.5 354.4,212.4 355.3,213.4 356.2,214.3 357.1,215.3 358,216.3 358.9,217.4 359.8,218.4 360.7,219.5 361.6,220.6 362.5,221.8 363.4,223 364.3,224.3 365.2,225.6 366,226.9 366.9,228.3 367.8,229.8 368.7,231.4 369.6,233.1 370.5,234.8 371.4,236.8 371.7,237.4 372,238 372.2,238.7 372.5,239.3 372.8,240 373,240.7 373.3,241.5 373.6,242.2 373.8,243 374.1,243.9 374.4,244.7 374.6,245.6 374.9,246.6 375.2,247.6 375.5,248.7 375.7,249.8 376,251 376.3,252.1 376.5,252.9 376.8,253.3 377.1,252.9 377.3,252.1 377.6,251 377.9,249.8 378.1,248.7 378.4,247.6 378.7,246.6 379,245.6 379.2,244.7 379.5,243.9 379.8,243 380,242.2 380.3,241.5 380.6,240.7 380.8,240 381.1,239.3 381.4,238.7 381.6,238 381.9,237.4 382.2,236.8 383.1,234.8 384,233.1 384.9,231.4 385.8,229.8 386.7,228.3 387.6,226.9 388.4,225.6 389.3,224.3 390.2,223 391.1,221.8 392,220.6 392.9,219.5 393.8,218.4 394.7,217.4 395.6,216.3 396.5,215.3 397.4,214.3 398.3,213.4 399.2,212.4 400.1,211.5 401,210.6 401.9,209.7 402.8,208.9 403.7,208 404.6,207.2 405.5,206.4 406.4,205.6 407.3,204.8 408.2,204 409.1,203.3 410,202.5 410.8,201.8 411.7,201 412.6,200.3 413.5,199.6 414.4,198.9 415.3,198.2 416.2,197.5 417.1,197 418,197.5 418.9,199.1 419.8,201.8 420.7,205.6 421.6,210.4" fill="none" stroke="#a8c850" stroke-width="0.7" stroke-linejoin="round"/>
<polyline points="332,210.4 332.9,204.7 333.8,200.4 334.7,197.7 335.6,196.5 336.5,196.8 337.4,197.5 338.3,198.2 339.2,198.9 340.1,199.6 341,200.3 341.9,201 342.8,201.8 343.6,202.5 344.5,203.3 345.4,204 346.3,204.8 347.2,205.6 348.1,206.4 349,207.2 349.9,208 350.8,208.9 351.7,209.7 352.6,210.6 353.5,211.5 354.4,212.4 355.3,213.4 356.2,214.3 357.1,215.3 358,216.3 358.9,217.4 359.8,218.4 360.7,219.5 361.6,220.6 362.5,221.8 363.4,223 364.3,224.3 365.2,225.6 366,226.9 366.9,228.3 367.8,229.8 368.7,231.4 369.6,233.1 370.5,234.9 371.4,236.8 371.7,237.4 372,238 372.2,238.7 372.5,239.4 372.8,240.1 373,240.8 373.3,241.5 373.6,242.3 373.8,243.1 374.1,243.9 374.4,244.8 374.6,245.8 374.9,246.7 375.2,247.8 375.5,248.9 375.7,250.1 376,251.3 376.3,252.6 376.5,253.6 376.8,254.1 377.1,253.6 377.3,252.6 377.6,251.3 377.9,250.1 378.1,248.9 378.4,247.8 378.7,246.7 379,245.8 379.2,244.8 379.5,243.9 379.8,243.1 380,242.3 380.3,241.5 380.6,240.8 380.8,240.1 381.1,239.4 381.4,238.7 381.6,238 381.9,237.4 382.2,236.8 383.1,234.9 384,233.1 384.9,231.4 385.8,229.8 386.7,228.3 387.6,226.9 388.4,225.6 389.3,224.3 390.2,223 391.1,221.8 392,220.6 392.9,219.5 393.8,218.4 394.7,217.4 395.6,216.3 396.5,215.3 397.4,214.3 398.3,213.4 399.2,212.4 400.1,211.5 401,210.6 401.9,209.7 402.8,208.9 403.7,208 404.6,207.2 405.5,206.4 406.4,205.6 407.3,204.8 408.2,204 409.1,203.3 410,202.5 410.8,201.8 411.7,201 412.6,200.3 413.5,199.6 414.4,198.9 415.3,198.2 416.2,197.5 417.1,196.8 418,196.5 418.9,197.7 419.8,200.4 420.7,204.7 421.6,210.4" fill="none" stroke="#22985a" stroke-width="0.7" stroke-linejoin="round"/>
<polyline points="332,210.4 332.9,203.8 333.8,199.2 334.7,196.6 335.6,196.2 336.5,196.8 337.4,197.5 338.3,198.2 339.2,198.9 340.1,199.6 341,200.3 341.9,201 342.8,201.8 343.6,202.5 344.5,203.3 345.4,204 346.3,204.8 347.2,205.6 348.1,206.4 349,207.2 349.9,208 350.8,208.9 351.7,209.7 352.6,210.6 353.5,211.5 354.4,212.4 355.3,213.4 356.2,214.3 357.1,215.3 358,216.3 358.9,217.4 359.8,218.4 360.7,219.5 361.6,220.6 362.5,221.8 363.4,223 364.3,224.3 365.2,225.6 366,226.9 366.9,228.3 367.8,229.8 368.7,231.4 369.6,233.1 370.5,234.9 371.4,236.8 371.7,237.4 372,238.1 372.2,238.7 372.5,239.4 372.8,240.1 373,240.8 373.3,241.6 373.6,242.3 373.8,243.1 374.1,244 374.4,244.9 374.6,245.8 374.9,246.8 375.2,247.9 375.5,249 375.7,250.3 376,251.6 376.3,253 376.5,254.2 376.8,254.7 377.1,254.2 377.3,253 377.6,251.6 377.9,250.3 378.1,249 378.4,247.9 378.7,246.8 379,245.8 379.2,244.9 379.5,244 379.8,243.1 380,242.3 380.3,241.6 380.6,240.8 380.8,240.1 381.1,239.4 381.4,238.7 381.6,238.1 381.9,237.4 382.2,236.8 383.1,234.9 384,233.1 384.9,231.4 385.8,229.8 386.7,228.3 387.6,226.9 388.4,225.6 389.3,224.3 390.2,223 391.1,221.8 392,220.6 392.9,219.5 393.8,218.4 394.7,217.4 395.6,216.3 396.5,215.3 397.4,214.3 398.3,213.4 399.2,212.4 400.1,211.5 401,210.6 401.9,209.7 402.8,208.9 403.7,208 404.6,207.2 405.5,206.4 406.4,205.6 407.3,204.8 408.2,204 409.1,203.3 410,202.5 410.8,201.8 411.7,201 412.6,200.3 413.5,199.6 414.4,198.9 415.3,198.2 416.2,197.5 417.1,196.8 418,196.2 418.9,196.6 419.8,199.2 420.7,203.8 421.6,210.4" fill="none" stroke="#30a8dc" stroke-width="0.9" stroke-linejoin="round"/>
<polyline points="332,210.4 332.9,202.9 333.8,198.1 334.7,195.9 335.6,196.2 336.5,196.8 337.4,197.5 338.3,198.2 339.2,198.9 340.1,199.6 341,200.3 341.9,201 342.8,201.8 343.6,202.5 344.5,203.3 345.4,204 346.3,204.8 347.2,205.6 348.1,206.4 349,207.2 349.9,208 350.8,208.9 351.7,209.7 352.6,210.6 353.5,211.5 354.4,212.4 355.3,213.4 356.2,214.3 357.1,215.3 358,216.3 358.9,217.4 359.8,218.4 360.7,219.5 361.6,220.7 362.5,221.8 363.4,223 364.3,224.3 365.2,225.6 366,226.9 366.9,228.4 367.8,229.8 368.7,231.4 369.6,233.1 370.5,234.9 371.4,236.8 371.7,237.5 372,238.1 372.2,238.7 372.5,239.4 372.8,240.1 373,240.8 373.3,241.6 373.6,242.4 373.8,243.2 374.1,244 374.4,244.9 374.6,245.9 374.9,246.9 375.2,248 375.5,249.1 375.7,250.4 376,251.8 376.3,253.2 376.5,254.6 376.8,255.3 377.1,254.6 377.3,253.2 377.6,251.8 377.9,250.4 378.1,249.1 378.4,248 378.7,246.9 379,245.9 379.2,244.9 379.5,244 379.8,243.2 380,242.4 380.3,241.6 380.6,240.8 380.8,240.1 381.1,239.4 381.4,238.7 381.6,238.1 381.9,237.5 382.2,236.8 383.1,234.9 384,233.1 384.9,231.4 385.8,229.8 386.7,228.4 387.6,226.9 388.4,225.6 389.3,224.3 390.2,223 391.1,221.8 392,220.7 392.9,219.5 393.8,218.4 394.7,217.4 395.6,216.3 396.5,215.3 397.4,214.3 398.3,213.4 399.2,212.4 400.1,211.5 401,210.6 401.9,209.7 402.8,208.9 403.7,208 404.6,207.2 405.5,206.4 406.4,205.6 407.3,204.8 408.2,204 409.1,203.3 410,202.5 410.8,201.8 411.7,201 412.6,200.3 413.5,199.6 414.4,198.9 415.3,198.2 416.2,197.5 417.1,196.8 418,196.2 418.9,195.9 419.8,198.1 420.7,202.9 421.6,210.4" fill="none" stroke="#2e6eb4" stroke-width="0.9" stroke-linejoin="round"/>
<polyline points="332,210.4 332.9,202.1 333.8,197.2 334.7,195.6 335.6,196.2 336.5,196.8 337.4,197.5 338.3,198.2 339.2,198.9 340.1,199.6 341,200.3 341.9,201 342.8,201.8 343.6,202.5 344.5,203.3 345.4,204 346.3,204.8 347.2,205.6 348.1,206.4 349,207.2 349.9,208 350.8,208.9 351.7,209.7 352.6,210.6 353.5,211.5 354.4,212.4 355.3,213.4 356.2,214.3 357.1,215.3 358,216.3 358.9,217.4 359.8,218.4 360.7,219.5 361.6,220.7 362.5,221.8 363.4,223 364.3,224.3 365.2,225.6 366,226.9 366.9,228.4 367.8,229.9 368.7,231.4 369.6,233.1 370.5,234.9 371.4,236.8 371.7,237.5 372,238.1 372.2,238.7 372.5,239.4 372.8,240.1 373,240.8 373.3,241.6 373.6,242.4 373.8,243.2 374.1,244.1 374.4,245 374.6,245.9 374.9,246.9 375.2,248 375.5,249.2 375.7,250.5 376,251.9 376.3,253.4 376.5,254.9 376.8,255.7 377.1,254.9 377.3,253.4 377.6,251.9 377.9,250.5 378.1,249.2 378.4,248 378.7,246.9 379,245.9 379.2,245 379.5,244.1 379.8,243.2 380,242.4 380.3,241.6 380.6,240.8 380.8,240.1 381.1,239.4 381.4,238.7 381.6,238.1 381.9,237.5 382.2,236.8 383.1,234.9 384,233.1 384.9,231.4 385.8,229.9 386.7,228.4 387.6,226.9 388.4,225.6 389.3,224.3 390.2,223 391.1,221.8 392,220.7 392.9,219.5 393.8,218.4 394.7,217.4 395.6,216.3 396.5,215.3 397.4,214.3 398.3,213.4 399.2,212.4 400.1,211.5 401,210.6 401.9,209.7 402.8,208.9 403.7,208 404.6,207.2 405.5,206.4 406.4,205.6 407.3,204.8 408.2,204 409.1,203.3 410,202.5 410.8,201.8 411.7,201 412.6,200.3 413.5,199.6 414.4,198.9 415.3,198.2 416.2,197.5 417.1,196.8 418,196.2 418.9,195.6 419.8,197.2 420.7,202.1 421.6,210.4" fill="none" stroke="#22306a" stroke-width="0.9" stroke-linejoin="round"/>
<polyline points="332,210.4 332.9,201.4 333.8,196.4 334.7,195.5 335.6,196.2 336.5,196.8 337.4,197.5 338.3,198.2 339.2,198.9 340.1,199.6 341,200.3 341.9,201 342.8,201.8 343.6,202.5 344.5,203.3 345.4,204 346.3,204.8 347.2,205.6 348.1,206.4 349,207.2 349.9,208 350.8,208.9 351.7,209.7 352.6,210.6 353.5,211.5 354.4,212.4 355.3,213.4 356.2,214.3 357.1,215.3 358,216.3 358.9,217.4 359.8,218.4 360.7,219.5 361.6,220.7 362.5,221.8 363.4,223 364.3,224.3 365.2,225.6 366,226.9 366.9,228.4 367.8,229.9 368.7,231.4 369.6,233.1 370.5,234.9 371.4,236.8 371.7,237.5 372,238.1 372.2,238.8 372.5,239.4 372.8,240.1 373,240.9 373.3,241.6 373.6,242.4 373.8,243.2 374.1,244.1 374.4,245 374.6,245.9 374.9,247 375.2,248.1 375.5,249.2 375.7,250.6 376,252 376.3,253.6 376.5,255.2 376.8,256.1 377.1,255.2 377.3,253.6 377.6,252 377.9,250.6 378.1,249.2 378.4,248.1 378.7,247 379,245.9 379.2,245 379.5,244.1 379.8,243.2 380,242.4 380.3,241.6 380.6,240.9 380.8,240.1 381.1,239.4 381.4,238.8 381.6,238.1 381.9,237.5 382.2,236.8 383.1,234.9 384,233.1 384.9,231.4 385.8,229.9 386.7,228.4 387.6,226.9 388.4,225.6 389.3,224.3 390.2,223 391.1,221.8 392,220.7 392.9,219.5 393.8,218.4 394.7,217.4 395.6,216.3 396.5,215.3 397.4,214.3 398.3,213.4 399.2,212.4 400.1,211.5 401,210.6 401.9,209.7 402.8,208.9 403.7,208 404.6,207.2 405.5,206.4 406.4,205.6 407.3,204.8 408.2,204 409.1,203.3 410,202.5 410.8,201.8 411.7,201 412.6,200.3 413.5,199.6 414.4,198.9 415.3,198.2 416.2,197.5 417.1,196.8 418,196.2 418.9,195.5 419.8,196.4 420.7,201.4 421.6,210.4" fill="none" stroke="#7030a0" stroke-width="0.9" stroke-linejoin="round"/>
<polyline points="332,193.6 333.2,194.4 334.4,195.3 335.6,196.2 336.8,197 337.9,197.9 339.1,198.8 340.2,199.7 341.3,200.6 342.4,201.5 343.5,202.4 344.6,203.3 345.7,204.2 346.7,205.1 347.8,206.1 348.8,207 349.8,207.9 350.8,208.9 351.8,209.8 352.7,210.8 353.7,211.7 354.6,212.7 355.6,213.7 356.5,214.7 357.4,215.6 358.3,216.6 359.1,217.6 360,218.7 360.8,219.7 361.6,220.7 362.4,221.8 363.2,222.8 364,223.9 364.7,225 365.5,226 366.2,227.1 366.9,228.3 367.6,229.4 368.2,230.5 368.9,231.7 369.5,232.9 370.1,234 370.7,235.2 371.2,236.5 371.8,237.7 372.3,239 372.8,240.3 373.3,241.6 373.8,243 374.2,244.4 374.6,245.8 375,247.3 375.3,248.8 375.6,250.4 375.9,252.1 376.2,253.9 376.4,255.8 376.6,257.8 376.7,260.3 376.8,264 376.9,260.3 377,257.8 377.2,255.8 377.4,253.9 377.7,252.1 378,250.4 378.3,248.8 378.6,247.3 379,245.8 379.4,244.4 379.8,243 380.3,241.6 380.8,240.3 381.3,239 381.8,237.7 382.4,236.5 382.9,235.2 383.5,234 384.1,232.9 384.7,231.7 385.4,230.5 386,229.4 386.7,228.3 387.4,227.1 388.1,226 388.9,225 389.6,223.9 390.4,222.8 391.2,221.8 392,220.7 392.8,219.7 393.6,218.7 394.5,217.6 395.3,216.6 396.2,215.6 397.1,214.7 398,213.7 399,212.7 399.9,211.7 400.9,210.8 401.8,209.8 402.8,208.9 403.8,207.9 404.8,207 405.8,206.1 406.9,205.1 407.9,204.2 409,203.3 410.1,202.4 411.2,201.5 412.3,200.6 413.4,199.7 414.5,198.8 415.7,197.9 416.8,197 418,196.2 419.2,195.3 420.4,194.4 421.6,193.6" fill="none" stroke="#262c60" stroke-width="1.2" stroke-linejoin="round"/>
<rect x="332" y="192.5" width="89.6" height="71.5" fill="none" stroke="#6e6e6e" stroke-width="1"/>
<ellipse cx="390.6" cy="224" rx="1.9" ry="2.3" fill="none" stroke="#e04848" stroke-width="0.7"/>
<line x1="390.1" y1="221" x2="383.6" y2="221" stroke="#e04848" stroke-width="0.8"/>
<path d="M383.1 221 l2 -1.2 l0 2.4z" fill="#e04848"/>
<ellipse cx="407" cy="242.7" rx="1.5" ry="2.0" fill="#fff" stroke="#444" stroke-width="0.7"/>
<line x1="407" y1="245.3" x2="412" y2="245.3" stroke="#333" stroke-width="0.7"/>
<path d="M412.8 245.3 l-2 -1.1 l0 2.2z" fill="#333"/>
<text x="335" y="253.1" font-size="6.9" text-anchor="start" font-weight="bold" fill="#1e1e1e" font-family="Liberation Sans" transform="matrix(1 0 0 1.1 0 -25.1)">Fractional</text>
<text x="334.3" y="261.2" font-size="6.9" text-anchor="start" font-weight="bold" fill="#1e1e1e" font-family="Liberation Sans" transform="matrix(1 0 0 1.1 0 -25.9)">order: 0.45</text>
<line x1="429.7" y1="264" x2="429.7" y2="262.2" stroke="#6e6e6e" stroke-width="0.6"/>
<line x1="429.7" y1="192.5" x2="429.7" y2="194.3" stroke="#6e6e6e" stroke-width="0.6"/>
<line x1="442.6" y1="264" x2="442.6" y2="262.2" stroke="#6e6e6e" stroke-width="0.6"/>
<line x1="442.6" y1="192.5" x2="442.6" y2="194.3" stroke="#6e6e6e" stroke-width="0.6"/>
<line x1="455.6" y1="264" x2="455.6" y2="262.2" stroke="#6e6e6e" stroke-width="0.6"/>
<line x1="455.6" y1="192.5" x2="455.6" y2="194.3" stroke="#6e6e6e" stroke-width="0.6"/>
<line x1="468.5" y1="264" x2="468.5" y2="262.2" stroke="#6e6e6e" stroke-width="0.6"/>
<line x1="468.5" y1="192.5" x2="468.5" y2="194.3" stroke="#6e6e6e" stroke-width="0.6"/>
<line x1="481.4" y1="264" x2="481.4" y2="262.2" stroke="#6e6e6e" stroke-width="0.6"/>
<line x1="481.4" y1="192.5" x2="481.4" y2="194.3" stroke="#6e6e6e" stroke-width="0.6"/>
<line x1="494.4" y1="264" x2="494.4" y2="262.2" stroke="#6e6e6e" stroke-width="0.6"/>
<line x1="494.4" y1="192.5" x2="494.4" y2="194.3" stroke="#6e6e6e" stroke-width="0.6"/>
<line x1="507.3" y1="264" x2="507.3" y2="262.2" stroke="#6e6e6e" stroke-width="0.6"/>
<line x1="507.3" y1="192.5" x2="507.3" y2="194.3" stroke="#6e6e6e" stroke-width="0.6"/>
<line x1="424" y1="206.8" x2="425.8" y2="206.8" stroke="#6e6e6e" stroke-width="0.6"/>
<line x1="513" y1="206.8" x2="511.2" y2="206.8" stroke="#6e6e6e" stroke-width="0.6"/>
<line x1="424" y1="221.1" x2="425.8" y2="221.1" stroke="#6e6e6e" stroke-width="0.6"/>
<line x1="513" y1="221.1" x2="511.2" y2="221.1" stroke="#6e6e6e" stroke-width="0.6"/>
<line x1="424" y1="235.4" x2="425.8" y2="235.4" stroke="#6e6e6e" stroke-width="0.6"/>
<line x1="513" y1="235.4" x2="511.2" y2="235.4" stroke="#6e6e6e" stroke-width="0.6"/>
<line x1="424" y1="249.7" x2="425.8" y2="249.7" stroke="#6e6e6e" stroke-width="0.6"/>
<line x1="513" y1="249.7" x2="511.2" y2="249.7" stroke="#6e6e6e" stroke-width="0.6"/>
<polyline points="424,199.3 468.5,199.3 468.5,264" fill="none" stroke="#3a3a3a" stroke-width="1" stroke-linejoin="round"/>
<polyline points="468.5,264 468.5,257.2 513,257.2" fill="none" stroke="#3a3a3a" stroke-width="1" stroke-linejoin="round"/>
<polyline points="424,253 424.9,249.3 425.8,245.8 426.7,242.6 427.6,239.6 428.4,236.8 429.3,234.2 430.2,231.8 431.1,229.6 432,227.7 432.9,226 433.8,224.5 434.7,223.2 435.6,222.2 436.5,221.3 437.4,220.7 438.2,220.3 439.1,220.1 440,220.1 440.9,220.4 441.8,220.8 442.7,221.5 443.6,222.4 444.5,223.6 445.4,224.9 446.2,226.3 447.1,227.6 448,229 448.9,230.3 449.8,231.7 450.7,233.1 451.6,234.5 452.5,235.9 453.4,237.3 454.3,238.7 455.1,240.1 456,241.6 456.9,243 457.8,244.5 458.7,245.9 459.6,247.4 460.5,248.9 461.4,250.4 462.3,251.9 463.2,253.5 463.4,253.9 463.7,254.4 464,254.9 464.2,255.3 464.5,255.8 464.8,256.3 465,256.8 465.3,257.3 465.6,257.7 465.8,258.2 466.1,258.7 466.4,259.2 466.6,259.7 466.9,260.2 467.2,260.6 467.4,261.1 467.7,261.5 468,261.9 468.2,262.2 468.5,262.3 468.8,262.2 469,261.9 469.3,261.5 469.6,261.1 469.8,260.6 470.1,260.2 470.4,259.7 470.6,259.2 470.9,258.7 471.2,258.2 471.4,257.7 471.7,257.3 472,256.8 472.2,256.3 472.5,255.8 472.8,255.3 473,254.9 473.3,254.4 473.6,253.9 473.8,253.5 474.7,251.9 475.6,250.4 476.5,248.9 477.4,247.4 478.3,245.9 479.2,244.5 480.1,243 481,241.6 481.9,240.1 482.7,238.7 483.6,237.3 484.5,235.9 485.4,234.5 486.3,233.1 487.2,231.7 488.1,230.3 489,229 489.9,227.6 490.8,226.3 491.6,224.9 492.5,223.6 493.4,222.4 494.3,221.5 495.2,220.8 496.1,220.4 497,220.1 497.9,220.1 498.8,220.3 499.6,220.7 500.5,221.3 501.4,222.2 502.3,223.2 503.2,224.5 504.1,226 505,227.7 505.9,229.6 506.8,231.8 507.7,234.2 508.6,236.8 509.4,239.6 510.3,242.6 511.2,245.8 512.1,249.3 513,253" fill="none" stroke="#c8141e" stroke-width="0.7" stroke-linejoin="round" stroke-dasharray="1.5 0.9"/>
<polyline points="424,253 424.9,245.5 425.8,238.7 426.7,232.6 427.6,227.2 428.4,222.6 429.3,218.6 430.2,215.3 431.1,212.7 432,210.8 432.9,209.6 433.8,209.2 434.7,209.4 435.6,210.3 436.5,211.6 437.4,212.9 438.2,214.2 439.1,215.5 440,216.9 440.9,218.2 441.8,219.5 442.7,220.9 443.6,222.2 444.5,223.6 445.4,224.9 446.2,226.3 447.1,227.6 448,229 448.9,230.4 449.8,231.7 450.7,233.1 451.6,234.5 452.5,235.9 453.4,237.3 454.3,238.7 455.1,240.2 456,241.6 456.9,243 457.8,244.5 458.7,246 459.6,247.4 460.5,248.9 461.4,250.4 462.3,252 463.2,253.5 463.4,254 463.7,254.5 464,254.9 464.2,255.4 464.5,255.9 464.8,256.4 465,256.9 465.3,257.4 465.6,257.9 465.8,258.3 466.1,258.8 466.4,259.4 466.6,259.9 466.9,260.4 467.2,260.9 467.4,261.4 467.7,261.9 468,262.4 468.2,262.8 468.5,263 468.8,262.8 469,262.4 469.3,261.9 469.6,261.4 469.8,260.9 470.1,260.4 470.4,259.9 470.6,259.4 470.9,258.8 471.2,258.3 471.4,257.9 471.7,257.4 472,256.9 472.2,256.4 472.5,255.9 472.8,255.4 473,254.9 473.3,254.5 473.6,254 473.8,253.5 474.7,252 475.6,250.4 476.5,248.9 477.4,247.4 478.3,246 479.2,244.5 480.1,243 481,241.6 481.9,240.2 482.7,238.7 483.6,237.3 484.5,235.9 485.4,234.5 486.3,233.1 487.2,231.7 488.1,230.4 489,229 489.9,227.6 490.8,226.3 491.6,224.9 492.5,223.6 493.4,222.2 494.3,220.9 495.2,219.5 496.1,218.2 497,216.9 497.9,215.5 498.8,214.2 499.6,212.9 500.5,211.6 501.4,210.3 502.3,209.4 503.2,209.2 504.1,209.6 505,210.8 505.9,212.7 506.8,215.3 507.7,218.6 508.6,222.6 509.4,227.2 510.3,232.6 511.2,238.7 512.1,245.5 513,253" fill="none" stroke="#e8242a" stroke-width="0.7" stroke-linejoin="round" stroke-dasharray="1.5 0.9"/>
<polyline points="424,253 424.9,241.8 425.8,232.1 426.7,223.9 427.6,217.1 428.4,211.8 429.3,207.9 430.2,205.5 431.1,204.6 432,205.1 432.9,206.4 433.8,207.7 434.7,209 435.6,210.3 436.5,211.6 437.4,212.9 438.2,214.2 439.1,215.5 440,216.9 440.9,218.2 441.8,219.5 442.7,220.9 443.6,222.2 444.5,223.6 445.4,224.9 446.2,226.3 447.1,227.6 448,229 448.9,230.4 449.8,231.7 450.7,233.1 451.6,234.5 452.5,235.9 453.4,237.3 454.3,238.7 455.1,240.2 456,241.6 456.9,243 457.8,244.5 458.7,246 459.6,247.4 460.5,248.9 461.4,250.5 462.3,252 463.2,253.5 463.4,254 463.7,254.5 464,255 464.2,255.4 464.5,255.9 464.8,256.4 465,256.9 465.3,257.4 465.6,257.9 465.8,258.4 466.1,258.9 466.4,259.4 466.6,259.9 466.9,260.4 467.2,260.9 467.4,261.5 467.7,262 468,262.5 468.2,263 468.5,263.3 468.8,263 469,262.5 469.3,262 469.6,261.5 469.8,260.9 470.1,260.4 470.4,259.9 470.6,259.4 470.9,258.9 471.2,258.4 471.4,257.9 471.7,257.4 472,256.9 472.2,256.4 472.5,255.9 472.8,255.4 473,255 473.3,254.5 473.6,254 473.8,253.5 474.7,252 475.6,250.5 476.5,248.9 477.4,247.4 478.3,246 479.2,244.5 480.1,243 481,241.6 481.9,240.2 482.7,238.7 483.6,237.3 484.5,235.9 485.4,234.5 486.3,233.1 487.2,231.7 488.1,230.4 489,229 489.9,227.6 490.8,226.3 491.6,224.9 492.5,223.6 493.4,222.2 494.3,220.9 495.2,219.5 496.1,218.2 497,216.9 497.9,215.5 498.8,214.2 499.6,212.9 500.5,211.6 501.4,210.3 502.3,209 503.2,207.7 504.1,206.4 505,205.1 505.9,204.6 506.8,205.5 507.7,207.9 508.6,211.8 509.4,217.1 510.3,223.9 511.2,232.1 512.1,241.8 513,253" fill="none" stroke="#f0a628" stroke-width="0.7" stroke-linejoin="round" stroke-dasharray="1.5 0.9"/>
<polyline points="424,253 424.9,238.3 425.8,226.1 426.7,216.4 427.6,209.2 428.4,204.5 429.3,202.3 430.2,202.5 431.1,203.8 432,205.1 432.9,206.4 433.8,207.7 434.7,209 435.6,210.3 436.5,211.6 437.4,212.9 438.2,214.2 439.1,215.5 440,216.9 440.9,218.2 441.8,219.5 442.7,220.9 443.6,222.2 444.5,223.6 445.4,224.9 446.2,226.3 447.1,227.6 448,229 448.9,230.4 449.8,231.7 450.7,233.1 451.6,234.5 452.5,235.9 453.4,237.3 454.3,238.7 455.1,240.2 456,241.6 456.9,243 457.8,244.5 458.7,246 459.6,247.5 460.5,248.9 461.4,250.5 462.3,252 463.2,253.5 463.4,254 463.7,254.5 464,255 464.2,255.4 464.5,255.9 464.8,256.4 465,256.9 465.3,257.4 465.6,257.9 465.8,258.4 466.1,258.9 466.4,259.4 466.6,259.9 466.9,260.4 467.2,261 467.4,261.5 467.7,262 468,262.6 468.2,263.1 468.5,263.4 468.8,263.1 469,262.6 469.3,262 469.6,261.5 469.8,261 470.1,260.4 470.4,259.9 470.6,259.4 470.9,258.9 471.2,258.4 471.4,257.9 471.7,257.4 472,256.9 472.2,256.4 472.5,255.9 472.8,255.4 473,255 473.3,254.5 473.6,254 473.8,253.5 474.7,252 475.6,250.5 476.5,248.9 477.4,247.5 478.3,246 479.2,244.5 480.1,243 481,241.6 481.9,240.2 482.7,238.7 483.6,237.3 484.5,235.9 485.4,234.5 486.3,233.1 487.2,231.7 488.1,230.4 489,229 489.9,227.6 490.8,226.3 491.6,224.9 492.5,223.6 493.4,222.2 494.3,220.9 495.2,219.5 496.1,218.2 497,216.9 497.9,215.5 498.8,214.2 499.6,212.9 500.5,211.6 501.4,210.3 502.3,209 503.2,207.7 504.1,206.4 505,205.1 505.9,203.8 506.8,202.5 507.7,202.3 508.6,204.5 509.4,209.2 510.3,216.4 511.2,226.1 512.1,238.3 513,253" fill="none" stroke="#e8d428" stroke-width="0.7" stroke-linejoin="round"/>
<polyline points="424,253 424.9,234.9 425.8,220.6 426.7,210.2 427.6,203.5 428.4,200.6 429.3,201.2 430.2,202.5 431.1,203.8 432,205.1 432.9,206.4 433.8,207.7 434.7,209 435.6,210.3 436.5,211.6 437.4,212.9 438.2,214.2 439.1,215.5 440,216.9 440.9,218.2 441.8,219.5 442.7,220.9 443.6,222.2 444.5,223.6 445.4,224.9 446.2,226.3 447.1,227.6 448,229 448.9,230.4 449.8,231.7 450.7,233.1 451.6,234.5 452.5,235.9 453.4,237.3 454.3,238.7 455.1,240.2 456,241.6 456.9,243 457.8,244.5 458.7,246 459.6,247.5 460.5,248.9 461.4,250.5 462.3,252 463.2,253.5 463.4,254 463.7,254.5 464,255 464.2,255.4 464.5,255.9 464.8,256.4 465,256.9 465.3,257.4 465.6,257.9 465.8,258.4 466.1,258.9 466.4,259.4 466.6,259.9 466.9,260.4 467.2,261 467.4,261.5 467.7,262.1 468,262.6 468.2,263.2 468.5,263.5 468.8,263.2 469,262.6 469.3,262.1 469.6,261.5 469.8,261 470.1,260.4 470.4,259.9 470.6,259.4 470.9,258.9 471.2,258.4 471.4,257.9 471.7,257.4 472,256.9 472.2,256.4 472.5,255.9 472.8,255.4 473,255 473.3,254.5 473.6,254 473.8,253.5 474.7,252 475.6,250.5 476.5,248.9 477.4,247.5 478.3,246 479.2,244.5 480.1,243 481,241.6 481.9,240.2 482.7,238.7 483.6,237.3 484.5,235.9 485.4,234.5 486.3,233.1 487.2,231.7 488.1,230.4 489,229 489.9,227.6 490.8,226.3 491.6,224.9 492.5,223.6 493.4,222.2 494.3,220.9 495.2,219.5 496.1,218.2 497,216.9 497.9,215.5 498.8,214.2 499.6,212.9 500.5,211.6 501.4,210.3 502.3,209 503.2,207.7 504.1,206.4 505,205.1 505.9,203.8 506.8,202.5 507.7,201.2 508.6,200.6 509.4,203.5 510.3,210.2 511.2,220.6 512.1,234.9 513,253" fill="none" stroke="#a8c850" stroke-width="0.7" stroke-linejoin="round"/>
<polyline points="424,253 424.9,231.7 425.8,215.7 426.7,205.2 427.6,200 428.4,199.9 429.3,201.2 430.2,202.5 431.1,203.8 432,205.1 432.9,206.4 433.8,207.7 434.7,209 435.6,210.3 436.5,211.6 437.4,212.9 438.2,214.2 439.1,215.5 440,216.9 440.9,218.2 441.8,219.5 442.7,220.9 443.6,222.2 444.5,223.6 445.4,224.9 446.2,226.3 447.1,227.6 448,229 448.9,230.4 449.8,231.7 450.7,233.1 451.6,234.5 452.5,235.9 453.4,237.3 454.3,238.7 455.1,240.2 456,241.6 456.9,243 457.8,244.5 458.7,246 459.6,247.5 460.5,248.9 461.4,250.5 462.3,252 463.2,253.5 463.4,254 463.7,254.5 464,255 464.2,255.4 464.5,255.9 464.8,256.4 465,256.9 465.3,257.4 465.6,257.9 465.8,258.4 466.1,258.9 466.4,259.4 466.6,259.9 466.9,260.5 467.2,261 467.4,261.5 467.7,262.1 468,262.6 468.2,263.2 468.5,263.6 468.8,263.2 469,262.6 469.3,262.1 469.6,261.5 469.8,261 470.1,260.5 470.4,259.9 470.6,259.4 470.9,258.9 471.2,258.4 471.4,257.9 471.7,257.4 472,256.9 472.2,256.4 472.5,255.9 472.8,255.4 473,255 473.3,254.5 473.6,254 473.8,253.5 474.7,252 475.6,250.5 476.5,248.9 477.4,247.5 478.3,246 479.2,244.5 480.1,243 481,241.6 481.9,240.2 482.7,238.7 483.6,237.3 484.5,235.9 485.4,234.5 486.3,233.1 487.2,231.7 488.1,230.4 489,229 489.9,227.6 490.8,226.3 491.6,224.9 492.5,223.6 493.4,222.2 494.3,220.9 495.2,219.5 496.1,218.2 497,216.9 497.9,215.5 498.8,214.2 499.6,212.9 500.5,211.6 501.4,210.3 502.3,209 503.2,207.7 504.1,206.4 505,205.1 505.9,203.8 506.8,202.5 507.7,201.2 508.6,199.9 509.4,200 510.3,205.2 511.2,215.7 512.1,231.7 513,253" fill="none" stroke="#22985a" stroke-width="0.7" stroke-linejoin="round"/>
<polyline points="424,253 424.9,228.5 425.8,211.3 426.7,201.4 427.6,198.7 428.4,199.9 429.3,201.2 430.2,202.5 431.1,203.8 432,205.1 432.9,206.4 433.8,207.7 434.7,209 435.6,210.3 436.5,211.6 437.4,212.9 438.2,214.2 439.1,215.5 440,216.9 440.9,218.2 441.8,219.5 442.7,220.9 443.6,222.2 444.5,223.6 445.4,224.9 446.2,226.3 447.1,227.6 448,229 448.9,230.4 449.8,231.7 450.7,233.1 451.6,234.5 452.5,235.9 453.4,237.3 454.3,238.7 455.1,240.2 456,241.6 456.9,243 457.8,244.5 458.7,246 459.6,247.5 460.5,249 461.4,250.5 462.3,252 463.2,253.6 463.4,254 463.7,254.5 464,255 464.2,255.5 464.5,255.9 464.8,256.4 465,256.9 465.3,257.4 465.6,257.9 465.8,258.4 466.1,258.9 466.4,259.4 466.6,259.9 466.9,260.5 467.2,261 467.4,261.5 467.7,262.1 468,262.7 468.2,263.2 468.5,263.6 468.8,263.2 469,262.7 469.3,262.1 469.6,261.5 469.8,261 470.1,260.5 470.4,259.9 470.6,259.4 470.9,258.9 471.2,258.4 471.4,257.9 471.7,257.4 472,256.9 472.2,256.4 472.5,255.9 472.8,255.5 473,255 473.3,254.5 473.6,254 473.8,253.6 474.7,252 475.6,250.5 476.5,249 477.4,247.5 478.3,246 479.2,244.5 480.1,243 481,241.6 481.9,240.2 482.7,238.7 483.6,237.3 484.5,235.9 485.4,234.5 486.3,233.1 487.2,231.7 488.1,230.4 489,229 489.9,227.6 490.8,226.3 491.6,224.9 492.5,223.6 493.4,222.2 494.3,220.9 495.2,219.5 496.1,218.2 497,216.9 497.9,215.5 498.8,214.2 499.6,212.9 500.5,211.6 501.4,210.3 502.3,209 503.2,207.7 504.1,206.4 505,205.1 505.9,203.8 506.8,202.5 507.7,201.2 508.6,199.9 509.4,198.7 510.3,201.4 511.2,211.3 512.1,228.5 513,253" fill="none" stroke="#30a8dc" stroke-width="0.9" stroke-linejoin="round"/>
<polyline points="424,253 424.9,225.6 425.8,207.5 426.7,198.9 427.6,198.7 428.4,199.9 429.3,201.2 430.2,202.5 431.1,203.8 432,205.1 432.9,206.4 433.8,207.7 434.7,209 435.6,210.3 436.5,211.6 437.4,212.9 438.2,214.2 439.1,215.5 440,216.9 440.9,218.2 441.8,219.5 442.7,220.9 443.6,222.2 444.5,223.6 445.4,224.9 446.2,226.3 447.1,227.6 448,229 448.9,230.4 449.8,231.7 450.7,233.1 451.6,234.5 452.5,235.9 453.4,237.3 454.3,238.7 455.1,240.2 456,241.6 456.9,243 457.8,244.5 458.7,246 459.6,247.5 460.5,249 461.4,250.5 462.3,252 463.2,253.6 463.4,254 463.7,254.5 464,255 464.2,255.5 464.5,255.9 464.8,256.4 465,256.9 465.3,257.4 465.6,257.9 465.8,258.4 466.1,258.9 466.4,259.4 466.6,259.9 466.9,260.5 467.2,261 467.4,261.5 467.7,262.1 468,262.7 468.2,263.2 468.5,263.7 468.8,263.2 469,262.7 469.3,262.1 469.6,261.5 469.8,261 470.1,260.5 470.4,259.9 470.6,259.4 470.9,258.9 471.2,258.4 471.4,257.9 471.7,257.4 472,256.9 472.2,256.4 472.5,255.9 472.8,255.5 473,255 473.3,254.5 473.6,254 473.8,253.6 474.7,252 475.6,250.5 476.5,249 477.4,247.5 478.3,246 479.2,244.5 480.1,243 481,241.6 481.9,240.2 482.7,238.7 483.6,237.3 484.5,235.9 485.4,234.5 486.3,233.1 487.2,231.7 488.1,230.4 489,229 489.9,227.6 490.8,226.3 491.6,224.9 492.5,223.6 493.4,222.2 494.3,220.9 495.2,219.5 496.1,218.2 497,216.9 497.9,215.5 498.8,214.2 499.6,212.9 500.5,211.6 501.4,210.3 502.3,209 503.2,207.7 504.1,206.4 505,205.1 505.9,203.8 506.8,202.5 507.7,201.2 508.6,199.9 509.4,198.7 510.3,198.9 511.2,207.5 512.1,225.6 513,253" fill="none" stroke="#2e6eb4" stroke-width="0.9" stroke-linejoin="round"/>
<polyline points="424,253 424.9,222.7 425.8,204.3 426.7,197.6 427.6,198.7 428.4,199.9 429.3,201.2 430.2,202.5 431.1,203.8 432,205.1 432.9,206.4 433.8,207.7 434.7,209 435.6,210.3 436.5,211.6 437.4,212.9 438.2,214.2 439.1,215.5 440,216.9 440.9,218.2 441.8,219.5 442.7,220.9 443.6,222.2 444.5,223.6 445.4,224.9 446.2,226.3 447.1,227.6 448,229 448.9,230.4 449.8,231.7 450.7,233.1 451.6,234.5 452.5,235.9 453.4,237.3 454.3,238.7 455.1,240.2 456,241.6 456.9,243 457.8,244.5 458.7,246 459.6,247.5 460.5,249 461.4,250.5 462.3,252 463.2,253.6 463.4,254 463.7,254.5 464,255 464.2,255.5 464.5,255.9 464.8,256.4 465,256.9 465.3,257.4 465.6,257.9 465.8,258.4 466.1,258.9 466.4,259.4 466.6,259.9 466.9,260.5 467.2,261 467.4,261.5 467.7,262.1 468,262.7 468.2,263.3 468.5,263.7 468.8,263.3 469,262.7 469.3,262.1 469.6,261.5 469.8,261 470.1,260.5 470.4,259.9 470.6,259.4 470.9,258.9 471.2,258.4 471.4,257.9 471.7,257.4 472,256.9 472.2,256.4 472.5,255.9 472.8,255.5 473,255 473.3,254.5 473.6,254 473.8,253.6 474.7,252 475.6,250.5 476.5,249 477.4,247.5 478.3,246 479.2,244.5 480.1,243 481,241.6 481.9,240.2 482.7,238.7 483.6,237.3 484.5,235.9 485.4,234.5 486.3,233.1 487.2,231.7 488.1,230.4 489,229 489.9,227.6 490.8,226.3 491.6,224.9 492.5,223.6 493.4,222.2 494.3,220.9 495.2,219.5 496.1,218.2 497,216.9 497.9,215.5 498.8,214.2 499.6,212.9 500.5,211.6 501.4,210.3 502.3,209 503.2,207.7 504.1,206.4 505,205.1 505.9,203.8 506.8,202.5 507.7,201.2 508.6,199.9 509.4,198.7 510.3,197.6 511.2,204.3 512.1,222.7 513,253" fill="none" stroke="#22306a" stroke-width="0.9" stroke-linejoin="round"/>
<polyline points="424,253 424.9,220 425.8,201.5 426.7,197.4 427.6,198.7 428.4,199.9 429.3,201.2 430.2,202.5 431.1,203.8 432,205.1 432.9,206.4 433.8,207.7 434.7,209 435.6,210.3 436.5,211.6 437.4,212.9 438.2,214.2 439.1,215.5 440,216.9 440.9,218.2 441.8,219.5 442.7,220.9 443.6,222.2 444.5,223.6 445.4,224.9 446.2,226.3 447.1,227.6 448,229 448.9,230.4 449.8,231.7 450.7,233.1 451.6,234.5 452.5,235.9 453.4,237.3 454.3,238.7 455.1,240.2 456,241.6 456.9,243 457.8,244.5 458.7,246 459.6,247.5 460.5,249 461.4,250.5 462.3,252 463.2,253.6 463.4,254 463.7,254.5 464,255 464.2,255.5 464.5,255.9 464.8,256.4 465,256.9 465.3,257.4 465.6,257.9 465.8,258.4 466.1,258.9 466.4,259.4 466.6,259.9 466.9,260.5 467.2,261 467.4,261.5 467.7,262.1 468,262.7 468.2,263.3 468.5,263.7 468.8,263.3 469,262.7 469.3,262.1 469.6,261.5 469.8,261 470.1,260.5 470.4,259.9 470.6,259.4 470.9,258.9 471.2,258.4 471.4,257.9 471.7,257.4 472,256.9 472.2,256.4 472.5,255.9 472.8,255.5 473,255 473.3,254.5 473.6,254 473.8,253.6 474.7,252 475.6,250.5 476.5,249 477.4,247.5 478.3,246 479.2,244.5 480.1,243 481,241.6 481.9,240.2 482.7,238.7 483.6,237.3 484.5,235.9 485.4,234.5 486.3,233.1 487.2,231.7 488.1,230.4 489,229 489.9,227.6 490.8,226.3 491.6,224.9 492.5,223.6 493.4,222.2 494.3,220.9 495.2,219.5 496.1,218.2 497,216.9 497.9,215.5 498.8,214.2 499.6,212.9 500.5,211.6 501.4,210.3 502.3,209 503.2,207.7 504.1,206.4 505,205.1 505.9,203.8 506.8,202.5 507.7,201.2 508.6,199.9 509.4,198.7 510.3,197.4 511.2,201.5 512.1,220 513,253" fill="none" stroke="#7030a0" stroke-width="0.9" stroke-linejoin="round"/>
<polyline points="424,193.6 425.2,195.3 426.4,197 427.6,198.7 428.7,200.3 429.9,202 431,203.7 432.1,205.3 433.3,206.9 434.4,208.5 435.4,210.1 436.5,211.7 437.6,213.2 438.6,214.8 439.7,216.3 440.7,217.8 441.7,219.3 442.7,220.8 443.6,222.3 444.6,223.8 445.6,225.2 446.5,226.6 447.4,228 448.3,229.4 449.2,230.8 450.1,232.2 450.9,233.5 451.8,234.8 452.6,236.1 453.4,237.4 454.2,238.7 455,239.9 455.8,241.2 456.5,242.4 457.2,243.5 457.9,244.7 458.6,245.9 459.3,247 460,248.1 460.6,249.2 461.2,250.2 461.8,251.3 462.4,252.3 463,253.2 463.5,254.2 464,255.1 464.5,256 465,256.9 465.5,257.7 465.9,258.5 466.3,259.3 466.7,260 467,260.7 467.4,261.4 467.6,262 467.9,262.5 468.1,263 468.3,263.5 468.4,263.8 468.5,264 468.6,263.8 468.7,263.5 468.9,263 469.1,262.5 469.4,262 469.6,261.4 470,260.7 470.3,260 470.7,259.3 471.1,258.5 471.5,257.7 472,256.9 472.5,256 473,255.1 473.5,254.2 474,253.2 474.6,252.3 475.2,251.3 475.8,250.2 476.4,249.2 477,248.1 477.7,247 478.4,245.9 479.1,244.7 479.8,243.5 480.5,242.4 481.2,241.2 482,239.9 482.8,238.7 483.6,237.4 484.4,236.1 485.2,234.8 486.1,233.5 486.9,232.2 487.8,230.8 488.7,229.4 489.6,228 490.5,226.6 491.4,225.2 492.4,223.8 493.4,222.3 494.3,220.8 495.3,219.3 496.3,217.8 497.3,216.3 498.4,214.8 499.4,213.2 500.5,211.7 501.6,210.1 502.6,208.5 503.7,206.9 504.9,205.3 506,203.7 507.1,202 508.3,200.3 509.4,198.7 510.6,197 511.8,195.3 513,193.6" fill="none" stroke="#262c60" stroke-width="1.2" stroke-linejoin="round"/>
<rect x="424" y="192.5" width="89" height="71.5" fill="none" stroke="#6e6e6e" stroke-width="1"/>
<ellipse cx="479.9" cy="244.9" rx="1.9" ry="2.3" fill="none" stroke="#e04848" stroke-width="0.7"/>
<line x1="479.4" y1="241.9" x2="472.9" y2="241.9" stroke="#e04848" stroke-width="0.8"/>
<path d="M472.4 241.9 l2 -1.2 l0 2.4z" fill="#e04848"/>
<ellipse cx="498" cy="257.2" rx="1.5" ry="2.0" fill="#fff" stroke="#444" stroke-width="0.7"/>
<line x1="498" y1="259.8" x2="503" y2="259.8" stroke="#333" stroke-width="0.7"/>
<path d="M503.8 259.8 l-2 -1.1 l0 2.2z" fill="#333"/>
<text x="427" y="253.1" font-size="6.9" text-anchor="start" font-weight="bold" fill="#1e1e1e" font-family="Liberation Sans" transform="matrix(1 0 0 1.1 0 -25.1)">Fractional</text>
<text x="426.3" y="261.2" font-size="6.9" text-anchor="start" font-weight="bold" fill="#1e1e1e" font-family="Liberation Sans" transform="matrix(1 0 0 1.1 0 -25.9)">order: 0.90</text>
<text x="337.7" y="276.5" font-size="7.6" text-anchor="middle" font-weight="bold" fill="#222" font-family="Liberation Sans" transform="matrix(1 0 0 1.1 0 -27.4)" stroke="#222" stroke-width="0.12">-15</text>
<text x="350.8" y="276.5" font-size="7.6" text-anchor="middle" font-weight="bold" fill="#222" font-family="Liberation Sans" transform="matrix(1 0 0 1.1 0 -27.4)" stroke="#222" stroke-width="0.12">-10</text>
<text x="363.8" y="276.5" font-size="7.6" text-anchor="middle" font-weight="bold" fill="#222" font-family="Liberation Sans" transform="matrix(1 0 0 1.1 0 -27.4)" stroke="#222" stroke-width="0.12">-5</text>
<text x="376.8" y="276.5" font-size="7.6" text-anchor="middle" font-weight="bold" fill="#222" font-family="Liberation Sans" transform="matrix(1 0 0 1.1 0 -27.4)" stroke="#222" stroke-width="0.12">0</text>
<text x="389.8" y="276.5" font-size="7.6" text-anchor="middle" font-weight="bold" fill="#222" font-family="Liberation Sans" transform="matrix(1 0 0 1.1 0 -27.4)" stroke="#222" stroke-width="0.12">5</text>
<text x="402.8" y="276.5" font-size="7.6" text-anchor="middle" font-weight="bold" fill="#222" font-family="Liberation Sans" transform="matrix(1 0 0 1.1 0 -27.4)" stroke="#222" stroke-width="0.12">10</text>
<text x="415.9" y="276.5" font-size="7.6" text-anchor="middle" font-weight="bold" fill="#222" font-family="Liberation Sans" transform="matrix(1 0 0 1.1 0 -27.4)" stroke="#222" stroke-width="0.12">15</text>
<text x="379.8" y="285" font-size="8.4" text-anchor="middle" font-weight="bold" fill="#1e1e1e" font-family="Liberation Sans" transform="matrix(1 0 0 1.1 0 -28.2)" stroke="#1e1e1e" stroke-width="0.2">Frequency (GHz)</text>
<text x="429.7" y="276.5" font-size="7.6" text-anchor="middle" font-weight="bold" fill="#222" font-family="Liberation Sans" transform="matrix(1 0 0 1.1 0 -27.4)" stroke="#222" stroke-width="0.12">-15</text>
<text x="442.6" y="276.5" font-size="7.6" text-anchor="middle" font-weight="bold" fill="#222" font-family="Liberation Sans" transform="matrix(1 0 0 1.1 0 -27.4)" stroke="#222" stroke-width="0.12">-10</text>
<text x="455.6" y="276.5" font-size="7.6" text-anchor="middle" font-weight="bold" fill="#222" font-family="Liberation Sans" transform="matrix(1 0 0 1.1 0 -27.4)" stroke="#222" stroke-width="0.12">-5</text>
<text x="468.5" y="276.5" font-size="7.6" text-anchor="middle" font-weight="bold" fill="#222" font-family="Liberation Sans" transform="matrix(1 0 0 1.1 0 -27.4)" stroke="#222" stroke-width="0.12">0</text>
<text x="481.4" y="276.5" font-size="7.6" text-anchor="middle" font-weight="bold" fill="#222" font-family="Liberation Sans" transform="matrix(1 0 0 1.1 0 -27.4)" stroke="#222" stroke-width="0.12">5</text>
<text x="494.4" y="276.5" font-size="7.6" text-anchor="middle" font-weight="bold" fill="#222" font-family="Liberation Sans" transform="matrix(1 0 0 1.1 0 -27.4)" stroke="#222" stroke-width="0.12">10</text>
<text x="507.3" y="276.5" font-size="7.6" text-anchor="middle" font-weight="bold" fill="#222" font-family="Liberation Sans" transform="matrix(1 0 0 1.1 0 -27.4)" stroke="#222" stroke-width="0.12">15</text>
<text x="471.5" y="285" font-size="8.4" text-anchor="middle" font-weight="bold" fill="#1e1e1e" font-family="Liberation Sans" transform="matrix(1 0 0 1.1 0 -28.2)" stroke="#1e1e1e" stroke-width="0.2">Frequency (GHz)</text>
<line x1="73.4" y1="303.3" x2="90.3" y2="303.3" stroke="#e8262a" stroke-width="2.6" stroke-dasharray="4 2.4"/>
<text x="93" y="305.6" font-size="7.1" text-anchor="start" font-weight="bold" fill="#222" font-family="Liberation Sans" transform="matrix(1 0 0 1.1 0 -30.3)" stroke="#222" stroke-width="0.12">Simulated</text>
<line x1="142" y1="303" x2="157" y2="303" stroke="#3048b0" stroke-width="2.4"/>
<text x="161" y="305.6" font-size="7.1" text-anchor="start" font-weight="bold" fill="#222" font-family="Liberation Sans" transform="matrix(1 0 0 1.1 0 -30.3)" stroke="#222" stroke-width="0.12">Measured</text>
<line x1="92" y1="357.2" x2="92" y2="355.4" stroke="#6e6e6e" stroke-width="0.6"/>
<line x1="92" y1="314.4" x2="92" y2="316.2" stroke="#6e6e6e" stroke-width="0.6"/>
<line x1="137" y1="357.2" x2="137" y2="355.4" stroke="#6e6e6e" stroke-width="0.6"/>
<line x1="137" y1="314.4" x2="137" y2="316.2" stroke="#6e6e6e" stroke-width="0.6"/>
<line x1="182" y1="357.2" x2="182" y2="355.4" stroke="#6e6e6e" stroke-width="0.6"/>
<line x1="182" y1="314.4" x2="182" y2="316.2" stroke="#6e6e6e" stroke-width="0.6"/>
<line x1="68.9" y1="336.2" x2="70.7" y2="336.2" stroke="#6e6e6e" stroke-width="0.6"/>
<line x1="204.5" y1="336.2" x2="202.7" y2="336.2" stroke="#6e6e6e" stroke-width="0.6"/>
<polyline points="69.5,354.3 70,354.3 70.4,354.3 70.8,354.3 71.3,354.3 71.8,354.3 72.2,354.3 72.7,354.3 73.1,354.3 73.6,354.3 74,354.3 74.5,354.3 74.9,354.3 75.3,354.3 75.8,354.3 76.2,354.3 76.7,354.3 77.2,354.3 77.6,354.3 78,354.3 78.5,354.3 78.9,354.3 79.4,354.3 79.8,354.3 80.3,354.3 80.8,354.3 81.2,354.3 81.7,354.3 82.1,354.3 82.6,354.3 83,354.3 83.5,354.3 83.9,354.3 84.3,354.3 84.8,354.3 85.2,354.3 85.7,354.3 86.2,354.3 86.6,354.3 87.1,354.3 87.5,354.3 88,354.3 88.4,354.3 88.8,354.3 89.3,354.3 89.8,354.3 90.2,354.3 90.7,354.3 91.1,354.3 91.5,354.3 92,354.3 92.5,354.3 92.9,354.3 93.3,354.3 93.8,354.3 94.2,354.3 94.7,354.3 95.2,354.3 95.6,354.3 96,354.3 96.5,354.3 97,354.3 97.4,354.3 97.8,354.3 98.3,354.3 98.8,354.3 99.2,354.3 99.7,354.3 100.1,354.3 100.6,354.3 101,354.3 101.4,354.3 101.9,354.3 102.3,354.3 102.8,354.3 103.2,354.3 103.7,354.3 104.2,354.3 104.6,354.3 105,354.3 105.5,354.3 106,354.3 106.4,354.3 106.8,354.3 107.3,354.3 107.8,354.3 108.2,354.3 108.7,354.3 109.1,354.3 109.5,354.3 110,354.3 110.5,354.3 110.9,354.3 111.3,354.3 111.8,354.3 112.2,354.3 112.7,354.3 113.2,354.3 113.6,354.3 114,354.3 114.5,354.3 115,354.3 115.4,354.3 115.8,354.3 116.3,354.3 116.8,354.3 117.2,354.3 117.7,354.3 118.1,354.3 118.6,354.3 119,354.3 119.5,354.3 119.9,354.3 120.4,354.3 120.8,354.3 121.2,354.2 121.7,354.2 122.1,354.2 122.6,354.1 123,354.1 123.5,354 124,353.9 124.4,353.7 124.8,353.5 125.3,353.3 125.8,353 126.2,352.6 126.7,352.1 127.1,351.5 127.5,350.8 128,350 128.4,349 128.9,347.8 129.3,346.5 129.8,345 130.2,343.4 130.7,341.6 131.2,339.6 131.6,337.5 132.1,335.3 132.5,333.1 132.9,330.8 133.4,328.6 133.8,326.5 134.3,324.5 134.8,322.7 135.2,321.1 135.7,319.9 136.1,319 136.6,318.4 137,318.2 137.4,318.4 137.9,319 138.3,319.9 138.8,321.1 139.2,322.7 139.7,324.5 140.2,326.5 140.6,328.6 141.1,330.8 141.5,333.1 142,335.3 142.4,337.5 142.8,339.6 143.3,341.6 143.8,343.4 144.2,345 144.7,346.5 145.1,347.8 145.6,349 146,350 146.4,350.8 146.9,351.5 147.3,352.1 147.8,352.6 148.2,353 148.7,353.3 149.2,353.5 149.6,353.7 150.1,353.9 150.5,354 150.9,354.1 151.4,354.1 151.8,354.2 152.3,354.2 152.8,354.2 153.2,354.3 153.7,354.3 154.1,354.3 154.6,354.3 155,354.3 155.5,354.3 155.9,354.3 156.3,354.3 156.8,354.3 157.2,354.3 157.7,354.3 158.2,354.3 158.6,354.3 159.1,354.3 159.5,354.3 160,354.3 160.4,354.3 160.9,354.3 161.3,354.3 161.8,354.3 162.2,354.3 162.6,354.3 163.1,354.3 163.5,354.3 164,354.3 164.4,354.3 164.9,354.3 165.3,354.3 165.8,354.3 166.2,354.3 166.7,354.3 167.2,354.3 167.6,354.3 168.1,354.3 168.5,354.3 168.9,354.3 169.4,354.3 169.8,354.3 170.3,354.3 170.8,354.3 171.2,354.3 171.7,354.3 172.1,354.3 172.6,354.3 173,354.3 173.4,354.3 173.9,354.3 174.3,354.3 174.8,354.3 175.2,354.3 175.7,354.3 176.2,354.3 176.6,354.3 177.1,354.3 177.5,354.3 177.9,354.3 178.4,354.3 178.9,354.3 179.3,354.3 179.8,354.3 180.2,354.3 180.7,354.3 181.1,354.3 181.6,354.3 182,354.3 182.5,354.3 182.9,354.3 183.4,354.3 183.8,354.3 184.2,354.3 184.7,354.3 185.1,354.3 185.6,354.3 186.1,354.3 186.5,354.3 186.9,354.3 187.4,354.3 187.8,354.3 188.3,354.3 188.8,354.3 189.2,354.3 189.7,354.3 190.1,354.3 190.6,354.3 191,354.3 191.4,354.3 191.9,354.3 192.3,354.3 192.8,354.3 193.2,354.3 193.7,354.3 194.2,354.3 194.6,354.3 195.1,354.3 195.5,354.3 195.9,354.3 196.4,354.3 196.8,354.3 197.3,354.3 197.8,354.3 198.2,354.3 198.7,354.3 199.1,354.3 199.6,354.3 200,354.3 200.4,354.3 200.9,354.3 201.4,354.3 201.8,354.3 202.2,354.3 202.7,354.3 203.2,354.3 203.6,354.3 204.1,354.3 204.5,354.3" fill="none" stroke="#3a86c8" stroke-width="2" stroke-linejoin="round"/>
<polyline points="69.5,354.3 70,354.3 70.4,354.3 70.8,354.3 71.3,354.3 71.8,354.3 72.2,354.3 72.7,354.3 73.1,354.3 73.6,354.3 74,354.3 74.5,354.3 74.9,354.3 75.3,354.3 75.8,354.3 76.2,354.3 76.7,354.3 77.2,354.3 77.6,354.3 78,354.3 78.5,354.3 78.9,354.3 79.4,354.3 79.8,354.3 80.3,354.3 80.8,354.3 81.2,354.3 81.7,354.3 82.1,354.3 82.6,354.3 83,354.3 83.5,354.3 83.9,354.3 84.3,354.3 84.8,354.3 85.2,354.3 85.7,354.3 86.2,354.3 86.6,354.3 87.1,354.3 87.5,354.3 88,354.3 88.4,354.3 88.8,354.3 89.3,354.3 89.8,354.3 90.2,354.3 90.7,354.3 91.1,354.3 91.5,354.3 92,354.3 92.5,354.3 92.9,354.3 93.3,354.3 93.8,354.3 94.2,354.3 94.7,354.3 95.2,354.3 95.6,354.3 96,354.3 96.5,354.3 97,354.3 97.4,354.3 97.8,354.3 98.3,354.3 98.8,354.3 99.2,354.3 99.7,354.3 100.1,354.3 100.6,354.3 101,354.3 101.4,354.3 101.9,354.3 102.3,354.3 102.8,354.3 103.2,354.3 103.7,354.3 104.2,354.3 104.6,354.3 105,354.3 105.5,354.3 106,354.3 106.4,354.3 106.8,354.3 107.3,354.3 107.8,354.3 108.2,354.3 108.7,354.3 109.1,354.3 109.5,354.3 110,354.3 110.5,354.3 110.9,354.3 111.3,354.3 111.8,354.3 112.2,354.3 112.7,354.3 113.2,354.3 113.6,354.3 114,354.3 114.5,354.3 115,354.3 115.4,354.3 115.8,354.3 116.3,354.3 116.8,354.3 117.2,354.3 117.7,354.3 118.1,354.3 118.6,354.3 119,354.3 119.5,354.3 119.9,354.3 120.4,354.3 120.8,354.3 121.2,354.2 121.7,354.2 122.1,354.2 122.6,354.1 123,354.1 123.5,354 124,353.9 124.4,353.7 124.8,353.5 125.3,353.3 125.8,353 126.2,352.6 126.7,352.1 127.1,351.5 127.5,350.8 128,350 128.4,349 128.9,347.8 129.3,346.5 129.8,345 130.2,343.4 130.7,341.6 131.2,339.6 131.6,337.5 132.1,335.3 132.5,333.1 132.9,330.8 133.4,328.6 133.8,326.5 134.3,324.5 134.8,322.7 135.2,321.1 135.7,319.9 136.1,319 136.6,318.4 137,318.2 137.4,318.4 137.9,319 138.3,319.9 138.8,321.1 139.2,322.7 139.7,324.5 140.2,326.5 140.6,328.6 141.1,330.8 141.5,333.1 142,335.3 142.4,337.5 142.8,339.6 143.3,341.6 143.8,343.4 144.2,345 144.7,346.5 145.1,347.8 145.6,349 146,350 146.4,350.8 146.9,351.5 147.3,352.1 147.8,352.6 148.2,353 148.7,353.3 149.2,353.5 149.6,353.7 150.1,353.9 150.5,354 150.9,354.1 151.4,354.1 151.8,354.2 152.3,354.2 152.8,354.2 153.2,354.3 153.7,354.3 154.1,354.3 154.6,354.3 155,354.3 155.5,354.3 155.9,354.3 156.3,354.3 156.8,354.3 157.2,354.3 157.7,354.3 158.2,354.3 158.6,354.3 159.1,354.3 159.5,354.3 160,354.3 160.4,354.3 160.9,354.3 161.3,354.3 161.8,354.3 162.2,354.3 162.6,354.3 163.1,354.3 163.5,354.3 164,354.3 164.4,354.3 164.9,354.3 165.3,354.3 165.8,354.3 166.2,354.3 166.7,354.3 167.2,354.3 167.6,354.3 168.1,354.3 168.5,354.3 168.9,354.3 169.4,354.3 169.8,354.3 170.3,354.3 170.8,354.3 171.2,354.3 171.7,354.3 172.1,354.3 172.6,354.3 173,354.3 173.4,354.3 173.9,354.3 174.3,354.3 174.8,354.3 175.2,354.3 175.7,354.3 176.2,354.3 176.6,354.3 177.1,354.3 177.5,354.3 177.9,354.3 178.4,354.3 178.9,354.3 179.3,354.3 179.8,354.3 180.2,354.3 180.7,354.3 181.1,354.3 181.6,354.3 182,354.3 182.5,354.3 182.9,354.3 183.4,354.3 183.8,354.3 184.2,354.3 184.7,354.3 185.1,354.3 185.6,354.3 186.1,354.3 186.5,354.3 186.9,354.3 187.4,354.3 187.8,354.3 188.3,354.3 188.8,354.3 189.2,354.3 189.7,354.3 190.1,354.3 190.6,354.3 191,354.3 191.4,354.3 191.9,354.3 192.3,354.3 192.8,354.3 193.2,354.3 193.7,354.3 194.2,354.3 194.6,354.3 195.1,354.3 195.5,354.3 195.9,354.3 196.4,354.3 196.8,354.3 197.3,354.3 197.8,354.3 198.2,354.3 198.7,354.3 199.1,354.3 199.6,354.3 200,354.3 200.4,354.3 200.9,354.3 201.4,354.3 201.8,354.3 202.2,354.3 202.7,354.3 203.2,354.3 203.6,354.3 204.1,354.3 204.5,354.3" fill="none" stroke="#e8262a" stroke-width="1.3" stroke-linejoin="round" stroke-dasharray="1.8 1.6"/>
<rect x="68.9" y="314.4" width="135.6" height="42.8" fill="none" stroke="#6e6e6e" stroke-width="1"/>
<text x="201.6" y="324.9" font-size="7.5" text-anchor="end" font-weight="bold" fill="#1e1e1e" font-family="Liberation Sans" transform="matrix(1 0 0 1.1 0 -32.2)" stroke="#1e1e1e" stroke-width="0.12">Input pulse</text>
<text x="67.2" y="320.6" font-size="8.8" text-anchor="end" font-weight="bold" fill="#1e1e1e" font-family="Liberation Sans" transform="matrix(1 0 0 1.1 0 -31.7)" stroke="#1e1e1e" stroke-width="0.2">1</text>
<text x="67.2" y="338.1" font-size="8.8" text-anchor="end" font-weight="bold" fill="#1e1e1e" font-family="Liberation Sans" transform="matrix(1 0 0 1.1 0 -33.5)" stroke="#1e1e1e" stroke-width="0.2">0.5</text>
<text x="67.2" y="355.4" font-size="8.8" text-anchor="end" font-weight="bold" fill="#1e1e1e" font-family="Liberation Sans" transform="matrix(1 0 0 1.1 0 -35.2)" stroke="#1e1e1e" stroke-width="0.2">0</text>
<text x="35" y="333.8" font-size="9.2" text-anchor="middle" font-weight="bold" fill="#1e1e1e" font-family="Liberation Sans" transform="rotate(-90 35 330.5)" stroke="#1e1e1e" stroke-width="0.2">Magnitude</text>
<text x="46.7" y="333.8" font-size="9.2" text-anchor="middle" font-weight="bold" fill="#1e1e1e" font-family="Liberation Sans" transform="rotate(-90 46.7 330.5)" stroke="#1e1e1e" stroke-width="0.2">(a.u.)</text>
<text x="92" y="369.2" font-size="8.8" text-anchor="middle" font-weight="bold" fill="#1e1e1e" font-family="Liberation Sans" transform="matrix(1 0 0 1.1 0 -36.6)" stroke="#1e1e1e" stroke-width="0.2">-1</text>
<text x="137.5" y="369.2" font-size="8.8" text-anchor="middle" font-weight="bold" fill="#1e1e1e" font-family="Liberation Sans" transform="matrix(1 0 0 1.1 0 -36.6)" stroke="#1e1e1e" stroke-width="0.2">0</text>
<text x="182.5" y="369.2" font-size="8.8" text-anchor="middle" font-weight="bold" fill="#1e1e1e" font-family="Liberation Sans" transform="matrix(1 0 0 1.1 0 -36.6)" stroke="#1e1e1e" stroke-width="0.2">1</text>
<text x="137.5" y="380.4" font-size="8.8" text-anchor="middle" font-weight="bold" fill="#1e1e1e" font-family="Liberation Sans" transform="matrix(1 0 0 1.1 0 -37.7)" stroke="#1e1e1e" stroke-width="0.2">Time (ns)</text>
<polygon points="70,432.3 70,393.8 70.5,393.8 71,393.8 71.5,393.9 72,393.9 72.5,394 73,394 73.5,394.1 74,394.2 74.5,394.4 75,394.5 75.5,394.6 76,394.8 76.5,395 77,395.1 77.5,395.3 78,395.6 78.5,395.8 79,396 79.5,396.3 80,396.6 80.5,396.8 81,397.1 81.5,397.4 82,397.8 82.5,398.1 83,398.4 83.5,398.8 84,399.2 84.5,399.6 85,400 85.5,400.4 86,400.8 86.5,401.3 87,401.7 87.5,402.2 88,402.7 88.5,403.2 89,403.7 89.5,404.3 90,404.8 90.5,405.4 91,405.9 91.5,406.5 92,407.1 92.5,407.7 93,408.3 93.5,409 94,409.6 94.5,410.3 95,411 95.5,411.7 96,412.4 96.5,413.1 97,413.8 97.5,414.6 98,415.4 98.5,416.1 99,416.9 99.5,417.7 100,418.6 100.5,419.8 101,419.8 101.5,421.3 102,421.5 102.5,422.7 103,423.5 103.5,424.4 104,426.5 104.5,424.8 105,425.9 105.5,425.8 106,425.9 106.5,425.3 107,425.6 107.5,424.4 108,424.4 108.5,424.7 109,424.6 109.5,424.4 110,424.5 110.5,425.5 111,424.7 111.5,426.5 112,425.8 112.5,425.5 113,425.9 113.5,424.8 114,426.4 114.5,426.2 115,425.9 115.5,425.4 116,426.2 116.5,426 117,425.8 117.5,426.4 118,425.7 118.5,425.1 119,425.5 119.5,424.8 120,425 120.5,426.5 121,426.9 121.5,427.5 122,427.5 122.5,427 123,426.1 123.5,427.3 124,428.6 124.5,428.5 125,428 125.5,427.8 126,427.1 126.5,426.9 127,426.6 127.5,428.4 128,427.7 128.5,426.4 129,427 129.5,426 130,426.3 130.5,427.4 131,427.1 131.5,426.4 132,425.7 132.5,426.4 133,427 133.5,425.5 134,424.4 134.5,424.2 135,424 135.5,425.9 136,424.7 136.5,425.2 137,423.4 137.5,423.4 138,424.2 138.5,424.4 139,422.7 139.5,421.7 140,423.3 140.5,421.5 141,422.2 141.5,420.4 142,421.4 142.5,421.4 143,420.9 143.5,419.9 144,420.6 144.5,419 145,419.3 145.5,419.4 146,420.3 146.5,418.4 147,420 147.5,419.6 148,419.9 148.5,418.4 149,418 149.5,418 150,419.4 150.5,419.7 151,419 151.5,418.5 152,418 152.5,419.3 153,419.3 153.5,417.4 154,417.7 154.5,419.2 155,419.2 155.5,417.9 156,417.8 156.5,418.4 157,418.8 157.5,418 158,419.9 158.5,419.4 159,420.2 159.5,419.1 160,421 160.5,420.7 161,419.9 161.5,421.6 162,421.4 162.5,422.2 163,420.8 163.5,421.4 164,423.5 164.5,423 165,424 165.5,423.7 166,425.6 166.5,424.5 167,425.3 167.5,423.5 168,424.4 168.5,423.4 169,425.4 169.5,424.4 170,423.5 170.5,423.5 171,424.6 171.5,423.4 172,423.4 172.5,423.7 173,423.6 173.5,423.6 174,423.4 174.5,422.6 175,422.9 175.5,421.5 176,421.6 176.5,422.6 177,420.8 177.5,420.9 178,420.9 178.5,421.4 179,420.2 179.5,420.2 180,421.2 180.5,420.4 181,421.6 181.5,421.8 182,421.3 182.5,421.5 183,420.7 183.5,419.8 184,420.7 184.5,420.5 185,421 185.5,419.8 186,420 186.5,421.4 187,420 187.5,420.3 188,421.4 188.5,419.8 189,419.4 189.5,420.6 190,420.2 190.5,420.2 191,418.8 191.5,419.6 192,418.5 192.5,419 193,420 193.5,418.4 194,418.9 194.5,420.5 195,420.3 195.5,419.1 196,419.6 196.5,419.3 197,418.8 197.5,419.6 198,417.9 198.5,419.3 199,417.3 199.5,419.2 200,418.7 200.5,418 201,418.4 201.5,417.8 202,418.5 202.5,416.8 203,417.6 203.5,418.4 203.6,432.3" fill="#2380c8"/>
<polyline points="100.5,422 101,421.3 101.5,422.6 102,424 102.5,422.6 103,423.6 103.5,425 104,424.1 104.5,425.6 105,425.3 105.5,425.7 106,425.4 106.5,426.2 107,425.1 107.5,425.6 108,424.7 108.5,425.7 109,425.6 109.5,426.8 110,426.7 110.5,425.2 111,425.1 111.5,425.2 112,425.4 112.5,426.5 113,426.1 113.5,426.1 114,425.9 114.5,425 115,425.8 115.5,427 116,426.6 116.5,426.1 117,425.4 117.5,426.8 118,425.8 118.5,426.2 119,425.4 119.5,425.9 120,426.1 120.5,426.4 121,425.9 121.5,427.4 122,426.6 122.5,427.7 123,427.9 123.5,428.3 124,427.7 124.5,427.9 125,429 125.5,428.2 126,427.6 126.5,428.9 127,427 127.5,428.6 128,427.3 128.5,427.4 129,428.5 129.5,427.2 130,427.7 130.5,426.9 131,427.8 131.5,427.2 132,426.5 132.5,425.5 133,425.9 133.5,425.9 134,425.3 134.5,425.6 135,424.7 135.5,425.1 136,424.9 136.5,425 137,424.9 137.5,424.7 138,423.8 138.5,423.6 139,424.1 139.5,422.8 140,423.2 140.5,423.4 141,423 141.5,421.9 142,421.1 142.5,421.6 143,421.5 143.5,421.1 144,420.5 144.5,420.6 145,419.7 145.5,419.9 146,419.5 146.5,420.3 147,420.8 147.5,419 148,418.6 148.5,420 149,419.1 149.5,419.4 150,418.5 150.5,418.7 151,419.7 151.5,419.5 152,420 152.5,420.1 153,418.9 153.5,419.4 154,419 154.5,419.1 155,418.8 155.5,420 156,419.2 156.5,418.5 157,419.9 157.5,420.7 158,420.8 158.5,420.4 159,419.5 159.5,421.4 160,421.9 160.5,422.1 161,422.1 161.5,422.6 162,424 162.5,423.3 163,425.3 163.5,425.4 164,425.1 164.5,427.1 165,426.8 165.5,426.7 166,427.3 166.5,429.2 167,428.3 167.5,430.1 168,430.6 168.5,429.3 169,430 169.5,430.8 170,430.3 170.5,431.1 171,430.3 171.5,430.8 172,430.1 172.5,431.4 173,431.5 173.5,431 174,430.6 174.5,430.6 175,431 175.5,430 176,430.6 176.5,430.1 177,430.1 177.5,429.9 178,430.9 178.5,429.5 179,429.5 179.5,429 180,428.4 180.5,429 181,429.5 181.5,429.3 182,428.2 182.5,427.7 183,428.3 183.5,427.4 184,427.1 184.5,427.1 185,425.8 185.5,427.2 186,425.5 186.5,426.2 187,426.9 187.5,425.9 188,425.4 188.5,426 189,426.1 189.5,425.4 190,424.1 190.5,425.8 191,424.2 191.5,425.6 192,426.1 192.5,424.7 193,425.6 193.5,426 194,425 194.5,425.2 195,425 195.5,425.2 196,425.2 196.5,425.4 197,426.2 197.5,426 198,426 198.5,425.7 199,425.8 199.5,424.4 200,425.1 200.5,423.9 201,424.7 201.5,425.2 202,424.4 202.5,423.9 203,423.7 203.5,423.8" fill="none" stroke="#e04848" stroke-width="0.7" stroke-linejoin="round"/>
<line x1="110.6" y1="428" x2="110.6" y2="414.8" stroke="#d07070" stroke-width="0.6"/>
<line x1="120.8" y1="428" x2="120.8" y2="421.6" stroke="#d07070" stroke-width="0.6"/>
<line x1="131.4" y1="428" x2="131.4" y2="422" stroke="#d07070" stroke-width="0.6"/>
<line x1="152" y1="428" x2="152" y2="402.3" stroke="#d07070" stroke-width="0.6"/>
<line x1="193.4" y1="428" x2="193.4" y2="414.8" stroke="#d07070" stroke-width="0.6"/>
<line x1="144" y1="428" x2="144" y2="416" stroke="#d07070" stroke-width="0.6"/>
<line x1="71" y1="432.3" x2="71" y2="430.5" stroke="#6e6e6e" stroke-width="0.6"/>
<line x1="71" y1="388.4" x2="71" y2="390.2" stroke="#6e6e6e" stroke-width="0.6"/>
<line x1="122.5" y1="432.3" x2="122.5" y2="430.5" stroke="#6e6e6e" stroke-width="0.6"/>
<line x1="122.5" y1="388.4" x2="122.5" y2="390.2" stroke="#6e6e6e" stroke-width="0.6"/>
<line x1="174" y1="432.3" x2="174" y2="430.5" stroke="#6e6e6e" stroke-width="0.6"/>
<line x1="174" y1="388.4" x2="174" y2="390.2" stroke="#6e6e6e" stroke-width="0.6"/>
<line x1="69.8" y1="399.6" x2="71.6" y2="399.6" stroke="#6e6e6e" stroke-width="0.6"/>
<line x1="203.6" y1="399.6" x2="201.8" y2="399.6" stroke="#6e6e6e" stroke-width="0.6"/>
<line x1="69.8" y1="412.5" x2="71.6" y2="412.5" stroke="#6e6e6e" stroke-width="0.6"/>
<line x1="203.6" y1="412.5" x2="201.8" y2="412.5" stroke="#6e6e6e" stroke-width="0.6"/>
<line x1="69.8" y1="425.2" x2="71.6" y2="425.2" stroke="#6e6e6e" stroke-width="0.6"/>
<line x1="203.6" y1="425.2" x2="201.8" y2="425.2" stroke="#6e6e6e" stroke-width="0.6"/>
<rect x="69.8" y="388.4" width="133.8" height="43.9" fill="none" stroke="#6e6e6e" stroke-width="1"/>
<text x="200.3" y="397.3" font-size="7.5" text-anchor="end" font-weight="bold" fill="#1e1e1e" font-family="Liberation Sans" transform="matrix(1 0 0 1.1 0 -39.5)" stroke="#1e1e1e" stroke-width="0.12">Input pulse</text>
<text x="67.4" y="402.8" font-size="8.8" text-anchor="end" font-weight="bold" fill="#1e1e1e" font-family="Liberation Sans" transform="matrix(1 0 0 1.1 0 -40)" stroke="#1e1e1e" stroke-width="0.2">0</text>
<text x="67.4" y="416" font-size="8.8" text-anchor="end" font-weight="bold" fill="#1e1e1e" font-family="Liberation Sans" transform="matrix(1 0 0 1.1 0 -41.3)" stroke="#1e1e1e" stroke-width="0.2">-20</text>
<text x="67.4" y="427.8" font-size="8.8" text-anchor="end" font-weight="bold" fill="#1e1e1e" font-family="Liberation Sans" transform="matrix(1 0 0 1.1 0 -42.5)" stroke="#1e1e1e" stroke-width="0.2">-40</text>
<text x="33" y="412.8" font-size="9.1" text-anchor="middle" font-weight="bold" fill="#1e1e1e" font-family="Liberation Sans" transform="rotate(-90 33 409.5)" stroke="#1e1e1e" stroke-width="0.2">Normalized</text>
<text x="45" y="413.2" font-size="8.8" text-anchor="middle" font-weight="bold" fill="#1e1e1e" font-family="Liberation Sans" transform="rotate(-90 45 410)" stroke="#1e1e1e" stroke-width="0.2">power (dBm)</text>
<text x="71" y="442.6" font-size="8.8" text-anchor="middle" font-weight="bold" fill="#1e1e1e" font-family="Liberation Sans" transform="matrix(1 0 0 1.1 0 -43.9)" stroke="#1e1e1e" stroke-width="0.2">0</text>
<text x="123.5" y="442.6" font-size="8.8" text-anchor="middle" font-weight="bold" fill="#1e1e1e" font-family="Liberation Sans" transform="matrix(1 0 0 1.1 0 -43.9)" stroke="#1e1e1e" stroke-width="0.2">10</text>
<text x="174.4" y="442.6" font-size="8.8" text-anchor="middle" font-weight="bold" fill="#1e1e1e" font-family="Liberation Sans" transform="matrix(1 0 0 1.1 0 -43.9)" stroke="#1e1e1e" stroke-width="0.2">20</text>
<text x="144.5" y="456.3" font-size="9.3" text-anchor="middle" font-weight="bold" fill="#1e1e1e" font-family="Liberation Sans" transform="matrix(1 0 0 1.1 0 -45.3)" stroke="#1e1e1e" stroke-width="0.2">Frequency (GHz)</text>
<text x="62" y="455.5" font-size="8.2" text-anchor="middle" font-weight="bold" fill="#1e1e1e" font-family="Liberation Sans" transform="matrix(1 0 0 1.1 0 -45.3)" stroke="#1e1e1e" stroke-width="0.2">(a)</text>
<text x="232.5" y="455.5" font-size="8.2" text-anchor="middle" font-weight="bold" fill="#1e1e1e" font-family="Liberation Sans" transform="matrix(1 0 0 1.1 0 -45.3)" stroke="#1e1e1e" stroke-width="0.2">(b)</text>
<line x1="265" y1="344.5" x2="265" y2="342.7" stroke="#6e6e6e" stroke-width="0.6"/>
<line x1="265" y1="301.9" x2="265" y2="303.7" stroke="#6e6e6e" stroke-width="0.6"/>
<line x1="310" y1="344.5" x2="310" y2="342.7" stroke="#6e6e6e" stroke-width="0.6"/>
<line x1="310" y1="301.9" x2="310" y2="303.7" stroke="#6e6e6e" stroke-width="0.6"/>
<line x1="355" y1="344.5" x2="355" y2="342.7" stroke="#6e6e6e" stroke-width="0.6"/>
<line x1="355" y1="301.9" x2="355" y2="303.7" stroke="#6e6e6e" stroke-width="0.6"/>
<line x1="241" y1="305.5" x2="242.8" y2="305.5" stroke="#6e6e6e" stroke-width="0.6"/>
<line x1="376.2" y1="305.5" x2="374.4" y2="305.5" stroke="#6e6e6e" stroke-width="0.6"/>
<line x1="241" y1="323.5" x2="242.8" y2="323.5" stroke="#6e6e6e" stroke-width="0.6"/>
<line x1="376.2" y1="323.5" x2="374.4" y2="323.5" stroke="#6e6e6e" stroke-width="0.6"/>
<line x1="241" y1="340.5" x2="242.8" y2="340.5" stroke="#6e6e6e" stroke-width="0.6"/>
<line x1="376.2" y1="340.5" x2="374.4" y2="340.5" stroke="#6e6e6e" stroke-width="0.6"/>
<polyline points="241,323.4 241.7,323.6 242.4,323.7 243.1,323.4 243.8,323.6 244.5,323.6 245.2,323.4 245.9,323.5 246.6,323.5 247.3,323.5 248,323.3 248.7,323.5 249.4,323.6 250.1,323.7 250.8,323.7 251.5,323.5 252.2,323.7 252.9,323.6 253.6,323.3 254.3,323.6 255,323.5 255.7,323.6 256.4,323.5 257.1,323.6 257.8,323.5 258.5,323.5 259.2,323.6 259.9,323.5 260.6,323.5 261.3,323.7 262,323.5 262.7,323.4 263.4,323.4 264.1,323.3 264.8,323.4 265.5,323.7 266.2,323.4 266.9,323.5 267.6,323.4 268.3,323.4 269,323.7 269.7,323.6 270.4,323.4 271.1,323.5 271.8,323.4 272.5,323.4 273.2,323.4 273.9,323.4 274.6,323.5 275.3,323.6 276,323.6 276.7,323.5 277.4,323.3 278.1,323.5 278.8,323.4 279.5,323.6 280.2,323.6 280.9,323.6 281.6,323.5 282.3,323.3 283,323.6 283.7,323.6 284.4,323.3 285.1,323.5 285.8,323.6 286.5,323.4 287.2,323.7 287.9,323.5 288.6,323.4 289.3,323.7 290,323.5 290.7,323.4 291.4,323.6 292.1,323.3 292.8,323.7 293.5,323.4 294.2,323.5 294.9,323.5 295.6,323.6 296.3,323.6 297,323.3 297.7,323.4 298.4,323.2 299.1,322.9 299.8,322.7 300.5,322.3 301.2,321.6 301.9,320.7 302.6,319.3 303.3,317 304,314.2 304.7,311.9 305.4,309.7 306.1,307.8 306.8,306.5 307.5,305.4 308.2,304.4 308.9,303.8 309.6,303.6 310.3,304 311,304.8 311.7,305.9 312.4,307.2 313.1,309.5 313.8,312.4 314.5,314.9 315.2,317.5 315.9,319.7 316.6,321.7 317.3,323.7 318,325.3 318.7,326.3 319.4,326.2 320.1,325.6 320.8,325.2 321.5,325 322.2,324.8 322.9,324.7 323.6,324.5 324.3,324.4 325,324.4 325.7,324.1 326.4,323.9 327.1,323.8 327.8,323.8 328.5,323.7 329.2,323.6 329.9,323.9 330.6,323.8 331.3,323.7 332,323.6 332.7,323.5 333.4,323.6 334.1,323.9 334.8,323.4 335.5,323.7 336.2,323.7 336.9,323.7 337.6,323.6 338.3,323.7 339,323.5 339.7,323.7 340.4,323.8 341.1,323.5 341.8,323.5 342.5,323.6 343.2,323.7 343.9,323.8 344.6,323.7 345.3,323.5 346,323.4 346.7,323.6 347.4,323.6 348.1,323.4 348.8,323.6 349.5,323.6 350.2,323.7 350.9,323.4 351.6,323.6 352.3,323.4 353,323.5 353.7,323.5 354.4,323.7 355.1,323.9 355.8,323.6 356.5,323.6 357.2,323.6 357.9,323.4 358.6,323.6 359.3,323.4 360,323.7 360.7,323.7 361.4,323.6 362.1,323.4 362.8,323.7 363.5,323.5 364.2,323.5 364.9,323.6 365.6,323.3 366.3,323.6 367,323.6 367.7,323.5 368.4,323.5 369.1,323.4 369.8,323.6 370.5,323.5 371.2,323.5 371.9,323.4 372.6,323.6 373.3,323.7 374,323.5 374.7,323.6 375.4,323.7 376.1,323.7" fill="none" stroke="#2c84cc" stroke-width="1.8" stroke-linejoin="round"/>
<polyline points="241,323.5 241.5,323.5 242,323.5 242.5,323.5 243,323.5 243.5,323.5 244,323.5 244.5,323.5 245,323.5 245.5,323.5 246,323.5 246.5,323.5 247,323.5 247.5,323.5 248,323.5 248.5,323.5 249,323.5 249.5,323.5 250,323.5 250.5,323.5 251,323.5 251.5,323.5 252,323.5 252.5,323.5 253,323.5 253.5,323.5 254,323.5 254.5,323.5 255,323.5 255.5,323.5 256,323.5 256.5,323.5 257,323.5 257.5,323.5 258,323.5 258.5,323.5 259,323.5 259.5,323.5 260,323.5 260.5,323.5 261,323.5 261.5,323.5 262,323.5 262.5,323.5 263,323.5 263.5,323.5 264,323.5 264.5,323.5 265,323.5 265.5,323.5 266,323.5 266.5,323.5 267,323.5 267.5,323.5 268,323.5 268.5,323.5 269,323.5 269.5,323.5 270,323.5 270.5,323.5 271,323.5 271.5,323.5 272,323.5 272.5,323.5 273,323.5 273.5,323.5 274,323.5 274.5,323.5 275,323.5 275.5,323.5 276,323.5 276.5,323.5 277,323.5 277.5,323.5 278,323.5 278.5,323.5 279,323.5 279.5,323.5 280,323.5 280.5,323.5 281,323.5 281.5,323.5 282,323.5 282.5,323.5 283,323.5 283.5,323.5 284,323.5 284.5,323.5 285,323.5 285.5,323.5 286,323.5 286.5,323.5 287,323.5 287.5,323.5 288,323.5 288.5,323.5 289,323.5 289.5,323.5 290,323.5 290.5,323.5 291,323.5 291.5,323.5 292,323.5 292.5,323.5 293,323.5 293.5,323.5 294,323.5 294.5,323.5 295,323.5 295.5,323.5 296,323.5 296.5,323.5 297,323.4 297.5,323.4 298,323.3 298.5,323.2 299,323 299.5,322.9 300,322.7 300.5,322.4 301,321.9 301.5,321.2 302,320.4 302.5,319.5 303,318.3 303.5,316.6 304,314.8 304.5,313.2 305,311.6 305.5,310 306,308.6 306.5,307.4 307,306.5 307.5,305.6 308,304.8 308.5,304.2 309,303.6 309.5,303.4 310,303.3 310.5,303.6 311,304.2 311.5,305 312,306 312.5,307 313,308.4 313.5,310.3 314,312.4 314.5,314.2 315,316.1 315.5,317.8 316,319.4 316.5,320.8 317,322.2 317.5,323.5 318,324.5 318.5,325 319,325 319.5,324.9 320,324.9 320.5,324.8 321,324.7 321.5,324.6 322,324.5 322.5,324.5 323,324.4 323.5,324.3 324,324.2 324.5,324.2 325,324.1 325.5,324 326,324 326.5,324 327,323.9 327.5,323.9 328,323.8 328.5,323.8 329,323.7 329.5,323.7 330,323.7 330.5,323.6 331,323.6 331.5,323.6 332,323.6 332.5,323.6 333,323.6 333.5,323.6 334,323.6 334.5,323.6 335,323.6 335.5,323.6 336,323.6 336.5,323.6 337,323.6 337.5,323.6 338,323.6 338.5,323.6 339,323.6 339.5,323.6 340,323.6 340.5,323.6 341,323.6 341.5,323.6 342,323.6 342.5,323.6 343,323.5 343.5,323.5 344,323.5 344.5,323.5 345,323.5 345.5,323.5 346,323.5 346.5,323.5 347,323.5 347.5,323.5 348,323.5 348.5,323.5 349,323.5 349.5,323.5 350,323.5 350.5,323.5 351,323.5 351.5,323.5 352,323.5 352.5,323.5 353,323.5 353.5,323.5 354,323.5 354.5,323.5 355,323.5 355.5,323.5 356,323.5 356.5,323.5 357,323.5 357.5,323.5 358,323.5 358.5,323.5 359,323.5 359.5,323.5 360,323.5 360.5,323.5 361,323.5 361.5,323.5 362,323.5 362.5,323.5 363,323.5 363.5,323.5 364,323.5 364.5,323.5 365,323.5 365.5,323.5 366,323.5 366.5,323.5 367,323.5 367.5,323.5 368,323.5 368.5,323.5 369,323.5 369.5,323.5 370,323.5 370.5,323.5 371,323.5 371.5,323.5 372,323.5 372.5,323.5 373,323.5 373.5,323.5 374,323.5 374.5,323.5 375,323.5 375.5,323.5 376,323.5" fill="none" stroke="#e8262a" stroke-width="1.8" stroke-linejoin="round" stroke-dasharray="1.9 1.6"/>
<rect x="241" y="301.9" width="135.2" height="42.6" fill="none" stroke="#6e6e6e" stroke-width="1"/>
<text x="243.6" y="342.6" font-size="6.4" text-anchor="start" font-weight="bold" fill="#1e1e1e" font-family="Liberation Sans" transform="matrix(1 0 0 1.1 0 -34)">Fractional order: 0.15</text>
<line x1="402.5" y1="346.3" x2="402.5" y2="344.5" stroke="#6e6e6e" stroke-width="0.6"/>
<line x1="402.5" y1="303.2" x2="402.5" y2="305" stroke="#6e6e6e" stroke-width="0.6"/>
<line x1="447.5" y1="346.3" x2="447.5" y2="344.5" stroke="#6e6e6e" stroke-width="0.6"/>
<line x1="447.5" y1="303.2" x2="447.5" y2="305" stroke="#6e6e6e" stroke-width="0.6"/>
<line x1="492.5" y1="346.3" x2="492.5" y2="344.5" stroke="#6e6e6e" stroke-width="0.6"/>
<line x1="492.5" y1="303.2" x2="492.5" y2="305" stroke="#6e6e6e" stroke-width="0.6"/>
<line x1="380.5" y1="306.8" x2="382.3" y2="306.8" stroke="#6e6e6e" stroke-width="0.6"/>
<line x1="515.8" y1="306.8" x2="514" y2="306.8" stroke="#6e6e6e" stroke-width="0.6"/>
<line x1="380.5" y1="324.8" x2="382.3" y2="324.8" stroke="#6e6e6e" stroke-width="0.6"/>
<line x1="515.8" y1="324.8" x2="514" y2="324.8" stroke="#6e6e6e" stroke-width="0.6"/>
<line x1="380.5" y1="341.8" x2="382.3" y2="341.8" stroke="#6e6e6e" stroke-width="0.6"/>
<line x1="515.8" y1="341.8" x2="514" y2="341.8" stroke="#6e6e6e" stroke-width="0.6"/>
<polyline points="380.5,324.8 381.2,324.8 381.9,324.8 382.6,324.8 383.3,324.9 384,324.9 384.7,324.7 385.4,324.8 386.1,324.7 386.8,325 387.5,324.8 388.2,324.8 388.9,324.7 389.6,324.8 390.3,324.7 391,325 391.7,324.8 392.4,324.8 393.1,324.7 393.8,324.7 394.5,324.9 395.2,325 395.9,324.6 396.6,324.7 397.3,324.8 398,324.7 398.7,324.6 399.4,324.8 400.1,324.9 400.8,324.6 401.5,324.8 402.2,324.9 402.9,324.9 403.6,324.7 404.3,325.1 405,324.9 405.7,324.7 406.4,324.9 407.1,324.7 407.8,324.9 408.5,324.6 409.2,324.9 409.9,324.7 410.6,324.9 411.3,324.9 412,324.9 412.7,324.8 413.4,324.9 414.1,324.6 414.8,324.9 415.5,324.8 416.2,324.8 416.9,324.8 417.6,325.1 418.3,324.6 419,324.6 419.7,324.5 420.4,324.5 421.1,324 421.8,324.3 422.5,323.9 423.2,323.6 423.9,323.6 424.6,323.6 425.3,323.5 426,323.3 426.7,323.3 427.4,323 428.1,322.8 428.8,322.4 429.5,322.5 430.2,322.4 430.9,322 431.6,321.6 432.3,321.4 433,321.5 433.7,321 434.4,320.8 435.1,320.5 435.8,320.4 436.5,319.9 437.2,319.5 437.9,319 438.6,318.7 439.3,318.1 440,317.1 440.7,315.9 441.4,314.6 442.1,313.3 442.8,311.8 443.5,309.7 444.2,307.4 444.9,305.8 445.6,305.2 446.3,305.7 447,306.7 447.7,308.1 448.4,311.9 449.1,316.9 449.8,321.9 450.5,327.5 451.2,332.5 451.9,336.6 452.6,340.2 453.3,341.4 454,340.5 454.7,339 455.4,337.6 456.1,336 456.8,334.5 457.5,333.2 458.2,331.8 458.9,331 459.6,330.2 460.3,329.6 461,329.1 461.7,328.5 462.4,328 463.1,327.5 463.8,327.2 464.5,326.8 465.2,326.8 465.9,326.3 466.6,325.8 467.3,325.6 468,325.8 468.7,325.2 469.4,325.2 470.1,325.2 470.8,324.9 471.5,325.1 472.2,325.1 472.9,324.7 473.6,324.8 474.3,324.6 475,324.5 475.7,324.6 476.4,324.6 477.1,324.5 477.8,324.7 478.5,324.4 479.2,324.5 479.9,324.5 480.6,324.7 481.3,324.7 482,324.7 482.7,324.4 483.4,324.6 484.1,324.7 484.8,324.4 485.5,324.5 486.2,324.7 486.9,324.7 487.6,324.6 488.3,324.7 489,324.6 489.7,324.6 490.4,324.6 491.1,324.5 491.8,324.6 492.5,324.6 493.2,324.9 493.9,324.6 494.6,324.6 495.3,324.6 496,324.6 496.7,324.6 497.4,324.7 498.1,324.6 498.8,324.7 499.5,324.6 500.2,324.7 500.9,324.8 501.6,324.5 502.3,324.7 503,324.7 503.7,324.6 504.4,324.6 505.1,324.5 505.8,324.8 506.5,324.6 507.2,324.5 507.9,324.8 508.6,324.5 509.3,324.8 510,324.8 510.7,324.8 511.4,324.7 512.1,324.6 512.8,324.5 513.5,324.9 514.2,324.7 514.9,324.7 515.6,325" fill="none" stroke="#2c84cc" stroke-width="1.8" stroke-linejoin="round"/>
<polyline points="380.5,325.3 381,325.3 381.5,325.3 382,325.3 382.5,325.3 383,325.3 383.5,325.3 384,325.3 384.5,325.3 385,325.3 385.5,325.3 386,325.3 386.5,325.3 387,325.3 387.5,325.3 388,325.3 388.5,325.3 389,325.3 389.5,325.3 390,325.3 390.5,325.3 391,325.3 391.5,325.3 392,325.3 392.5,325.3 393,325.3 393.5,325.3 394,325.3 394.5,325.3 395,325.3 395.5,325.3 396,325.3 396.5,325.3 397,325.3 397.5,325.3 398,325.3 398.5,325.3 399,325.3 399.5,325.3 400,325.3 400.5,325.3 401,325.3 401.5,325.3 402,325.3 402.5,325.3 403,325.3 403.5,325.3 404,325.3 404.5,325.3 405,325.3 405.5,325.3 406,325.3 406.5,325.3 407,325.3 407.5,325.3 408,325.3 408.5,325.3 409,325.3 409.5,325.3 410,325.3 410.5,325.3 411,325.3 411.5,325.3 412,325.3 412.5,325.3 413,325.3 413.5,325.3 414,325.3 414.5,325.3 415,325.3 415.5,325.3 416,325.3 416.5,325.3 417,325.3 417.5,325.3 418,325.3 418.5,325.3 419,325.3 419.5,325.3 420,325.3 420.5,325.3 421,325.3 421.5,325.3 422,325.3 422.5,325.3 423,325.3 423.5,325.3 424,325.3 424.5,325.3 425,325.3 425.5,325.3 426,325.3 426.5,325.3 427,325.3 427.5,325.3 428,325.3 428.5,325.3 429,325.3 429.5,325.3 430,325.3 430.5,325.3 431,325.3 431.5,325.3 432,325.3 432.5,325.3 433,325.3 433.5,325.3 434,325.3 434.5,325.3 435,325.3 435.5,325.3 436,325.3 436.5,325.3 437,325.2 437.5,325 438,324.5 438.5,324 439,323.4 439.5,322.7 440,322 440.5,321.1 441,319.9 441.5,318.6 442,317.1 442.5,315.7 443,314.3 443.5,312.9 444,311.7 444.5,310.2 445,308.7 445.5,307.2 446,305.9 446.5,304.8 447,304.1 447.5,303.8 448,304.4 448.5,305.9 449,308.1 449.5,310.4 450,312.7 450.5,315.1 451,317.8 451.5,320.7 452,323.3 452.5,325.5 453,327.4 453.5,329.3 454,331.1 454.5,332.6 455,333.7 455.5,334.3 456,334.4 456.5,334.1 457,333.8 457.5,333.3 458,332.7 458.5,332.2 459,331.7 459.5,331.2 460,330.8 460.5,330.4 461,329.9 461.5,329.5 462,329.1 462.5,328.7 463,328.3 463.5,328 464,327.7 464.5,327.4 465,327.2 465.5,327.1 466,326.9 466.5,326.7 467,326.5 467.5,326.4 468,326.2 468.5,326.1 469,326 469.5,325.8 470,325.7 470.5,325.7 471,325.6 471.5,325.5 472,325.5 472.5,325.5 473,325.5 473.5,325.5 474,325.5 474.5,325.5 475,325.5 475.5,325.5 476,325.5 476.5,325.5 477,325.4 477.5,325.4 478,325.4 478.5,325.4 479,325.4 479.5,325.4 480,325.4 480.5,325.4 481,325.4 481.5,325.4 482,325.4 482.5,325.4 483,325.4 483.5,325.4 484,325.4 484.5,325.4 485,325.4 485.5,325.4 486,325.4 486.5,325.4 487,325.4 487.5,325.4 488,325.4 488.5,325.4 489,325.4 489.5,325.4 490,325.4 490.5,325.4 491,325.4 491.5,325.3 492,325.3 492.5,325.3 493,325.3 493.5,325.3 494,325.3 494.5,325.3 495,325.3 495.5,325.3 496,325.3 496.5,325.3 497,325.3 497.5,325.3 498,325.3 498.5,325.3 499,325.3 499.5,325.3 500,325.3 500.5,325.3 501,325.3 501.5,325.3 502,325.3 502.5,325.3 503,325.3 503.5,325.3 504,325.3 504.5,325.3 505,325.3 505.5,325.3 506,325.3 506.5,325.3 507,325.3 507.5,325.3 508,325.3 508.5,325.3 509,325.3 509.5,325.3 510,325.3 510.5,325.3 511,325.3 511.5,325.3 512,325.3 512.5,325.3 513,325.3 513.5,325.3 514,325.3 514.5,325.3 515,325.3 515.5,325.3" fill="none" stroke="#e8262a" stroke-width="1.8" stroke-linejoin="round" stroke-dasharray="1.9 1.6"/>
<rect x="380.5" y="303.2" width="135.3" height="43.1" fill="none" stroke="#6e6e6e" stroke-width="1"/>
<text x="384.3" y="344.4" font-size="6.4" text-anchor="start" font-weight="bold" fill="#1e1e1e" font-family="Liberation Sans" transform="matrix(1 0 0 1.1 0 -34.2)">Fractional order: 0.60</text>
<line x1="265" y1="388.6" x2="265" y2="386.8" stroke="#6e6e6e" stroke-width="0.6"/>
<line x1="265" y1="345.5" x2="265" y2="347.3" stroke="#6e6e6e" stroke-width="0.6"/>
<line x1="310" y1="388.6" x2="310" y2="386.8" stroke="#6e6e6e" stroke-width="0.6"/>
<line x1="310" y1="345.5" x2="310" y2="347.3" stroke="#6e6e6e" stroke-width="0.6"/>
<line x1="355" y1="388.6" x2="355" y2="386.8" stroke="#6e6e6e" stroke-width="0.6"/>
<line x1="355" y1="345.5" x2="355" y2="347.3" stroke="#6e6e6e" stroke-width="0.6"/>
<line x1="241" y1="349.3" x2="242.8" y2="349.3" stroke="#6e6e6e" stroke-width="0.6"/>
<line x1="376.2" y1="349.3" x2="374.4" y2="349.3" stroke="#6e6e6e" stroke-width="0.6"/>
<line x1="241" y1="367.3" x2="242.8" y2="367.3" stroke="#6e6e6e" stroke-width="0.6"/>
<line x1="376.2" y1="367.3" x2="374.4" y2="367.3" stroke="#6e6e6e" stroke-width="0.6"/>
<line x1="241" y1="384.3" x2="242.8" y2="384.3" stroke="#6e6e6e" stroke-width="0.6"/>
<line x1="376.2" y1="384.3" x2="374.4" y2="384.3" stroke="#6e6e6e" stroke-width="0.6"/>
<polyline points="241,367.2 241.7,367.3 242.4,367.3 243.1,367.3 243.8,367.2 244.5,367.2 245.2,367.5 245.9,367.4 246.6,366.9 247.3,367.1 248,367.3 248.7,367.3 249.4,367.3 250.1,367.4 250.8,367.1 251.5,367.4 252.2,367.3 252.9,367.4 253.6,367.3 254.3,367.4 255,367.3 255.7,367.2 256.4,367.4 257.1,367.3 257.8,367.1 258.5,367.5 259.2,367.4 259.9,367.5 260.6,367.3 261.3,367.3 262,367.3 262.7,367.2 263.4,367.3 264.1,367.3 264.8,367.2 265.5,367.5 266.2,367.1 266.9,367.2 267.6,367.2 268.3,367.5 269,367.3 269.7,367.3 270.4,367.2 271.1,367.2 271.8,367.1 272.5,367.4 273.2,367.4 273.9,367.4 274.6,367.2 275.3,367.6 276,367.2 276.7,367.1 277.4,367.3 278.1,367.3 278.8,367.4 279.5,367.2 280.2,367.4 280.9,367.5 281.6,367.2 282.3,367.2 283,367.1 283.7,367.3 284.4,367.4 285.1,367.4 285.8,367.4 286.5,367.5 287.2,367.3 287.9,367.4 288.6,367.2 289.3,367.2 290,367.3 290.7,367.2 291.4,367.4 292.1,367.5 292.8,367.3 293.5,367.2 294.2,367.2 294.9,367.5 295.6,367.2 296.3,367.3 297,367.3 297.7,367.3 298.4,367.4 299.1,367.2 299.8,366.9 300.5,366.7 301.2,365.9 301.9,365 302.6,363.9 303.3,362 304,359.5 304.7,357 305.4,354.6 306.1,352.2 306.8,350.2 307.5,348.4 308.2,347.1 308.9,346.9 309.6,347.8 310.3,349.1 311,350.8 311.7,353.3 312.4,356.1 313.1,359.3 313.8,362.9 314.5,366 315.2,368.7 315.9,370.8 316.6,372.1 317.3,372.9 318,372.9 318.7,372.7 319.4,372.2 320.1,372.1 320.8,371.4 321.5,371.4 322.2,371.1 322.9,370.9 323.6,370.4 324.3,370 325,369.7 325.7,369.9 326.4,369.3 327.1,369.4 327.8,368.9 328.5,369 329.2,368.9 329.9,368.8 330.6,368.6 331.3,368.4 332,368.3 332.7,368.4 333.4,368.3 334.1,368.1 334.8,368.1 335.5,367.9 336.2,368.1 336.9,368 337.6,367.7 338.3,367.8 339,367.8 339.7,367.6 340.4,367.9 341.1,367.8 341.8,367.5 342.5,367.6 343.2,367.7 343.9,367.3 344.6,367.6 345.3,367.5 346,367.4 346.7,367.5 347.4,367.4 348.1,367.3 348.8,367.3 349.5,367.4 350.2,367.5 350.9,367.4 351.6,367.4 352.3,367.4 353,367.6 353.7,367.5 354.4,367.3 355.1,367.3 355.8,367.5 356.5,367.3 357.2,367.3 357.9,367.4 358.6,367.2 359.3,367.5 360,367.1 360.7,367.5 361.4,367.3 362.1,367.2 362.8,367.4 363.5,367.1 364.2,367.4 364.9,367.4 365.6,367.2 366.3,367.3 367,367.4 367.7,367.2 368.4,367.3 369.1,367.4 369.8,367.5 370.5,367.2 371.2,367.3 371.9,367.4 372.6,367 373.3,367.3 374,367.1 374.7,367.1 375.4,367.5 376.1,367.3" fill="none" stroke="#2c84cc" stroke-width="1.8" stroke-linejoin="round"/>
<polyline points="241,367.3 241.5,367.3 242,367.3 242.5,367.3 243,367.3 243.5,367.3 244,367.3 244.5,367.3 245,367.3 245.5,367.3 246,367.3 246.5,367.3 247,367.3 247.5,367.3 248,367.3 248.5,367.3 249,367.3 249.5,367.3 250,367.3 250.5,367.3 251,367.3 251.5,367.3 252,367.3 252.5,367.3 253,367.3 253.5,367.3 254,367.3 254.5,367.3 255,367.3 255.5,367.3 256,367.3 256.5,367.3 257,367.3 257.5,367.3 258,367.3 258.5,367.3 259,367.3 259.5,367.3 260,367.3 260.5,367.3 261,367.3 261.5,367.3 262,367.3 262.5,367.3 263,367.3 263.5,367.3 264,367.3 264.5,367.3 265,367.3 265.5,367.3 266,367.3 266.5,367.3 267,367.3 267.5,367.3 268,367.3 268.5,367.3 269,367.3 269.5,367.3 270,367.3 270.5,367.3 271,367.3 271.5,367.3 272,367.3 272.5,367.3 273,367.3 273.5,367.3 274,367.3 274.5,367.3 275,367.3 275.5,367.3 276,367.3 276.5,367.3 277,367.3 277.5,367.3 278,367.3 278.5,367.3 279,367.3 279.5,367.3 280,367.3 280.5,367.3 281,367.3 281.5,367.3 282,367.3 282.5,367.3 283,367.3 283.5,367.3 284,367.3 284.5,367.3 285,367.3 285.5,367.3 286,367.3 286.5,367.3 287,367.3 287.5,367.3 288,367.3 288.5,367.3 289,367.3 289.5,367.3 290,367.3 290.5,367.3 291,367.3 291.5,367.3 292,367.3 292.5,367.3 293,367.3 293.5,367.3 294,367.3 294.5,367.3 295,367.3 295.5,367.3 296,367.3 296.5,367.3 297,367.3 297.5,367.3 298,367.3 298.5,367.3 299,367.3 299.5,367.2 300,367 300.5,366.6 301,366.1 301.5,365.5 302,364.8 302.5,364.1 303,362.9 303.5,361.3 304,359.5 304.5,357.7 305,356 305.5,354.3 306,352.5 306.5,350.9 307,349.7 307.5,348.4 308,347.3 308.5,346.6 309,346.5 309.5,347 310,347.8 310.5,348.9 311,350 311.5,351.5 312,353.3 312.5,355.3 313,357.3 313.5,359.8 314,362.3 314.5,364.4 315,366.2 315.5,367.8 316,369.1 316.5,370 317,370.6 317.5,371.1 318,371.4 318.5,371.4 319,371.3 319.5,371.1 320,371 320.5,370.8 321,370.6 321.5,370.4 322,370.2 322.5,370 323,369.8 323.5,369.6 324,369.4 324.5,369.3 325,369.2 325.5,369.1 326,369 326.5,368.8 327,368.7 327.5,368.6 328,368.5 328.5,368.5 329,368.4 329.5,368.3 330,368.2 330.5,368.1 331,368.1 331.5,368 332,367.9 332.5,367.9 333,367.8 333.5,367.8 334,367.8 334.5,367.7 335,367.7 335.5,367.6 336,367.6 336.5,367.6 337,367.5 337.5,367.5 338,367.5 338.5,367.5 339,367.4 339.5,367.4 340,367.4 340.5,367.4 341,367.3 341.5,367.3 342,367.3 342.5,367.3 343,367.3 343.5,367.3 344,367.3 344.5,367.3 345,367.3 345.5,367.3 346,367.3 346.5,367.3 347,367.3 347.5,367.3 348,367.3 348.5,367.3 349,367.3 349.5,367.3 350,367.3 350.5,367.3 351,367.3 351.5,367.3 352,367.3 352.5,367.3 353,367.3 353.5,367.3 354,367.3 354.5,367.3 355,367.3 355.5,367.3 356,367.3 356.5,367.3 357,367.3 357.5,367.3 358,367.3 358.5,367.3 359,367.3 359.5,367.3 360,367.3 360.5,367.3 361,367.3 361.5,367.3 362,367.3 362.5,367.3 363,367.3 363.5,367.3 364,367.3 364.5,367.3 365,367.3 365.5,367.3 366,367.3 366.5,367.3 367,367.3 367.5,367.3 368,367.3 368.5,367.3 369,367.3 369.5,367.3 370,367.3 370.5,367.3 371,367.3 371.5,367.3 372,367.3 372.5,367.3 373,367.3 373.5,367.3 374,367.3 374.5,367.3 375,367.3 375.5,367.3 376,367.3" fill="none" stroke="#e8262a" stroke-width="1.8" stroke-linejoin="round" stroke-dasharray="1.9 1.6"/>
<rect x="241" y="345.5" width="135.2" height="43.1" fill="none" stroke="#6e6e6e" stroke-width="1"/>
<text x="246.2" y="386.7" font-size="6.4" text-anchor="start" font-weight="bold" fill="#1e1e1e" font-family="Liberation Sans" transform="matrix(1 0 0 1.1 0 -38.4)">Fractional order: 0.30</text>
<line x1="402.5" y1="389.7" x2="402.5" y2="387.9" stroke="#6e6e6e" stroke-width="0.6"/>
<line x1="402.5" y1="346.4" x2="402.5" y2="348.2" stroke="#6e6e6e" stroke-width="0.6"/>
<line x1="447.5" y1="389.7" x2="447.5" y2="387.9" stroke="#6e6e6e" stroke-width="0.6"/>
<line x1="447.5" y1="346.4" x2="447.5" y2="348.2" stroke="#6e6e6e" stroke-width="0.6"/>
<line x1="492.5" y1="389.7" x2="492.5" y2="387.9" stroke="#6e6e6e" stroke-width="0.6"/>
<line x1="492.5" y1="346.4" x2="492.5" y2="348.2" stroke="#6e6e6e" stroke-width="0.6"/>
<line x1="380.5" y1="349.9" x2="382.3" y2="349.9" stroke="#6e6e6e" stroke-width="0.6"/>
<line x1="515.8" y1="349.9" x2="514" y2="349.9" stroke="#6e6e6e" stroke-width="0.6"/>
<line x1="380.5" y1="367.9" x2="382.3" y2="367.9" stroke="#6e6e6e" stroke-width="0.6"/>
<line x1="515.8" y1="367.9" x2="514" y2="367.9" stroke="#6e6e6e" stroke-width="0.6"/>
<line x1="380.5" y1="384.9" x2="382.3" y2="384.9" stroke="#6e6e6e" stroke-width="0.6"/>
<line x1="515.8" y1="384.9" x2="514" y2="384.9" stroke="#6e6e6e" stroke-width="0.6"/>
<polyline points="380.5,368.1 381.2,367.9 381.9,368 382.6,367.8 383.3,367.8 384,367.9 384.7,367.9 385.4,368.1 386.1,367.9 386.8,367.9 387.5,367.9 388.2,367.9 388.9,367.7 389.6,368 390.3,367.8 391,367.9 391.7,367.9 392.4,368 393.1,368 393.8,367.9 394.5,367.9 395.2,367.9 395.9,368 396.6,368 397.3,368.1 398,368.1 398.7,368 399.4,367.7 400.1,368.1 400.8,368.2 401.5,367.9 402.2,367.9 402.9,367.7 403.6,368 404.3,367.8 405,368.1 405.7,367.6 406.4,367.9 407.1,368 407.8,367.9 408.5,367.8 409.2,367.9 409.9,367.8 410.6,367.9 411.3,367.9 412,367.8 412.7,367.9 413.4,368 414.1,367.9 414.8,367.9 415.5,367.8 416.2,368 416.9,367.7 417.6,368 418.3,367.5 419,367.8 419.7,367.7 420.4,368 421.1,367.9 421.8,367.7 422.5,367.8 423.2,368.1 423.9,367.9 424.6,368 425.3,367.7 426,367.7 426.7,368 427.4,368.2 428.1,367.8 428.8,367.9 429.5,367.5 430.2,367.6 430.9,367.1 431.6,366.8 432.3,366.3 433,366.1 433.7,365.8 434.4,365.6 435.1,364.9 435.8,364.8 436.5,364.1 437.2,363.6 437.9,362.9 438.6,362.2 439.3,361.5 440,360.8 440.7,359.7 441.4,358.4 442.1,357.1 442.8,355.9 443.5,354.6 444.2,353.2 444.9,351.9 445.6,350.6 446.3,349.6 447,348.5 447.7,347.8 448.4,348.8 449.1,351.5 449.8,355.4 450.5,362 451.2,368.7 451.9,374.2 452.6,379.3 453.3,382.5 454,384.5 454.7,385.4 455.4,385 456.1,384 456.8,383.2 457.5,382.1 458.2,381 458.9,380.1 459.6,378.5 460.3,377.6 461,376.9 461.7,376.4 462.4,375.9 463.1,375.4 463.8,375.1 464.5,374.7 465.2,374.2 465.9,373.6 466.6,373.6 467.3,373 468,372.7 468.7,372.3 469.4,371.8 470.1,371.5 470.8,371.3 471.5,371 472.2,370.8 472.9,370.4 473.6,370.2 474.3,369.8 475,369.7 475.7,369.5 476.4,369.2 477.1,368.9 477.8,368.9 478.5,368.8 479.2,368.8 479.9,368.6 480.6,368.5 481.3,368.3 482,368.6 482.7,368.2 483.4,368.1 484.1,368.2 484.8,368 485.5,368.3 486.2,368.2 486.9,368.2 487.6,368 488.3,368.1 489,368.2 489.7,368.2 490.4,368.4 491.1,368.2 491.8,367.8 492.5,368.1 493.2,368 493.9,368.2 494.6,368 495.3,368.1 496,368 496.7,368.1 497.4,368.2 498.1,367.9 498.8,367.7 499.5,367.8 500.2,368.1 500.9,368 501.6,367.9 502.3,367.8 503,368.1 503.7,368 504.4,367.9 505.1,367.9 505.8,367.9 506.5,367.9 507.2,368 507.9,368.1 508.6,367.7 509.3,367.7 510,367.9 510.7,367.9 511.4,367.7 512.1,367.8 512.8,367.8 513.5,367.8 514.2,367.8 514.9,367.9 515.6,368" fill="none" stroke="#2c84cc" stroke-width="1.8" stroke-linejoin="round"/>
<polyline points="380.5,367.9 381,367.9 381.5,367.9 382,367.9 382.5,367.9 383,367.9 383.5,367.9 384,367.9 384.5,367.9 385,367.9 385.5,367.9 386,367.9 386.5,367.9 387,367.9 387.5,367.9 388,367.9 388.5,367.9 389,367.9 389.5,367.9 390,367.9 390.5,367.9 391,367.9 391.5,367.9 392,367.9 392.5,367.9 393,367.9 393.5,367.9 394,367.9 394.5,367.9 395,367.9 395.5,367.9 396,367.9 396.5,367.9 397,367.9 397.5,367.9 398,367.9 398.5,367.9 399,367.9 399.5,367.9 400,367.9 400.5,367.9 401,367.9 401.5,367.9 402,367.9 402.5,367.9 403,367.9 403.5,367.9 404,367.9 404.5,367.9 405,367.9 405.5,367.9 406,367.9 406.5,367.9 407,367.9 407.5,367.9 408,367.9 408.5,367.9 409,367.9 409.5,367.9 410,367.9 410.5,367.9 411,367.9 411.5,367.9 412,367.9 412.5,367.9 413,367.9 413.5,367.9 414,367.9 414.5,367.9 415,367.9 415.5,367.9 416,367.9 416.5,367.9 417,367.9 417.5,367.9 418,367.9 418.5,367.9 419,367.9 419.5,367.9 420,367.9 420.5,367.9 421,367.9 421.5,367.9 422,367.9 422.5,367.9 423,367.9 423.5,367.9 424,367.9 424.5,367.9 425,367.9 425.5,367.9 426,367.9 426.5,367.9 427,367.9 427.5,367.9 428,367.9 428.5,367.9 429,367.9 429.5,367.9 430,367.9 430.5,367.9 431,368 431.5,368.1 432,368.3 432.5,368.5 433,368.6 433.5,368.7 434,368.8 434.5,368.8 435,368.7 435.5,368.6 436,368.4 436.5,368.1 437,367.9 437.5,367.6 438,367.2 438.5,366.8 439,366.4 439.5,365.9 440,365.5 440.5,365 441,364.4 441.5,363.5 442,362.5 442.5,361.3 443,360 443.5,358.7 444,357.5 444.5,356.2 445,354.6 445.5,352.7 446,350.9 446.5,349.3 447,348.2 447.5,347.8 448,348.4 448.5,349.9 449,351.9 449.5,354.3 450,356.7 450.5,359.4 451,362.7 451.5,366.1 452,369.4 452.5,372 453,374.3 453.5,376.6 454,378.6 454.5,380.2 455,380.9 455.5,380.8 456,380.4 456.5,379.8 457,379 457.5,378.3 458,377.5 458.5,376.8 459,376.1 459.5,375.4 460,374.6 460.5,373.9 461,373.2 461.5,372.6 462,372.1 462.5,371.7 463,371.3 463.5,371 464,370.7 464.5,370.4 465,370.1 465.5,369.8 466,369.6 466.5,369.4 467,369.2 467.5,369 468,368.9 468.5,368.8 469,368.7 469.5,368.6 470,368.5 470.5,368.5 471,368.4 471.5,368.3 472,368.3 472.5,368.2 473,368.2 473.5,368.2 474,368.2 474.5,368.2 475,368.2 475.5,368.2 476,368.2 476.5,368.2 477,368.1 477.5,368.1 478,368.1 478.5,368.1 479,368.1 479.5,368.1 480,368.1 480.5,368.1 481,368.1 481.5,368.1 482,368.1 482.5,368.1 483,368.1 483.5,368.1 484,368.1 484.5,368 485,368 485.5,368 486,368 486.5,368 487,368 487.5,368 488,368 488.5,368 489,368 489.5,368 490,368 490.5,368 491,368 491.5,368 492,368 492.5,368 493,368 493.5,368 494,368 494.5,368 495,368 495.5,368 496,367.9 496.5,367.9 497,367.9 497.5,367.9 498,367.9 498.5,367.9 499,367.9 499.5,367.9 500,367.9 500.5,367.9 501,367.9 501.5,367.9 502,367.9 502.5,367.9 503,367.9 503.5,367.9 504,367.9 504.5,367.9 505,367.9 505.5,367.9 506,367.9 506.5,367.9 507,367.9 507.5,367.9 508,367.9 508.5,367.9 509,367.9 509.5,367.9 510,367.9 510.5,367.9 511,367.9 511.5,367.9 512,367.9 512.5,367.9 513,367.9 513.5,367.9 514,367.9 514.5,367.9 515,367.9 515.5,367.9" fill="none" stroke="#e8262a" stroke-width="1.8" stroke-linejoin="round" stroke-dasharray="1.9 1.6"/>
<rect x="380.5" y="346.4" width="135.3" height="43.3" fill="none" stroke="#6e6e6e" stroke-width="1"/>
<text x="383.6" y="387.8" font-size="6.4" text-anchor="start" font-weight="bold" fill="#1e1e1e" font-family="Liberation Sans" transform="matrix(1 0 0 1.1 0 -38.6)">Fractional order: 0.75</text>
<line x1="265" y1="432.5" x2="265" y2="430.7" stroke="#6e6e6e" stroke-width="0.6"/>
<line x1="265" y1="389.9" x2="265" y2="391.7" stroke="#6e6e6e" stroke-width="0.6"/>
<line x1="310" y1="432.5" x2="310" y2="430.7" stroke="#6e6e6e" stroke-width="0.6"/>
<line x1="310" y1="389.9" x2="310" y2="391.7" stroke="#6e6e6e" stroke-width="0.6"/>
<line x1="355" y1="432.5" x2="355" y2="430.7" stroke="#6e6e6e" stroke-width="0.6"/>
<line x1="355" y1="389.9" x2="355" y2="391.7" stroke="#6e6e6e" stroke-width="0.6"/>
<line x1="241" y1="393.3" x2="242.8" y2="393.3" stroke="#6e6e6e" stroke-width="0.6"/>
<line x1="376.2" y1="393.3" x2="374.4" y2="393.3" stroke="#6e6e6e" stroke-width="0.6"/>
<line x1="241" y1="411.3" x2="242.8" y2="411.3" stroke="#6e6e6e" stroke-width="0.6"/>
<line x1="376.2" y1="411.3" x2="374.4" y2="411.3" stroke="#6e6e6e" stroke-width="0.6"/>
<line x1="241" y1="428.3" x2="242.8" y2="428.3" stroke="#6e6e6e" stroke-width="0.6"/>
<line x1="376.2" y1="428.3" x2="374.4" y2="428.3" stroke="#6e6e6e" stroke-width="0.6"/>
<polyline points="241,411.4 241.7,411.4 242.4,411.3 243.1,411.2 243.8,411.2 244.5,411.4 245.2,411.3 245.9,411.4 246.6,411.3 247.3,411.3 248,411.3 248.7,411.1 249.4,411.3 250.1,411.2 250.8,411.4 251.5,411.2 252.2,411.3 252.9,411.2 253.6,411.4 254.3,411.4 255,411.3 255.7,411.3 256.4,411.3 257.1,411.4 257.8,411.3 258.5,411.3 259.2,411.2 259.9,411.2 260.6,411.3 261.3,411.3 262,411.2 262.7,411.5 263.4,411.2 264.1,411.4 264.8,411.3 265.5,411.1 266.2,411.3 266.9,411.1 267.6,411.3 268.3,411.4 269,411.5 269.7,411.4 270.4,411.1 271.1,411.2 271.8,411.5 272.5,411.3 273.2,411.5 273.9,411.2 274.6,411.2 275.3,411.1 276,411.2 276.7,411.4 277.4,411.2 278.1,411.4 278.8,411.3 279.5,411.4 280.2,411.3 280.9,411.3 281.6,411.5 282.3,411.1 283,411.4 283.7,411.5 284.4,411.3 285.1,411.5 285.8,410.9 286.5,411.3 287.2,411.1 287.9,411.2 288.6,411.3 289.3,411.3 290,411.2 290.7,411.4 291.4,411.1 292.1,411.4 292.8,411.3 293.5,411.1 294.2,411.1 294.9,411.1 295.6,411.2 296.3,411.3 297,411.4 297.7,411.3 298.4,410.8 299.1,410.3 299.8,410.1 300.5,409.5 301.2,409.1 301.9,408.3 302.6,407.4 303.3,406.2 304,404.3 304.7,401.3 305.4,398.6 306.1,396.8 306.8,395.4 307.5,393.8 308.2,392.1 308.9,391.9 309.6,393 310.3,394.5 311,396.4 311.7,398.8 312.4,401.4 313.1,404.5 313.8,407.8 314.5,410.8 315.2,413.7 315.9,416.2 316.6,418.3 317.3,419.7 318,419.7 318.7,419.2 319.4,418.9 320.1,418.7 320.8,418.3 321.5,418 322.2,417.6 322.9,417.4 323.6,416.8 324.3,416.6 325,416.2 325.7,415.9 326.4,415.5 327.1,415.3 327.8,414.9 328.5,414.5 329.2,414.3 329.9,413.9 330.6,413.7 331.3,413.3 332,413.3 332.7,413 333.4,412.7 334.1,412.5 334.8,412.4 335.5,412.5 336.2,412.3 336.9,412.3 337.6,412.2 338.3,412.3 339,412.4 339.7,412 340.4,412.2 341.1,412 341.8,412 342.5,411.8 343.2,411.7 343.9,411.8 344.6,411.9 345.3,411.6 346,411.7 346.7,411.7 347.4,411.8 348.1,411.5 348.8,411.6 349.5,411.7 350.2,411.8 350.9,411.6 351.6,411.7 352.3,411.6 353,411.6 353.7,411.5 354.4,411.5 355.1,411.4 355.8,411.5 356.5,411.6 357.2,411.5 357.9,411.5 358.6,411.4 359.3,411.5 360,411 360.7,411.2 361.4,411.4 362.1,411.2 362.8,411.5 363.5,411.4 364.2,411.3 364.9,411.4 365.6,411.2 366.3,411.2 367,411.3 367.7,411.1 368.4,411.5 369.1,411.2 369.8,411.4 370.5,411.3 371.2,411.3 371.9,411.2 372.6,411.3 373.3,411.3 374,411.3 374.7,411.5 375.4,411.2 376.1,411.3" fill="none" stroke="#2c84cc" stroke-width="1.8" stroke-linejoin="round"/>
<polyline points="241,411.3 241.5,411.3 242,411.3 242.5,411.3 243,411.3 243.5,411.3 244,411.3 244.5,411.3 245,411.3 245.5,411.3 246,411.3 246.5,411.3 247,411.3 247.5,411.3 248,411.3 248.5,411.3 249,411.3 249.5,411.3 250,411.3 250.5,411.3 251,411.3 251.5,411.3 252,411.3 252.5,411.3 253,411.3 253.5,411.3 254,411.3 254.5,411.3 255,411.3 255.5,411.3 256,411.3 256.5,411.3 257,411.3 257.5,411.3 258,411.3 258.5,411.3 259,411.3 259.5,411.3 260,411.3 260.5,411.3 261,411.3 261.5,411.3 262,411.3 262.5,411.3 263,411.3 263.5,411.3 264,411.3 264.5,411.3 265,411.3 265.5,411.3 266,411.3 266.5,411.3 267,411.3 267.5,411.3 268,411.3 268.5,411.3 269,411.3 269.5,411.3 270,411.3 270.5,411.3 271,411.3 271.5,411.3 272,411.3 272.5,411.3 273,411.3 273.5,411.3 274,411.3 274.5,411.3 275,411.3 275.5,411.3 276,411.3 276.5,411.3 277,411.3 277.5,411.3 278,411.3 278.5,411.3 279,411.3 279.5,411.3 280,411.3 280.5,411.3 281,411.3 281.5,411.3 282,411.3 282.5,411.3 283,411.3 283.5,411.3 284,411.3 284.5,411.3 285,411.3 285.5,411.3 286,411.3 286.5,411.3 287,411.3 287.5,411.3 288,411.3 288.5,411.3 289,411.3 289.5,411.3 290,411.3 290.5,411.3 291,411.3 291.5,411.3 292,411.3 292.5,411.3 293,411.3 293.5,411.3 294,411.3 294.5,411.3 295,411.3 295.5,411.3 296,411.3 296.5,411.3 297,411.3 297.5,411.3 298,411.1 298.5,410.9 299,410.7 299.5,410.4 300,410.1 300.5,409.7 301,409.3 301.5,408.8 302,408.3 302.5,407.5 303,406.7 303.5,405.8 304,404.3 304.5,402.2 305,400.1 305.5,398.3 306,397 306.5,395.9 307,394.9 307.5,393.9 308,392.7 308.5,391.9 309,391.6 309.5,392.1 310,393.1 310.5,394.3 311,395.6 311.5,397.2 312,399.1 312.5,401 313,403 313.5,405.2 314,407.4 314.5,409.5 315,411.5 315.5,413.4 316,415 316.5,416.2 317,417.4 317.5,417.9 318,417.8 318.5,417.6 319,417.4 319.5,417.2 320,417 320.5,416.8 321,416.6 321.5,416.3 322,416.1 322.5,415.9 323,415.6 323.5,415.4 324,415.2 324.5,415 325,414.8 325.5,414.6 326,414.4 326.5,414.3 327,414.1 327.5,413.9 328,413.7 328.5,413.6 329,413.4 329.5,413.2 330,413.1 330.5,412.9 331,412.8 331.5,412.7 332,412.6 332.5,412.5 333,412.4 333.5,412.3 334,412.2 334.5,412.2 335,412.1 335.5,412.1 336,412 336.5,412 337,411.9 337.5,411.9 338,411.8 338.5,411.8 339,411.7 339.5,411.7 340,411.6 340.5,411.6 341,411.6 341.5,411.6 342,411.5 342.5,411.5 343,411.5 343.5,411.5 344,411.5 344.5,411.5 345,411.5 345.5,411.5 346,411.5 346.5,411.5 347,411.5 347.5,411.5 348,411.4 348.5,411.4 349,411.4 349.5,411.4 350,411.4 350.5,411.4 351,411.4 351.5,411.4 352,411.4 352.5,411.4 353,411.4 353.5,411.4 354,411.4 354.5,411.4 355,411.4 355.5,411.4 356,411.4 356.5,411.4 357,411.4 357.5,411.4 358,411.4 358.5,411.4 359,411.4 359.5,411.3 360,411.3 360.5,411.3 361,411.3 361.5,411.3 362,411.3 362.5,411.3 363,411.3 363.5,411.3 364,411.3 364.5,411.3 365,411.3 365.5,411.3 366,411.3 366.5,411.3 367,411.3 367.5,411.3 368,411.3 368.5,411.3 369,411.3 369.5,411.3 370,411.3 370.5,411.3 371,411.3 371.5,411.3 372,411.3 372.5,411.3 373,411.3 373.5,411.3 374,411.3 374.5,411.3 375,411.3 375.5,411.3 376,411.3" fill="none" stroke="#e8262a" stroke-width="1.8" stroke-linejoin="round" stroke-dasharray="1.9 1.6"/>
<rect x="241" y="389.9" width="135.2" height="42.6" fill="none" stroke="#6e6e6e" stroke-width="1"/>
<text x="244.4" y="430.6" font-size="6.4" text-anchor="start" font-weight="bold" fill="#1e1e1e" font-family="Liberation Sans" transform="matrix(1 0 0 1.1 0 -42.8)">Fractional order: 0.45</text>
<line x1="402.5" y1="433.3" x2="402.5" y2="431.5" stroke="#6e6e6e" stroke-width="0.6"/>
<line x1="402.5" y1="390.3" x2="402.5" y2="392.1" stroke="#6e6e6e" stroke-width="0.6"/>
<line x1="447.5" y1="433.3" x2="447.5" y2="431.5" stroke="#6e6e6e" stroke-width="0.6"/>
<line x1="447.5" y1="390.3" x2="447.5" y2="392.1" stroke="#6e6e6e" stroke-width="0.6"/>
<line x1="492.5" y1="433.3" x2="492.5" y2="431.5" stroke="#6e6e6e" stroke-width="0.6"/>
<line x1="492.5" y1="390.3" x2="492.5" y2="392.1" stroke="#6e6e6e" stroke-width="0.6"/>
<line x1="380.5" y1="393.3" x2="382.3" y2="393.3" stroke="#6e6e6e" stroke-width="0.6"/>
<line x1="515.8" y1="393.3" x2="514" y2="393.3" stroke="#6e6e6e" stroke-width="0.6"/>
<line x1="380.5" y1="411.3" x2="382.3" y2="411.3" stroke="#6e6e6e" stroke-width="0.6"/>
<line x1="515.8" y1="411.3" x2="514" y2="411.3" stroke="#6e6e6e" stroke-width="0.6"/>
<line x1="380.5" y1="428.3" x2="382.3" y2="428.3" stroke="#6e6e6e" stroke-width="0.6"/>
<line x1="515.8" y1="428.3" x2="514" y2="428.3" stroke="#6e6e6e" stroke-width="0.6"/>
<polyline points="380.5,411.3 381.2,411.4 381.9,411.3 382.6,411.3 383.3,411.2 384,411.3 384.7,411.3 385.4,411.2 386.1,411.3 386.8,411.4 387.5,411.3 388.2,411.2 388.9,411.4 389.6,411.4 390.3,411.4 391,411.4 391.7,411.3 392.4,411.3 393.1,411.3 393.8,411.3 394.5,411.1 395.2,411.3 395.9,411.3 396.6,411.4 397.3,411.3 398,411.3 398.7,411.1 399.4,411.1 400.1,410.9 400.8,411.3 401.5,411.5 402.2,411.5 402.9,411.2 403.6,411.4 404.3,411.5 405,411.3 405.7,411.1 406.4,411.5 407.1,411.3 407.8,411.3 408.5,411.5 409.2,411.4 409.9,411.4 410.6,411.5 411.3,411.3 412,411.2 412.7,411.4 413.4,411.3 414.1,411.4 414.8,411.4 415.5,411.2 416.2,411.3 416.9,411.3 417.6,411.3 418.3,411.3 419,411.3 419.7,411.3 420.4,411.2 421.1,411.4 421.8,411.1 422.5,411.6 423.2,411.2 423.9,411.3 424.6,411.5 425.3,411.3 426,411.1 426.7,411 427.4,411.1 428.1,410.9 428.8,410.7 429.5,410.4 430.2,410.1 430.9,409.9 431.6,409.7 432.3,409.1 433,409.3 433.7,408.3 434.4,408 435.1,407.5 435.8,406.7 436.5,405.9 437.2,405.2 437.9,404.3 438.6,402.6 439.3,401.8 440,400.4 440.7,399.1 441.4,397.6 442.1,396 442.8,394.4 443.5,393.2 444.2,392.3 444.9,391.7 445.6,391.8 446.3,392.7 447,394.2 447.7,396.4 448.4,401.3 449.1,407.4 449.8,412.3 450.5,417.1 451.2,420.7 451.9,423.1 452.6,424.9 453.3,425.5 454,425.2 454.7,424.6 455.4,423.9 456.1,423.4 456.8,422.3 457.5,421.2 458.2,420.7 458.9,419.9 459.6,419.1 460.3,418.6 461,418.4 461.7,417.8 462.4,417.5 463.1,417.2 463.8,416.9 464.5,416.5 465.2,416.2 465.9,416.1 466.6,415.4 467.3,415.4 468,415.1 468.7,414.9 469.4,414.5 470.1,414.3 470.8,414.1 471.5,413.6 472.2,413.5 472.9,413.4 473.6,412.9 474.3,412.7 475,412.8 475.7,412.5 476.4,412.1 477.1,412.2 477.8,412 478.5,412.1 479.2,412 479.9,411.6 480.6,411.8 481.3,412 482,412 482.7,411.7 483.4,411.6 484.1,411.7 484.8,411.6 485.5,411.7 486.2,411.5 486.9,411.7 487.6,411.7 488.3,411.7 489,411.4 489.7,411.4 490.4,411.4 491.1,411.6 491.8,411.3 492.5,411.6 493.2,411.7 493.9,411.4 494.6,411.4 495.3,411.6 496,411.6 496.7,411.4 497.4,411.4 498.1,411.4 498.8,411.4 499.5,411.5 500.2,411.4 500.9,411.5 501.6,411.2 502.3,411.5 503,411.5 503.7,411.3 504.4,411.4 505.1,411.5 505.8,411.4 506.5,411.3 507.2,411.4 507.9,411.2 508.6,411.2 509.3,411.2 510,411.2 510.7,411.3 511.4,411.4 512.1,411.3 512.8,411.5 513.5,411.3 514.2,411.2 514.9,411.2 515.6,411.2" fill="none" stroke="#2c84cc" stroke-width="1.8" stroke-linejoin="round"/>
<polyline points="380.5,411.3 381,411.3 381.5,411.3 382,411.3 382.5,411.3 383,411.3 383.5,411.3 384,411.3 384.5,411.3 385,411.3 385.5,411.3 386,411.3 386.5,411.3 387,411.3 387.5,411.3 388,411.3 388.5,411.3 389,411.3 389.5,411.3 390,411.3 390.5,411.3 391,411.3 391.5,411.3 392,411.3 392.5,411.3 393,411.3 393.5,411.3 394,411.3 394.5,411.3 395,411.3 395.5,411.3 396,411.3 396.5,411.3 397,411.3 397.5,411.3 398,411.3 398.5,411.3 399,411.3 399.5,411.3 400,411.3 400.5,411.3 401,411.3 401.5,411.3 402,411.3 402.5,411.3 403,411.3 403.5,411.3 404,411.3 404.5,411.3 405,411.3 405.5,411.3 406,411.3 406.5,411.3 407,411.3 407.5,411.3 408,411.3 408.5,411.3 409,411.3 409.5,411.3 410,411.3 410.5,411.3 411,411.3 411.5,411.3 412,411.3 412.5,411.3 413,411.3 413.5,411.3 414,411.3 414.5,411.3 415,411.3 415.5,411.3 416,411.3 416.5,411.3 417,411.3 417.5,411.3 418,411.3 418.5,411.3 419,411.3 419.5,411.3 420,411.3 420.5,411.3 421,411.3 421.5,411.3 422,411.3 422.5,411.3 423,411.3 423.5,411.3 424,411.3 424.5,411.3 425,411.3 425.5,411.3 426,411.3 426.5,411.3 427,411.3 427.5,411.3 428,411.3 428.5,411.3 429,411.3 429.5,411.3 430,411.3 430.5,411.3 431,411.3 431.5,411.2 432,411.2 432.5,411.2 433,411.2 433.5,411.2 434,411.1 434.5,411.1 435,411.1 435.5,411.1 436,411 436.5,411 437,410.9 437.5,410.9 438,410.6 438.5,410.1 439,409.4 439.5,408.7 440,407.9 440.5,407.1 441,406.2 441.5,405.1 442,403.9 442.5,402.7 443,401.4 443.5,400.1 444,398.9 444.5,397.7 445,396.5 445.5,395.2 446,393.9 446.5,392.8 447,392.1 447.5,391.8 448,392.8 448.5,395.2 449,398.3 449.5,401.3 450,404.7 450.5,408.6 451,412.5 451.5,416.1 452,419 452.5,421.7 453,424.3 453.5,426.5 454,428.1 454.5,428.7 455,428.2 455.5,427.1 456,425.5 456.5,423.8 457,422.4 457.5,421.1 458,419.7 458.5,418.2 459,416.9 459.5,415.6 460,414.5 460.5,413.8 461,413.4 461.5,413 462,412.7 462.5,412.5 463,412.2 463.5,412 464,411.8 464.5,411.7 465,411.6 465.5,411.5 466,411.5 466.5,411.5 467,411.5 467.5,411.5 468,411.5 468.5,411.5 469,411.5 469.5,411.5 470,411.5 470.5,411.5 471,411.4 471.5,411.4 472,411.4 472.5,411.4 473,411.4 473.5,411.4 474,411.4 474.5,411.4 475,411.4 475.5,411.4 476,411.4 476.5,411.4 477,411.4 477.5,411.4 478,411.4 478.5,411.4 479,411.4 479.5,411.4 480,411.4 480.5,411.4 481,411.4 481.5,411.4 482,411.4 482.5,411.4 483,411.4 483.5,411.4 484,411.4 484.5,411.4 485,411.4 485.5,411.4 486,411.4 486.5,411.3 487,411.3 487.5,411.3 488,411.3 488.5,411.3 489,411.3 489.5,411.3 490,411.3 490.5,411.3 491,411.3 491.5,411.3 492,411.3 492.5,411.3 493,411.3 493.5,411.3 494,411.3 494.5,411.3 495,411.3 495.5,411.3 496,411.3 496.5,411.3 497,411.3 497.5,411.3 498,411.3 498.5,411.3 499,411.3 499.5,411.3 500,411.3 500.5,411.3 501,411.3 501.5,411.3 502,411.3 502.5,411.3 503,411.3 503.5,411.3 504,411.3 504.5,411.3 505,411.3 505.5,411.3 506,411.3 506.5,411.3 507,411.3 507.5,411.3 508,411.3 508.5,411.3 509,411.3 509.5,411.3 510,411.3 510.5,411.3 511,411.3 511.5,411.3 512,411.3 512.5,411.3 513,411.3 513.5,411.3 514,411.3 514.5,411.3 515,411.3 515.5,411.3" fill="none" stroke="#e8262a" stroke-width="1.8" stroke-linejoin="round" stroke-dasharray="1.9 1.6"/>
<rect x="380.5" y="390.3" width="135.3" height="43" fill="none" stroke="#6e6e6e" stroke-width="1"/>
<text x="385" y="431.4" font-size="6.4" text-anchor="start" font-weight="bold" fill="#1e1e1e" font-family="Liberation Sans" transform="matrix(1 0 0 1.1 0 -42.9)">Fractional order: 0.90</text>
<text x="236" y="309.1" font-size="8.6" text-anchor="end" font-weight="bold" fill="#1e1e1e" font-family="Liberation Sans" transform="matrix(1 0 0 1.1 0 -30.6)" stroke="#1e1e1e" stroke-width="0.2">1</text>
<text x="236" y="327.3" font-size="8.6" text-anchor="end" font-weight="bold" fill="#1e1e1e" font-family="Liberation Sans" transform="matrix(1 0 0 1.1 0 -32.4)" stroke="#1e1e1e" stroke-width="0.2">0</text>
<text x="236" y="343.9" font-size="8.6" text-anchor="end" font-weight="bold" fill="#1e1e1e" font-family="Liberation Sans" transform="matrix(1 0 0 1.1 0 -34.1)" stroke="#1e1e1e" stroke-width="0.2">-1</text>
<text x="236" y="351.5" font-size="8.6" text-anchor="end" font-weight="bold" fill="#1e1e1e" font-family="Liberation Sans" transform="matrix(1 0 0 1.1 0 -34.8)" stroke="#1e1e1e" stroke-width="0.2">1</text>
<text x="236" y="370.5" font-size="8.6" text-anchor="end" font-weight="bold" fill="#1e1e1e" font-family="Liberation Sans" transform="matrix(1 0 0 1.1 0 -36.7)" stroke="#1e1e1e" stroke-width="0.2">0</text>
<text x="236" y="388.1" font-size="8.6" text-anchor="end" font-weight="bold" fill="#1e1e1e" font-family="Liberation Sans" transform="matrix(1 0 0 1.1 0 -38.5)" stroke="#1e1e1e" stroke-width="0.2">-1</text>
<text x="236" y="397.1" font-size="8.6" text-anchor="end" font-weight="bold" fill="#1e1e1e" font-family="Liberation Sans" transform="matrix(1 0 0 1.1 0 -39.4)" stroke="#1e1e1e" stroke-width="0.2">1</text>
<text x="236" y="415.9" font-size="8.6" text-anchor="end" font-weight="bold" fill="#1e1e1e" font-family="Liberation Sans" transform="matrix(1 0 0 1.1 0 -41.3)" stroke="#1e1e1e" stroke-width="0.2">0</text>
<text x="236" y="432.5" font-size="8.6" text-anchor="end" font-weight="bold" fill="#1e1e1e" font-family="Liberation Sans" transform="matrix(1 0 0 1.1 0 -42.9)" stroke="#1e1e1e" stroke-width="0.2">-1</text>
<text x="220" y="368.5" font-size="9.8" text-anchor="middle" font-weight="bold" fill="#1e1e1e" font-family="Liberation Sans" transform="rotate(-90 220 365)" stroke="#1e1e1e" stroke-width="0.2">Magnitude (a.u.)</text>
<text x="263" y="445.2" font-size="8.8" text-anchor="middle" font-weight="bold" fill="#1e1e1e" font-family="Liberation Sans" transform="matrix(1 0 0 1.1 0 -44.2)" stroke="#1e1e1e" stroke-width="0.2">-1</text>
<text x="310.8" y="445.2" font-size="8.8" text-anchor="middle" font-weight="bold" fill="#1e1e1e" font-family="Liberation Sans" transform="matrix(1 0 0 1.1 0 -44.2)" stroke="#1e1e1e" stroke-width="0.2">0</text>
<text x="353.8" y="445.2" font-size="8.8" text-anchor="middle" font-weight="bold" fill="#1e1e1e" font-family="Liberation Sans" transform="matrix(1 0 0 1.1 0 -44.2)" stroke="#1e1e1e" stroke-width="0.2">1</text>
<text x="316" y="457.2" font-size="8.8" text-anchor="middle" font-weight="bold" fill="#1e1e1e" font-family="Liberation Sans" transform="matrix(1 0 0 1.1 0 -45.4)" stroke="#1e1e1e" stroke-width="0.2">Time (ns)</text>
<text x="400.5" y="445.2" font-size="8.8" text-anchor="middle" font-weight="bold" fill="#1e1e1e" font-family="Liberation Sans" transform="matrix(1 0 0 1.1 0 -44.2)" stroke="#1e1e1e" stroke-width="0.2">-1</text>
<text x="448" y="445.2" font-size="8.8" text-anchor="middle" font-weight="bold" fill="#1e1e1e" font-family="Liberation Sans" transform="matrix(1 0 0 1.1 0 -44.2)" stroke="#1e1e1e" stroke-width="0.2">0</text>
<text x="491.6" y="445.2" font-size="8.8" text-anchor="middle" font-weight="bold" fill="#1e1e1e" font-family="Liberation Sans" transform="matrix(1 0 0 1.1 0 -44.2)" stroke="#1e1e1e" stroke-width="0.2">1</text>
<text x="453.5" y="457.2" font-size="8.8" text-anchor="middle" font-weight="bold" fill="#1e1e1e" font-family="Liberation Sans" transform="matrix(1 0 0 1.1 0 -45.4)" stroke="#1e1e1e" stroke-width="0.2">Time (ns)</text></svg>
</body></html>
